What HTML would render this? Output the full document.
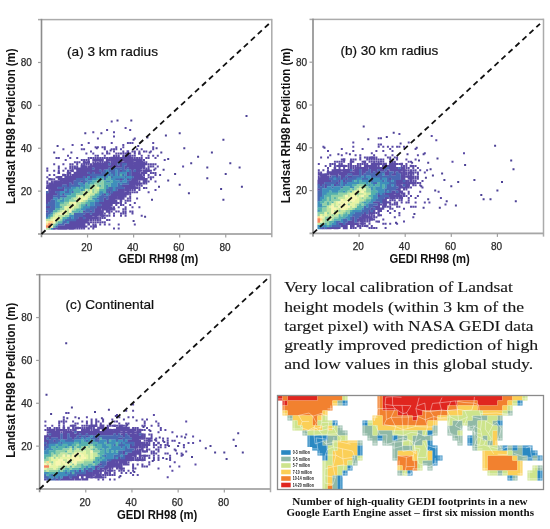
<!DOCTYPE html><html><head><meta charset="utf-8"><style>html,body{margin:0;padding:0;background:#fff;width:550px;height:529px;overflow:hidden}svg{display:block;filter:blur(0.35px)}.tk{font-family:"Liberation Sans",sans-serif;font-size:10px;fill:#2a2a2a;stroke:#2a2a2a;stroke-width:0.25px}.lb{font-family:"Liberation Sans",sans-serif;font-size:12px;font-weight:bold;fill:#111}.tt{font-family:"Liberation Sans",sans-serif;font-size:13px;fill:#111;stroke:#111;stroke-width:0.2px}.sf{font-family:"Liberation Serif",serif;font-size:15px;fill:#151515;stroke:#151515;stroke-width:0.12px}.cp{font-family:"Liberation Serif",serif;font-size:10.6px;font-weight:bold;fill:#111}</style></head><body>
<svg width="550" height="529" viewBox="0 0 550 529">
<g><path fill="#5b4ba6" d="M87.41 212.41h2.60v2.44h-2.60zM124.26 193.11h2.60v2.44h-2.60zM124.26 167.39h2.60v2.44h-2.60zM115.05 158.81h2.60v2.44h-2.60zM52.87 193.11h2.60v2.44h-2.60zM108.14 165.24h2.60v2.44h-2.60zM98.92 167.39h2.60v2.44h-2.60zM145.3 182.6h2v2h-2zM96.62 205.98h2.60v2.44h-2.60zM87.41 214.55h2.60v2.44h-2.60zM108.14 197.40h2.60v2.44h-2.60zM82.80 214.55h2.60v2.44h-2.60zM66.68 178.11h2.60v2.44h-2.60zM57.47 182.39h2.60v2.44h-2.60zM48.26 197.40h2.60v2.44h-2.60zM53.2 180.5h2v2h-2zM113.0 206.2h2v2h-2zM89.71 214.55h2.60v2.44h-2.60zM55.17 193.11h2.60v2.44h-2.60zM89.71 171.67h2.60v2.44h-2.60zM119.65 169.53h2.60v2.44h-2.60zM62.08 188.83h2.60v2.44h-2.60zM96.62 171.67h2.60v2.44h-2.60zM117.35 158.81h2.60v2.44h-2.60zM52.87 184.54h2.60v2.44h-2.60zM115.05 190.97h2.60v2.44h-2.60zM50.9 189.0h2v2h-2zM108.4 156.9h2v2h-2zM133.47 175.96h2.60v2.44h-2.60zM101.23 201.69h2.60v2.44h-2.60zM75.89 218.84h2.60v2.44h-2.60zM80.50 218.84h2.60v2.44h-2.60zM128.86 160.95h2.60v2.44h-2.60zM126.56 190.97h2.60v2.44h-2.60zM154.5 167.6h2v2h-2zM92.3 161.2h2v2h-2zM69.3 225.5h2v2h-2zM48.26 186.68h2.60v2.44h-2.60zM96.62 208.12h2.60v2.44h-2.60zM94.32 171.67h2.60v2.44h-2.60zM89.71 210.27h2.60v2.44h-2.60zM105.83 210.27h2.60v2.44h-2.60zM138.08 173.82h2.60v2.44h-2.60zM85.11 167.39h2.60v2.44h-2.60zM133.47 182.39h2.60v2.44h-2.60zM87.7 219.1h2v2h-2zM73.59 171.67h2.60v2.44h-2.60zM73.9 227.6h2v2h-2zM85.11 214.55h2.60v2.44h-2.60zM131.17 186.68h2.60v2.44h-2.60zM119.65 199.55h2.60v2.44h-2.60zM112.74 163.10h2.60v2.44h-2.60zM71.29 169.53h2.60v2.44h-2.60zM101.23 167.39h2.60v2.44h-2.60zM73.59 175.96h2.60v2.44h-2.60zM94.32 163.10h2.60v2.44h-2.60zM62.08 186.68h2.60v2.44h-2.60zM82.80 171.67h2.60v2.44h-2.60zM128.86 167.39h2.60v2.44h-2.60zM73.59 225.27h2.60v2.44h-2.60zM69.3 165.5h2v2h-2zM57.47 188.83h2.60v2.44h-2.60zM110.44 195.26h2.60v2.44h-2.60zM133.47 178.11h2.60v2.44h-2.60zM126.56 156.67h2.60v2.44h-2.60zM66.68 184.54h2.60v2.44h-2.60zM152.2 163.3h2v2h-2zM64.38 227.42h2.60v2.44h-2.60zM94.32 210.27h2.60v2.44h-2.60zM98.92 158.81h2.60v2.44h-2.60zM128.86 165.24h2.60v2.44h-2.60zM52.87 188.83h2.60v2.44h-2.60zM48.26 195.26h2.60v2.44h-2.60zM78.20 216.70h2.60v2.44h-2.60zM115.05 163.10h2.60v2.44h-2.60zM131.17 160.95h2.60v2.44h-2.60zM126.56 186.68h2.60v2.44h-2.60zM94.32 208.12h2.60v2.44h-2.60zM122.3 159.0h2v2h-2zM98.92 205.98h2.60v2.44h-2.60zM68.99 180.25h2.60v2.44h-2.60zM103.53 201.69h2.60v2.44h-2.60zM103.53 197.40h2.60v2.44h-2.60zM64.38 182.39h2.60v2.44h-2.60zM82.80 160.95h2.60v2.44h-2.60zM62.08 227.42h2.60v2.44h-2.60zM52.87 227.42h2.60v2.44h-2.60zM117.35 193.11h2.60v2.44h-2.60zM110.44 167.39h2.60v2.44h-2.60zM140.38 160.95h2.60v2.44h-2.60zM90.0 163.3h2v2h-2zM48.26 205.98h2.60v2.44h-2.60zM92.02 212.41h2.60v2.44h-2.60zM133.8 156.9h2v2h-2zM135.77 163.10h2.60v2.44h-2.60zM73.59 173.82h2.60v2.44h-2.60zM50.56 195.26h2.60v2.44h-2.60zM110.44 193.11h2.60v2.44h-2.60zM78.5 219.1h2v2h-2zM120.0 201.9h2v2h-2zM85.11 173.82h2.60v2.44h-2.60zM101.23 203.83h2.60v2.44h-2.60zM50.56 197.40h2.60v2.44h-2.60zM124.26 158.81h2.60v2.44h-2.60zM112.74 156.67h2.60v2.44h-2.60zM105.83 165.24h2.60v2.44h-2.60zM135.77 178.11h2.60v2.44h-2.60zM121.95 156.67h2.60v2.44h-2.60zM92.3 159.0h2v2h-2zM138.08 175.96h2.60v2.44h-2.60zM85.11 171.67h2.60v2.44h-2.60zM138.08 182.39h2.60v2.44h-2.60zM101.23 163.10h2.60v2.44h-2.60zM135.77 165.24h2.60v2.44h-2.60zM48.26 188.83h2.60v2.44h-2.60zM112.74 197.40h2.60v2.44h-2.60zM66.68 182.39h2.60v2.44h-2.60zM119.65 158.81h2.60v2.44h-2.60zM50.56 190.97h2.60v2.44h-2.60zM78.5 223.4h2v2h-2zM119.65 190.97h2.60v2.44h-2.60zM128.86 180.25h2.60v2.44h-2.60zM133.8 159.0h2v2h-2zM89.71 167.39h2.60v2.44h-2.60zM140.7 154.7h2v2h-2zM131.17 182.39h2.60v2.44h-2.60zM138.08 167.39h2.60v2.44h-2.60zM80.50 216.70h2.60v2.44h-2.60zM62.08 178.11h2.60v2.44h-2.60zM45.96 201.69h2.60v2.44h-2.60zM121.95 195.26h2.60v2.44h-2.60zM50.56 184.54h2.60v2.44h-2.60zM124.26 184.54h2.60v2.44h-2.60zM92.3 152.6h2v2h-2zM112.74 165.24h2.60v2.44h-2.60zM96.62 169.53h2.60v2.44h-2.60zM68.99 220.99h2.60v2.44h-2.60zM71.29 175.96h2.60v2.44h-2.60zM103.8 154.7h2v2h-2zM82.80 210.27h2.60v2.44h-2.60zM75.89 171.67h2.60v2.44h-2.60zM50.56 186.68h2.60v2.44h-2.60zM48.26 184.54h2.60v2.44h-2.60zM110.44 158.81h2.60v2.44h-2.60zM80.50 175.96h2.60v2.44h-2.60zM89.71 175.96h2.60v2.44h-2.60zM83.1 227.6h2v2h-2zM117.35 165.24h2.60v2.44h-2.60zM115.05 201.69h2.60v2.44h-2.60zM59.77 184.54h2.60v2.44h-2.60zM117.35 190.97h2.60v2.44h-2.60zM110.44 197.40h2.60v2.44h-2.60zM80.8 148.3h2v2h-2zM78.20 225.27h2.60v2.44h-2.60zM55.17 184.54h2.60v2.44h-2.60zM62.08 225.27h2.60v2.44h-2.60zM94.32 165.24h2.60v2.44h-2.60zM138.4 178.3h2v2h-2zM133.47 173.82h2.60v2.44h-2.60zM80.50 180.25h2.60v2.44h-2.60zM94.32 216.70h2.60v2.44h-2.60zM105.83 163.10h2.60v2.44h-2.60zM124.26 165.24h2.60v2.44h-2.60zM124.26 160.95h2.60v2.44h-2.60zM80.50 173.82h2.60v2.44h-2.60zM108.14 208.12h2.60v2.44h-2.60zM135.77 182.39h2.60v2.44h-2.60zM115.05 193.11h2.60v2.44h-2.60zM131.5 210.5h2v2h-2zM87.7 165.5h2v2h-2zM126.56 184.54h2.60v2.44h-2.60zM80.50 165.24h2.60v2.44h-2.60zM119.65 160.95h2.60v2.44h-2.60zM80.50 223.13h2.60v2.44h-2.60zM99.2 161.2h2v2h-2zM85.11 175.96h2.60v2.44h-2.60zM66.68 180.25h2.60v2.44h-2.60zM68.99 227.42h2.60v2.44h-2.60zM71.29 227.42h2.60v2.44h-2.60zM126.56 171.67h2.60v2.44h-2.60zM110.44 165.24h2.60v2.44h-2.60zM66.68 175.96h2.60v2.44h-2.60zM48.26 193.11h2.60v2.44h-2.60zM55.17 188.83h2.60v2.44h-2.60zM138.08 160.95h2.60v2.44h-2.60zM62.08 173.82h2.60v2.44h-2.60zM119.65 178.11h2.60v2.44h-2.60zM142.68 163.10h2.60v2.44h-2.60zM140.7 174.0h2v2h-2zM135.77 171.67h2.60v2.44h-2.60zM126.56 188.83h2.60v2.44h-2.60zM57.47 171.67h2.60v2.44h-2.60zM96.62 210.27h2.60v2.44h-2.60zM138.4 171.9h2v2h-2zM64.38 180.25h2.60v2.44h-2.60zM80.8 167.6h2v2h-2zM126.56 173.82h2.60v2.44h-2.60zM131.17 167.39h2.60v2.44h-2.60zM89.71 169.53h2.60v2.44h-2.60zM94.32 169.53h2.60v2.44h-2.60zM108.4 219.1h2v2h-2zM48.26 199.55h2.60v2.44h-2.60zM98.92 201.69h2.60v2.44h-2.60zM101.23 205.98h2.60v2.44h-2.60zM73.9 165.5h2v2h-2zM57.47 225.27h2.60v2.44h-2.60zM71.29 220.99h2.60v2.44h-2.60zM96.9 159.0h2v2h-2zM59.77 182.39h2.60v2.44h-2.60zM66.68 223.13h2.60v2.44h-2.60zM119.65 165.24h2.60v2.44h-2.60zM126.56 150.23h2.60v2.44h-2.60zM89.71 165.24h2.60v2.44h-2.60zM133.47 171.67h2.60v2.44h-2.60zM45.96 195.26h2.60v2.44h-2.60zM110.7 161.2h2v2h-2zM138.08 169.53h2.60v2.44h-2.60zM143.0 174.0h2v2h-2zM71.6 167.6h2v2h-2zM143.0 159.0h2v2h-2zM82.80 167.39h2.60v2.44h-2.60zM105.83 203.83h2.60v2.44h-2.60zM53.2 182.6h2v2h-2zM115.3 195.5h2v2h-2zM105.83 205.98h2.60v2.44h-2.60zM82.80 169.53h2.60v2.44h-2.60zM140.7 169.8h2v2h-2zM59.77 180.25h2.60v2.44h-2.60zM143.0 186.9h2v2h-2zM108.14 205.98h2.60v2.44h-2.60zM154.5 180.5h2v2h-2zM68.99 175.96h2.60v2.44h-2.60zM135.77 173.82h2.60v2.44h-2.60zM82.80 223.13h2.60v2.44h-2.60zM124.6 212.6h2v2h-2zM131.17 171.67h2.60v2.44h-2.60zM135.77 158.81h2.60v2.44h-2.60zM108.14 199.55h2.60v2.44h-2.60zM112.74 158.81h2.60v2.44h-2.60zM129.2 141.9h2v2h-2zM122.3 146.2h2v2h-2zM112.74 193.11h2.60v2.44h-2.60zM110.44 199.55h2.60v2.44h-2.60zM82.80 165.24h2.60v2.44h-2.60zM124.6 206.2h2v2h-2zM68.99 178.11h2.60v2.44h-2.60zM62.4 163.3h2v2h-2zM121.95 188.83h2.60v2.44h-2.60zM94.32 225.27h2.60v2.44h-2.60zM80.50 171.67h2.60v2.44h-2.60zM131.17 169.53h2.60v2.44h-2.60zM94.6 161.2h2v2h-2zM117.7 210.5h2v2h-2zM115.05 160.95h2.60v2.44h-2.60zM126.9 199.8h2v2h-2zM98.92 212.41h2.60v2.44h-2.60zM94.32 158.81h2.60v2.44h-2.60zM59.77 188.83h2.60v2.44h-2.60zM101.23 165.24h2.60v2.44h-2.60zM138.4 186.9h2v2h-2zM103.53 199.55h2.60v2.44h-2.60zM112.74 160.95h2.60v2.44h-2.60zM87.7 163.3h2v2h-2zM80.8 163.3h2v2h-2zM126.56 152.38h2.60v2.44h-2.60zM62.08 193.11h2.60v2.44h-2.60zM121.95 190.97h2.60v2.44h-2.60zM154.5 163.3h2v2h-2zM115.3 152.6h2v2h-2zM92.3 221.2h2v2h-2zM71.29 180.25h2.60v2.44h-2.60zM112.74 190.97h2.60v2.44h-2.60zM131.17 180.25h2.60v2.44h-2.60zM133.8 184.8h2v2h-2zM78.20 220.99h2.60v2.44h-2.60zM140.7 171.9h2v2h-2zM105.83 199.55h2.60v2.44h-2.60zM55.17 180.25h2.60v2.44h-2.60zM119.65 163.10h2.60v2.44h-2.60zM82.80 225.27h2.60v2.44h-2.60zM87.41 167.39h2.60v2.44h-2.60zM64.38 175.96h2.60v2.44h-2.60zM85.4 165.5h2v2h-2zM138.08 158.81h2.60v2.44h-2.60zM103.53 203.83h2.60v2.44h-2.60zM110.44 201.69h2.60v2.44h-2.60zM71.6 144.0h2v2h-2zM78.20 167.39h2.60v2.44h-2.60zM136.1 180.5h2v2h-2zM131.17 173.82h2.60v2.44h-2.60zM98.92 171.67h2.60v2.44h-2.60zM145.3 171.9h2v2h-2zM71.29 225.27h2.60v2.44h-2.60zM99.2 221.2h2v2h-2zM87.41 160.95h2.60v2.44h-2.60zM85.11 218.84h2.60v2.44h-2.60zM106.1 219.1h2v2h-2zM82.80 220.99h2.60v2.44h-2.60zM46.3 167.6h2v2h-2zM133.47 180.25h2.60v2.44h-2.60zM76.2 161.2h2v2h-2zM110.44 163.10h2.60v2.44h-2.60zM126.56 154.52h2.60v2.44h-2.60zM99.2 208.3h2v2h-2zM85.11 212.41h2.60v2.44h-2.60zM57.8 165.5h2v2h-2zM124.26 186.68h2.60v2.44h-2.60zM69.3 156.9h2v2h-2zM144.98 169.53h2.60v2.44h-2.60zM126.9 197.6h2v2h-2zM126.56 163.10h2.60v2.44h-2.60zM145.3 156.9h2v2h-2zM108.4 210.5h2v2h-2zM103.8 212.6h2v2h-2zM94.6 219.1h2v2h-2zM149.9 169.8h2v2h-2zM105.83 201.69h2.60v2.44h-2.60zM48.26 178.11h2.60v2.44h-2.60zM68.99 223.13h2.60v2.44h-2.60zM131.17 163.10h2.60v2.44h-2.60zM120.0 204.1h2v2h-2zM64.7 174.0h2v2h-2zM76.2 169.8h2v2h-2zM85.11 216.70h2.60v2.44h-2.60zM106.1 214.8h2v2h-2zM94.32 212.41h2.60v2.44h-2.60zM143.0 150.5h2v2h-2zM115.05 165.24h2.60v2.44h-2.60zM78.20 175.96h2.60v2.44h-2.60zM101.5 161.2h2v2h-2zM121.95 184.54h2.60v2.44h-2.60zM92.02 169.53h2.60v2.44h-2.60zM122.3 152.6h2v2h-2zM129.2 197.6h2v2h-2zM142.68 165.24h2.60v2.44h-2.60zM124.6 208.3h2v2h-2zM96.9 146.2h2v2h-2zM117.35 188.83h2.60v2.44h-2.60zM55.5 176.2h2v2h-2zM59.77 225.27h2.60v2.44h-2.60zM69.3 163.3h2v2h-2zM87.41 216.70h2.60v2.44h-2.60zM108.4 212.6h2v2h-2zM59.77 227.42h2.60v2.44h-2.60zM126.56 158.81h2.60v2.44h-2.60zM108.14 190.97h2.60v2.44h-2.60zM78.20 169.53h2.60v2.44h-2.60zM117.35 160.95h2.60v2.44h-2.60zM133.47 165.24h2.60v2.44h-2.60zM55.17 186.68h2.60v2.44h-2.60zM128.86 186.68h2.60v2.44h-2.60zM64.7 167.6h2v2h-2zM105.83 167.39h2.60v2.44h-2.60zM78.5 227.6h2v2h-2zM128.86 163.10h2.60v2.44h-2.60zM64.38 225.27h2.60v2.44h-2.60zM119.65 197.40h2.60v2.44h-2.60zM90.0 225.5h2v2h-2zM113.0 154.7h2v2h-2zM45.96 210.27h2.60v2.44h-2.60zM45.96 186.68h2.60v2.44h-2.60zM133.8 189.0h2v2h-2zM126.56 178.11h2.60v2.44h-2.60zM46.3 184.8h2v2h-2zM50.9 180.5h2v2h-2zM138.4 156.9h2v2h-2zM59.77 178.11h2.60v2.44h-2.60zM147.29 169.53h2.60v2.44h-2.60zM138.08 163.10h2.60v2.44h-2.60zM128.86 184.54h2.60v2.44h-2.60zM80.50 220.99h2.60v2.44h-2.60zM135.77 175.96h2.60v2.44h-2.60zM101.23 210.27h2.60v2.44h-2.60zM96.9 221.2h2v2h-2zM57.47 175.96h2.60v2.44h-2.60zM149.9 171.9h2v2h-2zM96.62 167.39h2.60v2.44h-2.60zM45.96 199.55h2.60v2.44h-2.60zM98.92 165.24h2.60v2.44h-2.60zM131.17 178.11h2.60v2.44h-2.60zM48.6 182.6h2v2h-2zM69.3 167.6h2v2h-2zM57.8 180.5h2v2h-2zM73.59 178.11h2.60v2.44h-2.60zM126.9 141.9h2v2h-2zM66.68 225.27h2.60v2.44h-2.60zM85.11 169.53h2.60v2.44h-2.60zM142.68 180.25h2.60v2.44h-2.60zM92.3 227.6h2v2h-2zM45.96 193.11h2.60v2.44h-2.60zM135.77 169.53h2.60v2.44h-2.60zM143.0 176.2h2v2h-2zM87.7 227.6h2v2h-2zM82.80 218.84h2.60v2.44h-2.60zM135.77 167.39h2.60v2.44h-2.60zM126.56 165.24h2.60v2.44h-2.60zM101.5 221.2h2v2h-2zM122.3 154.7h2v2h-2zM124.26 156.67h2.60v2.44h-2.60zM140.7 167.6h2v2h-2zM52.87 190.97h2.60v2.44h-2.60zM62.08 182.39h2.60v2.44h-2.60zM108.4 214.8h2v2h-2zM82.80 173.82h2.60v2.44h-2.60zM156.8 165.5h2v2h-2zM75.89 173.82h2.60v2.44h-2.60zM96.9 165.5h2v2h-2zM144.98 178.11h2.60v2.44h-2.60zM71.29 178.11h2.60v2.44h-2.60zM142.68 171.67h2.60v2.44h-2.60zM140.38 165.24h2.60v2.44h-2.60zM103.53 165.24h2.60v2.44h-2.60zM71.29 182.39h2.60v2.44h-2.60zM85.4 161.2h2v2h-2zM75.89 225.27h2.60v2.44h-2.60zM140.7 156.9h2v2h-2zM140.38 178.11h2.60v2.44h-2.60zM129.2 195.5h2v2h-2zM71.6 174.0h2v2h-2zM80.50 169.53h2.60v2.44h-2.60zM96.9 154.7h2v2h-2zM117.7 152.6h2v2h-2zM64.7 178.3h2v2h-2zM105.83 160.95h2.60v2.44h-2.60zM145.3 180.5h2v2h-2zM133.8 161.2h2v2h-2zM96.9 214.8h2v2h-2zM108.14 195.26h2.60v2.44h-2.60zM98.92 210.27h2.60v2.44h-2.60zM75.89 167.39h2.60v2.44h-2.60zM89.71 216.70h2.60v2.44h-2.60zM87.41 169.53h2.60v2.44h-2.60zM53.2 163.3h2v2h-2zM78.20 171.67h2.60v2.44h-2.60zM143.0 178.3h2v2h-2zM75.89 223.13h2.60v2.44h-2.60zM103.53 205.98h2.60v2.44h-2.60zM80.8 225.5h2v2h-2zM121.95 197.40h2.60v2.44h-2.60zM85.4 152.6h2v2h-2zM106.1 156.9h2v2h-2zM143.0 167.6h2v2h-2zM140.7 182.6h2v2h-2zM117.35 195.26h2.60v2.44h-2.60zM145.3 150.5h2v2h-2zM121.95 193.11h2.60v2.44h-2.60zM80.8 159.0h2v2h-2zM75.89 175.96h2.60v2.44h-2.60zM131.17 165.24h2.60v2.44h-2.60zM133.8 163.3h2v2h-2zM96.62 212.41h2.60v2.44h-2.60zM108.4 152.6h2v2h-2zM108.14 201.69h2.60v2.44h-2.60zM76.2 227.6h2v2h-2zM57.8 178.3h2v2h-2zM140.38 163.10h2.60v2.44h-2.60zM110.7 208.3h2v2h-2zM45.96 205.98h2.60v2.44h-2.60zM145.3 186.9h2v2h-2zM115.05 156.67h2.60v2.44h-2.60zM140.38 175.96h2.60v2.44h-2.60zM117.7 154.7h2v2h-2zM78.5 161.2h2v2h-2zM92.02 165.24h2.60v2.44h-2.60zM57.47 227.42h2.60v2.44h-2.60zM128.86 182.39h2.60v2.44h-2.60zM113.0 214.8h2v2h-2zM94.6 223.4h2v2h-2zM112.74 195.26h2.60v2.44h-2.60zM117.35 156.67h2.60v2.44h-2.60zM145.3 161.2h2v2h-2zM67.0 169.8h2v2h-2zM120.0 212.6h2v2h-2zM53.2 178.3h2v2h-2zM69.3 169.8h2v2h-2zM55.5 227.6h2v2h-2zM138.08 152.38h2.60v2.44h-2.60zM108.4 161.2h2v2h-2zM108.4 159.0h2v2h-2zM103.53 193.11h2.60v2.44h-2.60zM87.41 223.13h2.60v2.44h-2.60zM99.2 223.4h2v2h-2zM147.6 165.5h2v2h-2zM53.2 169.8h2v2h-2zM131.17 158.81h2.60v2.44h-2.60zM94.6 221.2h2v2h-2zM110.7 120.4h2v2h-2zM138.4 180.5h2v2h-2zM135.77 160.95h2.60v2.44h-2.60zM87.41 173.82h2.60v2.44h-2.60zM133.47 186.68h2.60v2.44h-2.60zM149.9 176.2h2v2h-2zM105.83 158.81h2.60v2.44h-2.60zM46.3 180.5h2v2h-2zM128.86 158.81h2.60v2.44h-2.60zM101.5 152.6h2v2h-2zM103.53 167.39h2.60v2.44h-2.60zM59.77 175.96h2.60v2.44h-2.60zM108.14 203.83h2.60v2.44h-2.60zM90.0 219.1h2v2h-2zM126.56 160.95h2.60v2.44h-2.60zM85.11 220.99h2.60v2.44h-2.60zM94.6 154.7h2v2h-2zM133.8 201.9h2v2h-2zM48.6 174.0h2v2h-2zM115.3 204.1h2v2h-2zM122.3 161.2h2v2h-2zM152.2 171.9h2v2h-2zM128.86 156.67h2.60v2.44h-2.60zM136.1 184.8h2v2h-2zM110.44 156.67h2.60v2.44h-2.60zM101.23 169.53h2.60v2.44h-2.60zM145.3 167.6h2v2h-2zM131.5 141.9h2v2h-2zM92.3 156.9h2v2h-2zM92.3 163.3h2v2h-2zM156.8 154.7h2v2h-2zM124.6 152.6h2v2h-2zM133.8 223.4h2v2h-2zM117.35 197.40h2.60v2.44h-2.60zM99.2 216.9h2v2h-2zM46.3 182.6h2v2h-2zM96.9 161.2h2v2h-2zM46.3 169.8h2v2h-2zM73.9 167.6h2v2h-2zM103.8 223.4h2v2h-2zM78.20 173.82h2.60v2.44h-2.60zM76.2 163.3h2v2h-2zM119.65 188.83h2.60v2.44h-2.60zM103.53 208.12h2.60v2.44h-2.60zM113.0 148.3h2v2h-2zM76.2 165.5h2v2h-2zM115.3 210.5h2v2h-2zM124.6 201.9h2v2h-2zM90.0 150.5h2v2h-2zM147.6 174.0h2v2h-2zM64.7 223.4h2v2h-2zM96.62 163.10h2.60v2.44h-2.60zM133.47 167.39h2.60v2.44h-2.60zM106.1 208.3h2v2h-2zM73.59 223.13h2.60v2.44h-2.60zM154.5 189.0h2v2h-2zM117.7 201.9h2v2h-2zM124.6 214.8h2v2h-2zM103.8 148.3h2v2h-2zM122.3 212.6h2v2h-2zM147.6 156.9h2v2h-2zM103.53 163.10h2.60v2.44h-2.60zM113.0 150.5h2v2h-2zM76.2 156.9h2v2h-2zM55.17 182.39h2.60v2.44h-2.60zM69.3 174.0h2v2h-2zM145.3 163.3h2v2h-2zM138.4 189.0h2v2h-2zM71.29 223.13h2.60v2.44h-2.60zM124.6 189.0h2v2h-2zM154.5 174.0h2v2h-2zM131.17 184.54h2.60v2.44h-2.60zM45.96 197.40h2.60v2.44h-2.60zM129.2 189.0h2v2h-2zM136.1 156.9h2v2h-2zM96.9 216.9h2v2h-2zM147.6 191.2h2v2h-2zM119.65 195.26h2.60v2.44h-2.60zM133.8 137.6h2v2h-2zM50.56 182.39h2.60v2.44h-2.60zM50.56 193.11h2.60v2.44h-2.60zM92.3 214.8h2v2h-2zM85.4 159.0h2v2h-2zM115.3 197.6h2v2h-2zM112.74 208.12h2.60v2.44h-2.60zM73.59 220.99h2.60v2.44h-2.60zM110.7 204.1h2v2h-2zM110.7 206.2h2v2h-2zM136.1 186.9h2v2h-2zM182.1 165.5h2v2h-2zM103.8 161.2h2v2h-2zM136.1 148.3h2v2h-2zM113.0 135.4h2v2h-2zM94.32 167.39h2.60v2.44h-2.60zM113.0 201.9h2v2h-2zM52.87 186.68h2.60v2.44h-2.60zM129.2 154.7h2v2h-2zM103.8 156.9h2v2h-2zM69.3 171.9h2v2h-2zM83.1 163.3h2v2h-2zM80.8 144.0h2v2h-2zM138.08 165.24h2.60v2.44h-2.60zM87.7 141.9h2v2h-2zM152.2 141.9h2v2h-2zM131.5 156.9h2v2h-2zM106.1 152.6h2v2h-2zM101.23 214.55h2.60v2.44h-2.60zM57.47 184.54h2.60v2.44h-2.60zM115.3 148.3h2v2h-2zM67.0 154.7h2v2h-2zM117.7 206.2h2v2h-2zM85.4 163.3h2v2h-2zM87.7 221.2h2v2h-2zM138.4 206.2h2v2h-2zM66.68 171.67h2.60v2.44h-2.60zM96.9 219.1h2v2h-2zM67.0 227.6h2v2h-2zM92.3 219.1h2v2h-2zM143.0 161.2h2v2h-2zM122.3 144.0h2v2h-2zM87.7 159.0h2v2h-2zM75.89 220.99h2.60v2.44h-2.60zM119.65 193.11h2.60v2.44h-2.60zM129.2 199.8h2v2h-2zM120.0 214.8h2v2h-2zM94.32 214.55h2.60v2.44h-2.60zM110.7 148.3h2v2h-2zM120.0 152.6h2v2h-2zM92.3 223.4h2v2h-2zM92.3 131.2h2v2h-2zM67.0 174.0h2v2h-2zM120.0 156.9h2v2h-2zM124.6 126.9h2v2h-2zM133.8 154.7h2v2h-2zM159.1 174.0h2v2h-2zM92.3 225.5h2v2h-2zM99.2 214.8h2v2h-2zM152.2 154.7h2v2h-2zM147.6 154.7h2v2h-2zM101.23 158.81h2.60v2.44h-2.60zM112.74 199.55h2.60v2.44h-2.60zM149.9 165.5h2v2h-2zM122.3 208.3h2v2h-2zM113.0 131.2h2v2h-2zM101.5 212.6h2v2h-2zM140.7 214.8h2v2h-2zM115.3 154.7h2v2h-2zM92.3 216.9h2v2h-2zM126.9 193.3h2v2h-2zM129.2 152.6h2v2h-2zM133.8 152.6h2v2h-2zM106.1 150.5h2v2h-2zM108.4 223.4h2v2h-2zM90.0 156.9h2v2h-2zM154.5 156.9h2v2h-2zM147.6 163.3h2v2h-2zM149.9 163.3h2v2h-2zM83.1 159.0h2v2h-2zM106.1 129.0h2v2h-2zM149.9 150.5h2v2h-2zM124.6 199.8h2v2h-2zM110.7 141.9h2v2h-2zM62.4 180.5h2v2h-2zM129.2 210.5h2v2h-2zM103.8 221.2h2v2h-2zM122.3 150.5h2v2h-2zM57.8 156.9h2v2h-2zM138.4 150.5h2v2h-2zM117.7 227.6h2v2h-2zM90.0 221.2h2v2h-2zM129.2 191.2h2v2h-2zM147.6 180.5h2v2h-2zM136.1 191.2h2v2h-2zM131.5 191.2h2v2h-2zM99.2 219.1h2v2h-2zM101.5 216.9h2v2h-2zM50.9 178.3h2v2h-2zM101.5 208.3h2v2h-2zM71.6 165.5h2v2h-2zM143.0 182.6h2v2h-2zM131.5 150.5h2v2h-2zM64.7 159.0h2v2h-2zM48.26 190.97h2.60v2.44h-2.60zM96.9 137.6h2v2h-2zM115.3 199.8h2v2h-2zM140.7 148.3h2v2h-2zM131.5 212.6h2v2h-2zM83.1 148.3h2v2h-2zM122.3 210.5h2v2h-2zM163.7 159.0h2v2h-2zM131.5 189.0h2v2h-2zM62.4 148.3h2v2h-2zM140.7 184.8h2v2h-2zM57.8 169.8h2v2h-2zM152.2 148.3h2v2h-2zM94.6 156.9h2v2h-2zM103.8 214.8h2v2h-2zM113.0 227.6h2v2h-2zM103.8 216.9h2v2h-2zM124.6 195.5h2v2h-2zM87.7 156.9h2v2h-2zM113.0 212.6h2v2h-2zM57.8 167.6h2v2h-2zM124.6 191.2h2v2h-2zM129.2 129.0h2v2h-2zM124.6 154.7h2v2h-2zM71.6 163.3h2v2h-2zM152.2 165.5h2v2h-2zM122.3 204.1h2v2h-2zM147.6 167.6h2v2h-2zM110.7 210.5h2v2h-2zM99.2 156.9h2v2h-2zM103.8 146.2h2v2h-2zM73.9 161.2h2v2h-2zM133.8 150.5h2v2h-2zM96.9 156.9h2v2h-2zM62.4 169.8h2v2h-2zM131.5 206.2h2v2h-2zM136.1 197.6h2v2h-2zM117.7 223.4h2v2h-2zM152.2 146.2h2v2h-2zM124.6 210.5h2v2h-2zM115.3 146.2h2v2h-2zM133.8 191.2h2v2h-2zM140.7 159.0h2v2h-2zM120.0 148.3h2v2h-2zM149.9 178.3h2v2h-2zM53.2 174.0h2v2h-2zM138.4 184.8h2v2h-2zM99.2 163.3h2v2h-2zM129.2 204.1h2v2h-2zM147.6 176.2h2v2h-2zM143.0 169.8h2v2h-2zM129.2 193.3h2v2h-2zM46.3 176.2h2v2h-2zM101.5 146.2h2v2h-2zM80.8 227.6h2v2h-2zM131.5 154.7h2v2h-2zM101.5 156.9h2v2h-2zM55.5 156.9h2v2h-2zM154.5 171.9h2v2h-2zM94.6 146.2h2v2h-2zM152.2 176.2h2v2h-2zM85.4 225.5h2v2h-2z"/><path fill="#4a68b3" d="M55.17 190.97h2.60v2.44h-2.60zM64.38 195.26h2.60v2.44h-2.60zM92.02 173.82h2.60v2.44h-2.60zM124.26 169.53h2.60v2.44h-2.60zM73.59 218.84h2.60v2.44h-2.60zM92.02 208.12h2.60v2.44h-2.60zM64.38 220.99h2.60v2.44h-2.60zM110.44 186.68h2.60v2.44h-2.60zM121.95 173.82h2.60v2.44h-2.60zM78.20 180.25h2.60v2.44h-2.60zM87.41 208.12h2.60v2.44h-2.60zM115.05 178.11h2.60v2.44h-2.60zM103.53 175.96h2.60v2.44h-2.60zM82.80 180.25h2.60v2.44h-2.60zM112.74 167.39h2.60v2.44h-2.60zM101.23 195.26h2.60v2.44h-2.60zM57.47 193.11h2.60v2.44h-2.60zM101.23 199.55h2.60v2.44h-2.60zM48.26 210.27h2.60v2.44h-2.60zM87.41 171.67h2.60v2.44h-2.60zM78.20 184.54h2.60v2.44h-2.60zM75.89 212.41h2.60v2.44h-2.60zM117.35 178.11h2.60v2.44h-2.60zM75.89 184.54h2.60v2.44h-2.60zM80.50 178.11h2.60v2.44h-2.60zM92.02 175.96h2.60v2.44h-2.60zM71.29 218.84h2.60v2.44h-2.60zM62.08 223.13h2.60v2.44h-2.60zM52.87 205.98h2.60v2.44h-2.60zM71.29 184.54h2.60v2.44h-2.60zM115.05 186.68h2.60v2.44h-2.60zM115.05 167.39h2.60v2.44h-2.60zM115.05 188.83h2.60v2.44h-2.60zM66.68 218.84h2.60v2.44h-2.60zM98.92 197.40h2.60v2.44h-2.60zM119.65 184.54h2.60v2.44h-2.60zM110.44 171.67h2.60v2.44h-2.60zM121.95 167.39h2.60v2.44h-2.60zM80.50 212.41h2.60v2.44h-2.60zM92.02 167.39h2.60v2.44h-2.60zM80.50 214.55h2.60v2.44h-2.60zM50.56 210.27h2.60v2.44h-2.60zM45.96 212.41h2.60v2.44h-2.60zM73.59 216.70h2.60v2.44h-2.60zM117.35 186.68h2.60v2.44h-2.60zM50.56 205.98h2.60v2.44h-2.60zM73.59 182.39h2.60v2.44h-2.60zM94.32 173.82h2.60v2.44h-2.60zM75.89 180.25h2.60v2.44h-2.60zM98.92 169.53h2.60v2.44h-2.60zM59.77 223.13h2.60v2.44h-2.60zM128.86 173.82h2.60v2.44h-2.60zM55.17 195.26h2.60v2.44h-2.60zM68.99 186.68h2.60v2.44h-2.60zM105.83 195.26h2.60v2.44h-2.60zM64.38 218.84h2.60v2.44h-2.60zM66.68 190.97h2.60v2.44h-2.60zM78.20 214.55h2.60v2.44h-2.60zM73.59 214.55h2.60v2.44h-2.60zM52.87 195.26h2.60v2.44h-2.60zM71.29 190.97h2.60v2.44h-2.60zM117.35 184.54h2.60v2.44h-2.60zM108.14 188.83h2.60v2.44h-2.60zM108.14 169.53h2.60v2.44h-2.60zM128.86 178.11h2.60v2.44h-2.60zM105.83 190.97h2.60v2.44h-2.60zM89.71 173.82h2.60v2.44h-2.60zM87.41 210.27h2.60v2.44h-2.60zM103.53 195.26h2.60v2.44h-2.60zM66.68 188.83h2.60v2.44h-2.60zM82.80 178.11h2.60v2.44h-2.60zM124.26 182.39h2.60v2.44h-2.60zM94.32 203.83h2.60v2.44h-2.60zM98.92 199.55h2.60v2.44h-2.60zM121.95 163.10h2.60v2.44h-2.60zM52.87 208.12h2.60v2.44h-2.60zM68.99 182.39h2.60v2.44h-2.60zM103.53 171.67h2.60v2.44h-2.60zM48.26 201.69h2.60v2.44h-2.60zM85.11 203.83h2.60v2.44h-2.60zM117.35 171.67h2.60v2.44h-2.60zM52.87 203.83h2.60v2.44h-2.60zM89.71 212.41h2.60v2.44h-2.60zM78.20 178.11h2.60v2.44h-2.60zM126.56 182.39h2.60v2.44h-2.60zM108.14 173.82h2.60v2.44h-2.60zM89.71 208.12h2.60v2.44h-2.60zM50.56 201.69h2.60v2.44h-2.60zM57.47 223.13h2.60v2.44h-2.60zM50.56 203.83h2.60v2.44h-2.60zM103.53 173.82h2.60v2.44h-2.60zM94.32 201.69h2.60v2.44h-2.60zM117.35 182.39h2.60v2.44h-2.60zM124.26 163.10h2.60v2.44h-2.60zM98.92 173.82h2.60v2.44h-2.60zM110.44 188.83h2.60v2.44h-2.60zM124.26 175.96h2.60v2.44h-2.60zM112.74 169.53h2.60v2.44h-2.60zM121.95 186.68h2.60v2.44h-2.60zM89.71 178.11h2.60v2.44h-2.60zM57.47 186.68h2.60v2.44h-2.60zM59.77 195.26h2.60v2.44h-2.60zM103.53 178.11h2.60v2.44h-2.60zM119.65 180.25h2.60v2.44h-2.60zM98.92 195.26h2.60v2.44h-2.60zM68.99 216.70h2.60v2.44h-2.60zM126.56 180.25h2.60v2.44h-2.60zM126.56 167.39h2.60v2.44h-2.60zM128.86 171.67h2.60v2.44h-2.60zM101.23 193.11h2.60v2.44h-2.60zM52.87 201.69h2.60v2.44h-2.60zM82.80 175.96h2.60v2.44h-2.60zM119.65 186.68h2.60v2.44h-2.60zM131.17 175.96h2.60v2.44h-2.60zM59.77 186.68h2.60v2.44h-2.60zM119.65 167.39h2.60v2.44h-2.60zM45.96 214.55h2.60v2.44h-2.60zM50.56 199.55h2.60v2.44h-2.60zM85.11 208.12h2.60v2.44h-2.60zM68.99 218.84h2.60v2.44h-2.60zM85.11 180.25h2.60v2.44h-2.60zM62.08 220.99h2.60v2.44h-2.60zM96.62 197.40h2.60v2.44h-2.60zM108.14 186.68h2.60v2.44h-2.60zM110.44 190.97h2.60v2.44h-2.60zM96.62 203.83h2.60v2.44h-2.60zM87.41 178.11h2.60v2.44h-2.60zM121.95 178.11h2.60v2.44h-2.60zM117.35 169.53h2.60v2.44h-2.60zM121.95 169.53h2.60v2.44h-2.60zM50.56 208.12h2.60v2.44h-2.60zM94.32 175.96h2.60v2.44h-2.60zM75.89 216.70h2.60v2.44h-2.60zM45.96 208.12h2.60v2.44h-2.60zM96.62 201.69h2.60v2.44h-2.60zM121.95 182.39h2.60v2.44h-2.60zM73.59 212.41h2.60v2.44h-2.60zM52.87 199.55h2.60v2.44h-2.60zM66.68 186.68h2.60v2.44h-2.60zM92.02 210.27h2.60v2.44h-2.60zM57.47 197.40h2.60v2.44h-2.60zM64.38 186.68h2.60v2.44h-2.60zM48.26 208.12h2.60v2.44h-2.60zM75.89 182.39h2.60v2.44h-2.60zM89.71 205.98h2.60v2.44h-2.60zM103.53 169.53h2.60v2.44h-2.60zM45.96 190.97h2.60v2.44h-2.60zM78.20 212.41h2.60v2.44h-2.60zM101.23 197.40h2.60v2.44h-2.60zM92.02 171.67h2.60v2.44h-2.60zM112.74 171.67h2.60v2.44h-2.60zM112.74 173.82h2.60v2.44h-2.60zM57.47 195.26h2.60v2.44h-2.60zM117.35 167.39h2.60v2.44h-2.60zM85.11 210.27h2.60v2.44h-2.60zM64.38 190.97h2.60v2.44h-2.60zM82.80 182.39h2.60v2.44h-2.60zM73.59 180.25h2.60v2.44h-2.60zM117.35 163.10h2.60v2.44h-2.60zM82.80 212.41h2.60v2.44h-2.60zM108.14 167.39h2.60v2.44h-2.60zM57.47 190.97h2.60v2.44h-2.60zM68.99 184.54h2.60v2.44h-2.60zM62.08 184.54h2.60v2.44h-2.60zM110.44 169.53h2.60v2.44h-2.60zM121.95 165.24h2.60v2.44h-2.60zM117.35 173.82h2.60v2.44h-2.60zM48.26 203.83h2.60v2.44h-2.60zM96.62 173.82h2.60v2.44h-2.60zM82.80 216.70h2.60v2.44h-2.60zM75.89 178.11h2.60v2.44h-2.60zM108.14 163.10h2.60v2.44h-2.60zM108.14 193.11h2.60v2.44h-2.60zM92.02 205.98h2.60v2.44h-2.60zM45.96 203.83h2.60v2.44h-2.60zM62.08 195.26h2.60v2.44h-2.60zM73.59 184.54h2.60v2.44h-2.60zM94.32 205.98h2.60v2.44h-2.60zM98.92 203.83h2.60v2.44h-2.60zM64.38 184.54h2.60v2.44h-2.60zM101.23 171.67h2.60v2.44h-2.60zM110.44 175.96h2.60v2.44h-2.60zM75.89 214.55h2.60v2.44h-2.60zM133.47 169.53h2.60v2.44h-2.60zM48.26 212.41h2.60v2.44h-2.60zM101.23 173.82h2.60v2.44h-2.60zM105.83 188.83h2.60v2.44h-2.60zM55.17 225.27h2.60v2.44h-2.60zM105.83 197.40h2.60v2.44h-2.60zM128.86 169.53h2.60v2.44h-2.60z"/><path fill="#3f8fbb" d="M108.14 171.67h2.60v2.44h-2.60zM66.68 193.11h2.60v2.44h-2.60zM89.71 201.69h2.60v2.44h-2.60zM121.95 171.67h2.60v2.44h-2.60zM59.77 190.97h2.60v2.44h-2.60zM87.41 175.96h2.60v2.44h-2.60zM110.44 184.54h2.60v2.44h-2.60zM71.29 216.70h2.60v2.44h-2.60zM55.17 205.98h2.60v2.44h-2.60zM71.29 214.55h2.60v2.44h-2.60zM98.92 175.96h2.60v2.44h-2.60zM71.29 188.83h2.60v2.44h-2.60zM105.83 171.67h2.60v2.44h-2.60zM101.23 190.97h2.60v2.44h-2.60zM68.99 188.83h2.60v2.44h-2.60zM115.05 184.54h2.60v2.44h-2.60zM92.02 201.69h2.60v2.44h-2.60zM82.80 205.98h2.60v2.44h-2.60zM105.83 184.54h2.60v2.44h-2.60zM80.50 188.83h2.60v2.44h-2.60zM105.83 175.96h2.60v2.44h-2.60zM57.47 203.83h2.60v2.44h-2.60zM55.17 201.69h2.60v2.44h-2.60zM73.59 186.68h2.60v2.44h-2.60zM110.44 182.39h2.60v2.44h-2.60zM64.38 193.11h2.60v2.44h-2.60zM110.44 178.11h2.60v2.44h-2.60zM80.50 208.12h2.60v2.44h-2.60zM115.05 169.53h2.60v2.44h-2.60zM124.26 180.25h2.60v2.44h-2.60zM68.99 193.11h2.60v2.44h-2.60zM57.47 201.69h2.60v2.44h-2.60zM112.74 184.54h2.60v2.44h-2.60zM94.32 197.40h2.60v2.44h-2.60zM82.80 186.68h2.60v2.44h-2.60zM119.65 175.96h2.60v2.44h-2.60zM105.83 180.25h2.60v2.44h-2.60zM57.47 205.98h2.60v2.44h-2.60zM96.62 175.96h2.60v2.44h-2.60zM98.92 190.97h2.60v2.44h-2.60zM121.95 180.25h2.60v2.44h-2.60zM105.83 186.68h2.60v2.44h-2.60zM55.17 197.40h2.60v2.44h-2.60zM55.17 199.55h2.60v2.44h-2.60zM55.17 203.83h2.60v2.44h-2.60zM124.26 173.82h2.60v2.44h-2.60zM78.20 182.39h2.60v2.44h-2.60zM112.74 180.25h2.60v2.44h-2.60zM45.96 216.70h2.60v2.44h-2.60zM80.50 184.54h2.60v2.44h-2.60zM59.77 193.11h2.60v2.44h-2.60zM115.05 180.25h2.60v2.44h-2.60zM78.20 210.27h2.60v2.44h-2.60zM124.26 171.67h2.60v2.44h-2.60zM82.80 208.12h2.60v2.44h-2.60zM71.29 186.68h2.60v2.44h-2.60zM48.26 214.55h2.60v2.44h-2.60zM62.08 197.40h2.60v2.44h-2.60zM85.11 178.11h2.60v2.44h-2.60zM98.92 193.11h2.60v2.44h-2.60zM96.62 199.55h2.60v2.44h-2.60zM117.35 180.25h2.60v2.44h-2.60zM89.71 203.83h2.60v2.44h-2.60zM105.83 173.82h2.60v2.44h-2.60zM115.05 182.39h2.60v2.44h-2.60zM105.83 193.11h2.60v2.44h-2.60zM68.99 190.97h2.60v2.44h-2.60zM124.26 178.11h2.60v2.44h-2.60zM87.41 182.39h2.60v2.44h-2.60zM50.56 212.41h2.60v2.44h-2.60zM110.44 173.82h2.60v2.44h-2.60zM64.38 188.83h2.60v2.44h-2.60zM92.02 197.40h2.60v2.44h-2.60zM78.20 186.68h2.60v2.44h-2.60zM112.74 186.68h2.60v2.44h-2.60zM121.95 175.96h2.60v2.44h-2.60zM94.32 178.11h2.60v2.44h-2.60zM115.05 173.82h2.60v2.44h-2.60zM62.08 218.84h2.60v2.44h-2.60zM59.77 199.55h2.60v2.44h-2.60zM119.65 182.39h2.60v2.44h-2.60zM96.62 195.26h2.60v2.44h-2.60zM89.71 180.25h2.60v2.44h-2.60zM115.05 171.67h2.60v2.44h-2.60zM101.23 175.96h2.60v2.44h-2.60zM117.35 175.96h2.60v2.44h-2.60zM66.68 216.70h2.60v2.44h-2.60zM128.86 175.96h2.60v2.44h-2.60zM126.56 169.53h2.60v2.44h-2.60zM50.56 227.42h2.60v2.44h-2.60zM82.80 184.54h2.60v2.44h-2.60zM68.99 214.55h2.60v2.44h-2.60zM112.74 178.11h2.60v2.44h-2.60zM119.65 171.67h2.60v2.44h-2.60zM105.83 169.53h2.60v2.44h-2.60zM94.32 199.55h2.60v2.44h-2.60zM66.68 220.99h2.60v2.44h-2.60zM52.87 197.40h2.60v2.44h-2.60zM115.05 175.96h2.60v2.44h-2.60zM92.02 203.83h2.60v2.44h-2.60zM112.74 182.39h2.60v2.44h-2.60zM87.41 180.25h2.60v2.44h-2.60zM112.74 175.96h2.60v2.44h-2.60zM62.08 190.97h2.60v2.44h-2.60zM80.50 182.39h2.60v2.44h-2.60zM62.08 199.55h2.60v2.44h-2.60zM108.14 180.25h2.60v2.44h-2.60zM112.74 188.83h2.60v2.44h-2.60zM87.41 205.98h2.60v2.44h-2.60zM92.02 178.11h2.60v2.44h-2.60zM98.92 178.11h2.60v2.44h-2.60zM85.11 205.98h2.60v2.44h-2.60zM126.56 175.96h2.60v2.44h-2.60z"/><path fill="#55b1ad" d="M59.77 205.98h2.60v2.44h-2.60zM50.56 214.55h2.60v2.44h-2.60zM98.92 188.83h2.60v2.44h-2.60zM103.53 180.25h2.60v2.44h-2.60zM59.77 197.40h2.60v2.44h-2.60zM108.14 184.54h2.60v2.44h-2.60zM103.53 184.54h2.60v2.44h-2.60zM55.17 208.12h2.60v2.44h-2.60zM80.50 205.98h2.60v2.44h-2.60zM82.80 203.83h2.60v2.44h-2.60zM92.02 180.25h2.60v2.44h-2.60zM94.32 193.11h2.60v2.44h-2.60zM75.89 188.83h2.60v2.44h-2.60zM103.53 182.39h2.60v2.44h-2.60zM98.92 184.54h2.60v2.44h-2.60zM59.77 220.99h2.60v2.44h-2.60zM101.23 188.83h2.60v2.44h-2.60zM71.29 210.27h2.60v2.44h-2.60zM80.50 186.68h2.60v2.44h-2.60zM103.53 186.68h2.60v2.44h-2.60zM87.41 199.55h2.60v2.44h-2.60zM103.53 190.97h2.60v2.44h-2.60zM71.29 193.11h2.60v2.44h-2.60zM75.89 208.12h2.60v2.44h-2.60zM85.11 201.69h2.60v2.44h-2.60zM78.20 188.83h2.60v2.44h-2.60zM94.32 180.25h2.60v2.44h-2.60zM87.41 186.68h2.60v2.44h-2.60zM73.59 190.97h2.60v2.44h-2.60zM89.71 182.39h2.60v2.44h-2.60zM48.26 216.70h2.60v2.44h-2.60zM119.65 173.82h2.60v2.44h-2.60zM52.87 225.27h2.60v2.44h-2.60zM57.47 220.99h2.60v2.44h-2.60zM92.02 195.26h2.60v2.44h-2.60zM73.59 195.26h2.60v2.44h-2.60zM66.68 197.40h2.60v2.44h-2.60zM64.38 216.70h2.60v2.44h-2.60zM57.47 208.12h2.60v2.44h-2.60zM73.59 188.83h2.60v2.44h-2.60zM68.99 197.40h2.60v2.44h-2.60zM103.53 188.83h2.60v2.44h-2.60zM68.99 212.41h2.60v2.44h-2.60zM85.11 182.39h2.60v2.44h-2.60zM62.08 201.69h2.60v2.44h-2.60zM92.02 182.39h2.60v2.44h-2.60zM55.17 210.27h2.60v2.44h-2.60zM108.14 175.96h2.60v2.44h-2.60zM85.11 186.68h2.60v2.44h-2.60zM66.68 195.26h2.60v2.44h-2.60zM89.71 199.55h2.60v2.44h-2.60zM80.50 210.27h2.60v2.44h-2.60zM66.68 199.55h2.60v2.44h-2.60zM110.44 180.25h2.60v2.44h-2.60zM59.77 201.69h2.60v2.44h-2.60zM105.83 178.11h2.60v2.44h-2.60zM85.11 184.54h2.60v2.44h-2.60zM52.87 210.27h2.60v2.44h-2.60zM87.41 184.54h2.60v2.44h-2.60zM96.62 178.11h2.60v2.44h-2.60zM105.83 182.39h2.60v2.44h-2.60zM73.59 193.11h2.60v2.44h-2.60zM55.17 223.13h2.60v2.44h-2.60zM101.23 178.11h2.60v2.44h-2.60zM78.20 208.12h2.60v2.44h-2.60zM98.92 180.25h2.60v2.44h-2.60zM80.50 203.83h2.60v2.44h-2.60zM62.08 216.70h2.60v2.44h-2.60zM94.32 195.26h2.60v2.44h-2.60zM87.41 201.69h2.60v2.44h-2.60zM96.62 193.11h2.60v2.44h-2.60zM73.59 210.27h2.60v2.44h-2.60zM75.89 186.68h2.60v2.44h-2.60zM71.29 195.26h2.60v2.44h-2.60zM64.38 197.40h2.60v2.44h-2.60zM68.99 195.26h2.60v2.44h-2.60zM92.02 199.55h2.60v2.44h-2.60zM75.89 210.27h2.60v2.44h-2.60zM108.14 182.39h2.60v2.44h-2.60zM64.38 199.55h2.60v2.44h-2.60zM87.41 203.83h2.60v2.44h-2.60zM108.14 178.11h2.60v2.44h-2.60zM82.80 188.83h2.60v2.44h-2.60zM78.20 190.97h2.60v2.44h-2.60zM75.89 190.97h2.60v2.44h-2.60zM57.47 199.55h2.60v2.44h-2.60z"/><path fill="#8fd0a6" d="M87.41 188.83h2.60v2.44h-2.60zM96.62 182.39h2.60v2.44h-2.60zM75.89 193.11h2.60v2.44h-2.60zM78.20 193.11h2.60v2.44h-2.60zM101.23 186.68h2.60v2.44h-2.60zM92.02 188.83h2.60v2.44h-2.60zM62.08 208.12h2.60v2.44h-2.60zM98.92 182.39h2.60v2.44h-2.60zM85.11 199.55h2.60v2.44h-2.60zM68.99 199.55h2.60v2.44h-2.60zM62.08 203.83h2.60v2.44h-2.60zM64.38 203.83h2.60v2.44h-2.60zM71.29 197.40h2.60v2.44h-2.60zM66.68 201.69h2.60v2.44h-2.60zM85.11 190.97h2.60v2.44h-2.60zM80.50 193.11h2.60v2.44h-2.60zM59.77 208.12h2.60v2.44h-2.60zM48.26 227.42h2.60v2.44h-2.60zM57.47 210.27h2.60v2.44h-2.60zM78.20 205.98h2.60v2.44h-2.60zM87.41 197.40h2.60v2.44h-2.60zM59.77 203.83h2.60v2.44h-2.60zM78.20 203.83h2.60v2.44h-2.60zM82.80 201.69h2.60v2.44h-2.60zM92.02 184.54h2.60v2.44h-2.60zM73.59 199.55h2.60v2.44h-2.60zM52.87 212.41h2.60v2.44h-2.60zM101.23 180.25h2.60v2.44h-2.60zM96.62 184.54h2.60v2.44h-2.60zM64.38 214.55h2.60v2.44h-2.60zM101.23 182.39h2.60v2.44h-2.60zM80.50 190.97h2.60v2.44h-2.60zM89.71 197.40h2.60v2.44h-2.60zM98.92 186.68h2.60v2.44h-2.60zM71.29 199.55h2.60v2.44h-2.60zM94.32 182.39h2.60v2.44h-2.60zM59.77 218.84h2.60v2.44h-2.60zM71.29 212.41h2.60v2.44h-2.60zM64.38 201.69h2.60v2.44h-2.60zM55.17 220.99h2.60v2.44h-2.60zM92.02 190.97h2.60v2.44h-2.60zM73.59 208.12h2.60v2.44h-2.60zM52.87 223.13h2.60v2.44h-2.60zM96.62 180.25h2.60v2.44h-2.60zM89.71 184.54h2.60v2.44h-2.60zM96.62 190.97h2.60v2.44h-2.60zM62.08 205.98h2.60v2.44h-2.60zM89.71 195.26h2.60v2.44h-2.60zM89.71 186.68h2.60v2.44h-2.60zM101.23 184.54h2.60v2.44h-2.60zM80.50 201.69h2.60v2.44h-2.60zM66.68 214.55h2.60v2.44h-2.60z"/><path fill="#c2e6a0" d="M92.02 193.11h2.60v2.44h-2.60zM48.26 218.84h2.60v2.44h-2.60zM82.80 195.26h2.60v2.44h-2.60zM50.56 216.70h2.60v2.44h-2.60zM94.32 190.97h2.60v2.44h-2.60zM68.99 203.83h2.60v2.44h-2.60zM75.89 201.69h2.60v2.44h-2.60zM73.59 205.98h2.60v2.44h-2.60zM89.71 193.11h2.60v2.44h-2.60zM45.96 227.42h2.60v2.44h-2.60zM62.08 214.55h2.60v2.44h-2.60zM82.80 193.11h2.60v2.44h-2.60zM96.62 188.83h2.60v2.44h-2.60zM57.47 214.55h2.60v2.44h-2.60zM75.89 203.83h2.60v2.44h-2.60zM82.80 190.97h2.60v2.44h-2.60zM78.20 201.69h2.60v2.44h-2.60zM94.32 186.68h2.60v2.44h-2.60zM52.87 214.55h2.60v2.44h-2.60zM87.41 190.97h2.60v2.44h-2.60zM57.47 218.84h2.60v2.44h-2.60zM75.89 195.26h2.60v2.44h-2.60zM75.89 197.40h2.60v2.44h-2.60zM66.68 208.12h2.60v2.44h-2.60zM92.02 186.68h2.60v2.44h-2.60zM45.96 218.84h2.60v2.44h-2.60zM73.59 197.40h2.60v2.44h-2.60zM71.29 208.12h2.60v2.44h-2.60zM55.17 212.41h2.60v2.44h-2.60zM82.80 199.55h2.60v2.44h-2.60zM87.41 195.26h2.60v2.44h-2.60zM59.77 214.55h2.60v2.44h-2.60zM85.11 188.83h2.60v2.44h-2.60zM71.29 203.83h2.60v2.44h-2.60zM66.68 210.27h2.60v2.44h-2.60zM85.11 193.11h2.60v2.44h-2.60zM94.32 188.83h2.60v2.44h-2.60zM66.68 212.41h2.60v2.44h-2.60zM59.77 216.70h2.60v2.44h-2.60zM59.77 210.27h2.60v2.44h-2.60zM75.89 205.98h2.60v2.44h-2.60zM94.32 184.54h2.60v2.44h-2.60zM66.68 203.83h2.60v2.44h-2.60z"/><path fill="#e6f4a2" d="M64.38 208.12h2.60v2.44h-2.60zM64.38 212.41h2.60v2.44h-2.60zM57.47 212.41h2.60v2.44h-2.60zM64.38 210.27h2.60v2.44h-2.60zM89.71 190.97h2.60v2.44h-2.60zM55.17 214.55h2.60v2.44h-2.60zM80.50 195.26h2.60v2.44h-2.60zM68.99 201.69h2.60v2.44h-2.60zM85.11 195.26h2.60v2.44h-2.60zM55.17 216.70h2.60v2.44h-2.60zM71.29 201.69h2.60v2.44h-2.60zM64.38 205.98h2.60v2.44h-2.60zM75.89 199.55h2.60v2.44h-2.60zM87.41 193.11h2.60v2.44h-2.60zM80.50 197.40h2.60v2.44h-2.60zM89.71 188.83h2.60v2.44h-2.60zM85.11 197.40h2.60v2.44h-2.60zM50.56 218.84h2.60v2.44h-2.60zM62.08 210.27h2.60v2.44h-2.60zM96.62 186.68h2.60v2.44h-2.60zM73.59 203.83h2.60v2.44h-2.60zM78.20 195.26h2.60v2.44h-2.60zM52.87 216.70h2.60v2.44h-2.60zM57.47 216.70h2.60v2.44h-2.60zM71.29 205.98h2.60v2.44h-2.60zM80.50 199.55h2.60v2.44h-2.60zM66.68 205.98h2.60v2.44h-2.60zM55.17 218.84h2.60v2.44h-2.60z"/><path fill="#f8f6b0" d="M68.99 205.98h2.60v2.44h-2.60zM78.20 197.40h2.60v2.44h-2.60zM50.56 223.13h2.60v2.44h-2.60zM78.20 199.55h2.60v2.44h-2.60zM68.99 210.27h2.60v2.44h-2.60zM82.80 197.40h2.60v2.44h-2.60zM52.87 218.84h2.60v2.44h-2.60zM52.87 220.99h2.60v2.44h-2.60zM73.59 201.69h2.60v2.44h-2.60zM68.99 208.12h2.60v2.44h-2.60zM62.08 212.41h2.60v2.44h-2.60zM59.77 212.41h2.60v2.44h-2.60zM45.96 220.99h2.60v2.44h-2.60zM50.56 225.27h2.60v2.44h-2.60z"/><path fill="#fed98a" d="M48.26 220.99h2.60v2.44h-2.60zM45.96 223.13h2.60v2.44h-2.60zM50.56 220.99h2.60v2.44h-2.60z"/><path fill="#f5855a" d="M45.96 225.27h2.60v2.44h-2.60zM48.26 223.13h2.60v2.44h-2.60zM48.26 225.27h2.60v2.44h-2.60z"/><path fill="#4d4296" d="M84.3 132.2h2v2h-2zM53.2 151.5h2v2h-2zM56.6 145.1h2v2h-2zM70.4 151.5h2v2h-2zM100.4 132.2h2v2h-2zM116.5 119.4h2v2h-2zM130.3 119.4h2v2h-2zM132.6 138.7h2v2h-2zM137.2 145.1h2v2h-2zM146.4 136.5h2v2h-2zM148.7 151.5h2v2h-2zM155.6 147.2h2v2h-2zM160.3 151.5h2v2h-2zM167.2 158.0h2v2h-2zM164.9 134.4h2v2h-2zM178.7 132.2h2v2h-2zM183.3 147.2h2v2h-2zM190.2 162.2h2v2h-2zM197.1 155.8h2v2h-2zM206.3 177.3h2v2h-2zM210.9 151.5h2v2h-2zM206.3 166.5h2v2h-2zM222.4 138.7h2v2h-2zM220.1 188.0h2v2h-2zM224.7 173.0h2v2h-2zM229.3 162.2h2v2h-2zM238.6 166.5h2v2h-2zM240.9 185.8h2v2h-2zM245.5 115.1h2v2h-2zM222.4 198.7h2v2h-2zM167.2 179.4h2v2h-2zM178.7 183.7h2v2h-2zM187.9 192.3h2v2h-2zM174.1 173.0h2v2h-2zM153.3 168.7h2v2h-2zM158.0 185.8h2v2h-2zM151.0 198.7h2v2h-2zM162.6 168.7h2v2h-2zM144.1 215.8h2v2h-2zM132.6 220.1h2v2h-2zM109.6 149.4h2v2h-2zM95.8 147.2h2v2h-2z"/></g>
<rect x="38.00" y="18.85" width="233.80" height="1.5" fill="#ababab"/>
<rect x="271.05" y="18.85" width="1.5" height="218.40" fill="#ababab"/>
<rect x="38.00" y="233.10" width="233.80" height="1.8" fill="#a6a6a6"/>
<rect x="40.70" y="18.85" width="1.6" height="218.40" fill="#8c8c8c"/>
<rect x="38.00" y="190.52" width="3.5" height="1.2" fill="#a0a0a0"/>
<text x="31.90" y="194.62" text-anchor="end" class="tk">20</text>
<rect x="86.96" y="234.00" width="1.2" height="3.5" fill="#a0a0a0"/>
<text x="86.76" y="251.00" text-anchor="middle" class="tk">20</text>
<rect x="38.00" y="147.64" width="3.5" height="1.2" fill="#a0a0a0"/>
<text x="31.90" y="151.74" text-anchor="end" class="tk">40</text>
<rect x="133.02" y="234.00" width="1.2" height="3.5" fill="#a0a0a0"/>
<text x="132.82" y="251.00" text-anchor="middle" class="tk">40</text>
<rect x="38.00" y="104.76" width="3.5" height="1.2" fill="#a0a0a0"/>
<text x="31.90" y="108.86" text-anchor="end" class="tk">60</text>
<rect x="179.08" y="234.00" width="1.2" height="3.5" fill="#a0a0a0"/>
<text x="178.88" y="251.00" text-anchor="middle" class="tk">60</text>
<rect x="38.00" y="61.88" width="3.5" height="1.2" fill="#a0a0a0"/>
<text x="31.90" y="65.98" text-anchor="end" class="tk">80</text>
<rect x="225.14" y="234.00" width="1.2" height="3.5" fill="#a0a0a0"/>
<text x="224.94" y="251.00" text-anchor="middle" class="tk">80</text>
<text x="158.30" y="263.40" text-anchor="middle" class="lb" textLength="80.2" lengthAdjust="spacingAndGlyphs">GEDI RH98 (m)</text>
<text transform="translate(14.70,126.25) rotate(-90)" x="0" y="0" text-anchor="middle" class="lb" textLength="155.5" lengthAdjust="spacingAndGlyphs">Landsat RH98 Prediction (m)</text>
<text x="67" y="55.7" class="tt" textLength="91" lengthAdjust="spacingAndGlyphs">(a) 3 km radius</text>
<line x1="41.50" y1="234.00" x2="269.00" y2="23.80" stroke="#111" stroke-width="1.8" stroke-dasharray="5.5 4"/>
<g><path fill="#5b4ba6" d="M370.48 169.05h2.60v2.44h-2.60zM393.8 199.2h2v2h-2zM407.7 167.1h2v2h-2zM347.43 220.41h2.60v2.44h-2.60zM363.56 166.91h2.60v2.44h-2.60zM380.0 158.6h2v2h-2zM329.3 154.3h2v2h-2zM400.44 162.63h2.60v2.44h-2.60zM349.73 222.55h2.60v2.44h-2.60zM317.46 181.89h2.60v2.44h-2.60zM335.90 169.05h2.60v2.44h-2.60zM352.04 173.33h2.60v2.44h-2.60zM342.82 158.35h2.60v2.44h-2.60zM345.4 165.0h2v2h-2zM384.31 171.19h2.60v2.44h-2.60zM393.53 173.33h2.60v2.44h-2.60zM352.04 216.13h2.60v2.44h-2.60zM391.22 164.77h2.60v2.44h-2.60zM340.51 222.55h2.60v2.44h-2.60zM416.9 182.1h2v2h-2zM384.31 192.59h2.60v2.44h-2.60zM347.43 175.47h2.60v2.44h-2.60zM361.25 171.19h2.60v2.44h-2.60zM375.09 169.05h2.60v2.44h-2.60zM384.31 201.15h2.60v2.44h-2.60zM342.82 224.69h2.60v2.44h-2.60zM342.82 171.19h2.60v2.44h-2.60zM331.29 171.19h2.60v2.44h-2.60zM398.14 184.03h2.60v2.44h-2.60zM354.34 171.19h2.60v2.44h-2.60zM388.92 192.59h2.60v2.44h-2.60zM349.73 220.41h2.60v2.44h-2.60zM342.82 164.77h2.60v2.44h-2.60zM336.2 173.6h2v2h-2zM375.09 166.91h2.60v2.44h-2.60zM416.9 171.4h2v2h-2zM352.3 145.7h2v2h-2zM345.12 224.69h2.60v2.44h-2.60zM382.3 203.5h2v2h-2zM409.66 171.19h2.60v2.44h-2.60zM382.00 205.43h2.60v2.44h-2.60zM345.12 169.05h2.60v2.44h-2.60zM370.8 214.2h2v2h-2zM402.75 181.89h2.60v2.44h-2.60zM319.77 177.61h2.60v2.44h-2.60zM398.14 194.73h2.60v2.44h-2.60zM386.9 156.4h2v2h-2zM363.56 216.13h2.60v2.44h-2.60zM400.44 196.87h2.60v2.44h-2.60zM395.83 194.73h2.60v2.44h-2.60zM389.2 203.5h2v2h-2zM407.36 184.03h2.60v2.44h-2.60zM405.4 167.1h2v2h-2zM326.68 177.61h2.60v2.44h-2.60zM319.77 181.89h2.60v2.44h-2.60zM340.51 177.61h2.60v2.44h-2.60zM335.90 171.19h2.60v2.44h-2.60zM333.9 162.9h2v2h-2zM388.92 177.61h2.60v2.44h-2.60zM400.44 186.17h2.60v2.44h-2.60zM322.07 226.83h2.60v2.44h-2.60zM400.7 184.2h2v2h-2zM402.75 175.47h2.60v2.44h-2.60zM403.0 188.5h2v2h-2zM375.4 205.7h2v2h-2zM361.25 220.41h2.60v2.44h-2.60zM363.9 218.5h2v2h-2zM363.9 224.9h2v2h-2zM407.7 190.7h2v2h-2zM370.8 216.3h2v2h-2zM410.0 173.6h2v2h-2zM386.61 201.15h2.60v2.44h-2.60zM407.7 160.7h2v2h-2zM333.60 173.33h2.60v2.44h-2.60zM352.04 220.41h2.60v2.44h-2.60zM377.39 220.41h2.60v2.44h-2.60zM419.2 169.3h2v2h-2zM347.43 222.55h2.60v2.44h-2.60zM375.09 171.19h2.60v2.44h-2.60zM368.17 216.13h2.60v2.44h-2.60zM380.0 162.9h2v2h-2zM368.5 220.6h2v2h-2zM372.78 169.05h2.60v2.44h-2.60zM382.3 158.6h2v2h-2zM331.29 173.33h2.60v2.44h-2.60zM319.77 184.03h2.60v2.44h-2.60zM350.0 224.9h2v2h-2zM365.87 164.77h2.60v2.44h-2.60zM407.7 180.0h2v2h-2zM333.60 184.03h2.60v2.44h-2.60zM370.48 218.27h2.60v2.44h-2.60zM328.99 226.83h2.60v2.44h-2.60zM326.68 226.83h2.60v2.44h-2.60zM375.4 227.1h2v2h-2zM377.39 205.43h2.60v2.44h-2.60zM342.82 226.83h2.60v2.44h-2.60zM352.04 224.69h2.60v2.44h-2.60zM333.60 169.05h2.60v2.44h-2.60zM407.7 173.6h2v2h-2zM340.51 173.33h2.60v2.44h-2.60zM400.7 173.6h2v2h-2zM393.8 190.7h2v2h-2zM356.65 224.69h2.60v2.44h-2.60zM382.00 164.77h2.60v2.44h-2.60zM372.78 205.43h2.60v2.44h-2.60zM400.44 175.47h2.60v2.44h-2.60zM375.09 207.57h2.60v2.44h-2.60zM327.0 167.1h2v2h-2zM368.5 214.2h2v2h-2zM389.2 199.2h2v2h-2zM375.09 201.15h2.60v2.44h-2.60zM402.75 173.33h2.60v2.44h-2.60zM393.8 216.3h2v2h-2zM370.48 164.77h2.60v2.44h-2.60zM384.31 164.77h2.60v2.44h-2.60zM398.14 179.75h2.60v2.44h-2.60zM359.3 154.3h2v2h-2zM388.92 194.73h2.60v2.44h-2.60zM356.65 171.19h2.60v2.44h-2.60zM347.43 171.19h2.60v2.44h-2.60zM319.77 179.75h2.60v2.44h-2.60zM368.5 156.4h2v2h-2zM384.31 162.63h2.60v2.44h-2.60zM377.39 171.19h2.60v2.44h-2.60zM409.66 181.89h2.60v2.44h-2.60zM395.83 166.91h2.60v2.44h-2.60zM407.36 175.47h2.60v2.44h-2.60zM414.6 182.1h2v2h-2zM384.31 203.29h2.60v2.44h-2.60zM324.38 186.17h2.60v2.44h-2.60zM382.3 145.7h2v2h-2zM372.78 209.71h2.60v2.44h-2.60zM361.25 218.27h2.60v2.44h-2.60zM375.4 165.0h2v2h-2zM377.39 203.29h2.60v2.44h-2.60zM373.1 212.1h2v2h-2zM377.7 212.1h2v2h-2zM338.21 222.55h2.60v2.44h-2.60zM317.8 169.3h2v2h-2zM317.8 173.6h2v2h-2zM356.65 169.05h2.60v2.44h-2.60zM396.1 156.4h2v2h-2zM324.38 175.47h2.60v2.44h-2.60zM370.48 207.57h2.60v2.44h-2.60zM393.8 156.4h2v2h-2zM322.07 179.75h2.60v2.44h-2.60zM361.6 162.9h2v2h-2zM352.3 222.8h2v2h-2zM389.2 156.4h2v2h-2zM363.56 169.05h2.60v2.44h-2.60zM395.83 179.75h2.60v2.44h-2.60zM361.25 173.33h2.60v2.44h-2.60zM361.25 166.91h2.60v2.44h-2.60zM405.05 184.03h2.60v2.44h-2.60zM340.8 154.3h2v2h-2zM349.73 171.19h2.60v2.44h-2.60zM361.25 222.55h2.60v2.44h-2.60zM365.87 216.13h2.60v2.44h-2.60zM375.4 220.6h2v2h-2zM405.05 179.75h2.60v2.44h-2.60zM407.7 171.4h2v2h-2zM363.56 213.99h2.60v2.44h-2.60zM373.1 216.3h2v2h-2zM391.22 173.33h2.60v2.44h-2.60zM389.2 207.8h2v2h-2zM359.3 224.9h2v2h-2zM359.3 158.6h2v2h-2zM372.78 162.63h2.60v2.44h-2.60zM333.60 166.91h2.60v2.44h-2.60zM398.14 188.31h2.60v2.44h-2.60zM370.48 211.85h2.60v2.44h-2.60zM324.38 179.75h2.60v2.44h-2.60zM386.61 171.19h2.60v2.44h-2.60zM393.8 167.1h2v2h-2zM361.25 213.99h2.60v2.44h-2.60zM342.82 179.75h2.60v2.44h-2.60zM391.22 169.05h2.60v2.44h-2.60zM386.9 169.3h2v2h-2zM359.3 167.1h2v2h-2zM377.39 207.57h2.60v2.44h-2.60zM370.8 152.2h2v2h-2zM347.7 162.9h2v2h-2zM322.07 177.61h2.60v2.44h-2.60zM400.44 166.91h2.60v2.44h-2.60zM410.0 160.7h2v2h-2zM366.2 158.6h2v2h-2zM405.4 165.0h2v2h-2zM382.00 199.01h2.60v2.44h-2.60zM345.12 222.55h2.60v2.44h-2.60zM320.1 156.4h2v2h-2zM389.2 201.4h2v2h-2zM333.60 226.83h2.60v2.44h-2.60zM368.5 222.8h2v2h-2zM368.17 209.71h2.60v2.44h-2.60zM395.83 169.05h2.60v2.44h-2.60zM396.1 203.5h2v2h-2zM340.8 169.3h2v2h-2zM333.9 165.0h2v2h-2zM384.6 222.8h2v2h-2zM335.90 226.83h2.60v2.44h-2.60zM356.65 218.27h2.60v2.44h-2.60zM409.66 175.47h2.60v2.44h-2.60zM356.9 220.6h2v2h-2zM373.1 154.3h2v2h-2zM363.56 211.85h2.60v2.44h-2.60zM400.7 194.9h2v2h-2zM400.7 165.0h2v2h-2zM402.75 177.61h2.60v2.44h-2.60zM365.87 224.69h2.60v2.44h-2.60zM319.77 173.33h2.60v2.44h-2.60zM354.6 165.0h2v2h-2zM338.21 179.75h2.60v2.44h-2.60zM384.6 227.1h2v2h-2zM338.21 169.05h2.60v2.44h-2.60zM380.0 143.6h2v2h-2zM396.1 201.4h2v2h-2zM411.97 181.89h2.60v2.44h-2.60zM359.3 222.8h2v2h-2zM386.61 173.33h2.60v2.44h-2.60zM342.82 175.47h2.60v2.44h-2.60zM349.73 175.47h2.60v2.44h-2.60zM393.8 201.4h2v2h-2zM407.7 177.8h2v2h-2zM388.92 162.63h2.60v2.44h-2.60zM412.3 169.3h2v2h-2zM382.00 166.91h2.60v2.44h-2.60zM366.2 218.5h2v2h-2zM405.05 181.89h2.60v2.44h-2.60zM393.53 162.63h2.60v2.44h-2.60zM400.44 177.61h2.60v2.44h-2.60zM352.3 158.6h2v2h-2zM410.0 205.7h2v2h-2zM380.0 214.2h2v2h-2zM391.5 203.5h2v2h-2zM352.3 227.1h2v2h-2zM391.5 160.7h2v2h-2zM382.00 201.15h2.60v2.44h-2.60zM317.46 179.75h2.60v2.44h-2.60zM345.12 177.61h2.60v2.44h-2.60zM368.5 160.7h2v2h-2zM400.44 190.45h2.60v2.44h-2.60zM372.78 201.15h2.60v2.44h-2.60zM398.14 181.89h2.60v2.44h-2.60zM382.00 169.05h2.60v2.44h-2.60zM391.22 190.45h2.60v2.44h-2.60zM377.39 194.73h2.60v2.44h-2.60zM356.9 162.9h2v2h-2zM317.46 188.31h2.60v2.44h-2.60zM402.75 171.19h2.60v2.44h-2.60zM375.4 158.6h2v2h-2zM363.9 165.0h2v2h-2zM327.0 150.0h2v2h-2zM324.38 177.61h2.60v2.44h-2.60zM326.68 179.75h2.60v2.44h-2.60zM379.70 169.05h2.60v2.44h-2.60zM430.7 135.0h2v2h-2zM419.2 182.1h2v2h-2zM361.25 169.05h2.60v2.44h-2.60zM386.9 165.0h2v2h-2zM405.4 201.4h2v2h-2zM352.3 141.4h2v2h-2zM407.7 141.4h2v2h-2zM358.95 216.13h2.60v2.44h-2.60zM338.21 164.77h2.60v2.44h-2.60zM324.38 173.33h2.60v2.44h-2.60zM377.39 209.71h2.60v2.44h-2.60zM363.56 160.49h2.60v2.44h-2.60zM379.70 166.91h2.60v2.44h-2.60zM370.8 158.6h2v2h-2zM388.92 164.77h2.60v2.44h-2.60zM320.1 175.7h2v2h-2zM368.5 158.6h2v2h-2zM352.3 167.1h2v2h-2zM328.99 171.19h2.60v2.44h-2.60zM405.4 173.6h2v2h-2zM354.34 173.33h2.60v2.44h-2.60zM354.34 222.55h2.60v2.44h-2.60zM403.0 207.8h2v2h-2zM407.7 192.8h2v2h-2zM391.5 154.3h2v2h-2zM370.48 171.19h2.60v2.44h-2.60zM407.7 186.4h2v2h-2zM363.9 222.8h2v2h-2zM398.14 169.05h2.60v2.44h-2.60zM317.8 175.7h2v2h-2zM356.65 173.33h2.60v2.44h-2.60zM398.4 199.2h2v2h-2zM386.61 192.59h2.60v2.44h-2.60zM410.0 186.4h2v2h-2zM396.1 205.7h2v2h-2zM326.68 171.19h2.60v2.44h-2.60zM400.7 169.3h2v2h-2zM405.4 188.5h2v2h-2zM409.66 177.61h2.60v2.44h-2.60zM405.4 169.3h2v2h-2zM370.48 156.21h2.60v2.44h-2.60zM328.99 179.75h2.60v2.44h-2.60zM324.38 184.03h2.60v2.44h-2.60zM359.3 162.9h2v2h-2zM359.3 220.6h2v2h-2zM358.95 218.27h2.60v2.44h-2.60zM377.7 145.7h2v2h-2zM405.4 158.6h2v2h-2zM391.22 162.63h2.60v2.44h-2.60zM398.14 171.19h2.60v2.44h-2.60zM389.2 197.1h2v2h-2zM389.2 160.7h2v2h-2zM375.4 212.1h2v2h-2zM356.9 165.0h2v2h-2zM384.31 196.87h2.60v2.44h-2.60zM398.14 186.17h2.60v2.44h-2.60zM412.3 175.7h2v2h-2zM331.6 162.9h2v2h-2zM352.3 150.0h2v2h-2zM405.05 186.17h2.60v2.44h-2.60zM400.44 179.75h2.60v2.44h-2.60zM414.6 175.7h2v2h-2zM414.6 201.4h2v2h-2zM372.78 164.77h2.60v2.44h-2.60zM391.22 192.59h2.60v2.44h-2.60zM414.6 180.0h2v2h-2zM331.6 227.1h2v2h-2zM395.83 181.89h2.60v2.44h-2.60zM379.70 207.57h2.60v2.44h-2.60zM400.7 171.4h2v2h-2zM373.1 214.2h2v2h-2zM384.31 173.33h2.60v2.44h-2.60zM354.6 158.6h2v2h-2zM338.5 167.1h2v2h-2zM386.9 197.1h2v2h-2zM391.22 194.73h2.60v2.44h-2.60zM345.12 226.83h2.60v2.44h-2.60zM366.2 162.9h2v2h-2zM377.7 165.0h2v2h-2zM377.7 143.6h2v2h-2zM388.92 166.91h2.60v2.44h-2.60zM335.90 181.89h2.60v2.44h-2.60zM338.21 171.19h2.60v2.44h-2.60zM331.6 169.3h2v2h-2zM384.31 199.01h2.60v2.44h-2.60zM340.8 171.4h2v2h-2zM405.4 171.4h2v2h-2zM423.8 171.4h2v2h-2zM333.60 171.19h2.60v2.44h-2.60zM352.04 218.27h2.60v2.44h-2.60zM391.5 207.8h2v2h-2zM386.9 145.7h2v2h-2zM368.5 165.0h2v2h-2zM395.83 192.59h2.60v2.44h-2.60zM370.8 162.9h2v2h-2zM365.87 169.05h2.60v2.44h-2.60zM329.3 162.9h2v2h-2zM391.22 166.91h2.60v2.44h-2.60zM382.3 222.8h2v2h-2zM396.1 158.6h2v2h-2zM423.8 201.4h2v2h-2zM338.5 173.6h2v2h-2zM435.3 139.3h2v2h-2zM398.4 192.8h2v2h-2zM335.90 175.47h2.60v2.44h-2.60zM412.3 177.8h2v2h-2zM338.5 227.1h2v2h-2zM343.1 160.7h2v2h-2zM350.0 162.9h2v2h-2zM377.39 213.99h2.60v2.44h-2.60zM343.1 173.6h2v2h-2zM363.9 171.4h2v2h-2zM354.34 169.05h2.60v2.44h-2.60zM393.8 197.1h2v2h-2zM423.8 152.2h2v2h-2zM407.7 201.4h2v2h-2zM340.51 224.69h2.60v2.44h-2.60zM361.6 147.9h2v2h-2zM410.0 169.3h2v2h-2zM370.8 227.1h2v2h-2zM391.22 196.87h2.60v2.44h-2.60zM393.8 171.4h2v2h-2zM389.2 212.1h2v2h-2zM398.4 205.7h2v2h-2zM398.14 190.45h2.60v2.44h-2.60zM400.7 201.4h2v2h-2zM370.48 166.91h2.60v2.44h-2.60zM386.9 205.7h2v2h-2zM393.53 164.77h2.60v2.44h-2.60zM463.0 152.2h2v2h-2zM340.8 158.6h2v2h-2zM414.6 165.0h2v2h-2zM393.53 169.05h2.60v2.44h-2.60zM377.7 137.2h2v2h-2zM373.1 156.4h2v2h-2zM359.3 165.0h2v2h-2zM352.3 165.0h2v2h-2zM322.4 173.6h2v2h-2zM393.8 194.9h2v2h-2zM356.65 166.91h2.60v2.44h-2.60zM414.6 169.3h2v2h-2zM393.8 192.8h2v2h-2zM350.0 167.1h2v2h-2zM398.4 145.7h2v2h-2zM400.7 199.2h2v2h-2zM363.9 156.4h2v2h-2zM426.1 169.3h2v2h-2zM402.75 186.17h2.60v2.44h-2.60zM375.4 150.0h2v2h-2zM377.39 201.15h2.60v2.44h-2.60zM386.9 209.9h2v2h-2zM384.31 166.91h2.60v2.44h-2.60zM389.2 158.6h2v2h-2zM416.9 175.7h2v2h-2zM419.2 184.2h2v2h-2zM412.3 173.6h2v2h-2zM439.9 197.1h2v2h-2zM347.43 169.05h2.60v2.44h-2.60zM349.73 160.49h2.60v2.44h-2.60zM391.5 199.2h2v2h-2zM396.1 145.7h2v2h-2zM416.9 194.9h2v2h-2zM342.82 169.05h2.60v2.44h-2.60zM347.7 165.0h2v2h-2zM333.9 160.7h2v2h-2zM414.6 184.2h2v2h-2zM384.6 205.7h2v2h-2zM370.8 160.7h2v2h-2zM375.4 162.9h2v2h-2zM322.07 181.89h2.60v2.44h-2.60zM366.2 220.6h2v2h-2zM405.4 175.7h2v2h-2zM345.12 173.33h2.60v2.44h-2.60zM322.4 145.7h2v2h-2zM356.9 222.8h2v2h-2zM393.8 203.5h2v2h-2zM414.6 147.9h2v2h-2zM407.7 169.3h2v2h-2zM317.8 177.8h2v2h-2zM389.2 147.9h2v2h-2zM373.1 167.1h2v2h-2zM320.1 171.4h2v2h-2zM368.5 218.5h2v2h-2zM412.3 184.2h2v2h-2zM377.39 162.63h2.60v2.44h-2.60zM410.0 194.9h2v2h-2zM402.75 192.59h2.60v2.44h-2.60zM398.4 197.1h2v2h-2zM361.6 224.9h2v2h-2zM419.2 190.7h2v2h-2zM366.2 156.4h2v2h-2zM412.3 216.3h2v2h-2zM398.4 132.9h2v2h-2zM359.3 227.1h2v2h-2zM366.2 214.2h2v2h-2zM396.1 197.1h2v2h-2zM340.8 162.9h2v2h-2zM377.7 158.6h2v2h-2zM322.07 175.47h2.60v2.44h-2.60zM391.5 150.0h2v2h-2zM350.0 165.0h2v2h-2zM393.8 209.9h2v2h-2zM412.3 171.4h2v2h-2zM373.1 227.1h2v2h-2zM402.75 169.05h2.60v2.44h-2.60zM354.6 167.1h2v2h-2zM352.3 169.3h2v2h-2zM412.3 180.0h2v2h-2zM327.0 169.3h2v2h-2zM444.5 203.5h2v2h-2zM375.4 160.7h2v2h-2zM352.3 171.4h2v2h-2zM361.6 160.7h2v2h-2zM375.4 216.3h2v2h-2zM398.4 162.9h2v2h-2zM403.0 167.1h2v2h-2zM421.5 180.0h2v2h-2zM350.0 158.6h2v2h-2zM382.3 162.9h2v2h-2zM317.8 171.4h2v2h-2zM400.7 192.8h2v2h-2zM373.1 218.5h2v2h-2zM382.3 207.8h2v2h-2zM403.0 194.9h2v2h-2zM416.9 173.6h2v2h-2zM354.6 154.3h2v2h-2zM403.0 145.7h2v2h-2zM398.4 212.1h2v2h-2zM363.9 220.6h2v2h-2zM410.0 180.0h2v2h-2zM366.2 167.1h2v2h-2zM352.3 160.7h2v2h-2zM343.1 167.1h2v2h-2zM403.0 220.6h2v2h-2zM396.1 222.8h2v2h-2zM412.3 165.0h2v2h-2zM384.6 154.3h2v2h-2zM329.3 173.6h2v2h-2zM428.4 201.4h2v2h-2zM329.3 175.7h2v2h-2zM345.12 171.19h2.60v2.44h-2.60zM380.0 160.7h2v2h-2zM389.2 169.3h2v2h-2zM380.0 203.5h2v2h-2zM396.1 184.2h2v2h-2zM389.2 222.8h2v2h-2zM409.66 164.77h2.60v2.44h-2.60zM380.0 209.9h2v2h-2zM414.6 171.4h2v2h-2zM414.6 205.7h2v2h-2zM382.3 160.7h2v2h-2zM373.1 158.6h2v2h-2zM322.4 169.3h2v2h-2zM377.39 166.91h2.60v2.44h-2.60zM380.0 137.2h2v2h-2zM416.9 167.1h2v2h-2zM395.83 188.31h2.60v2.44h-2.60zM340.8 165.0h2v2h-2zM416.9 154.3h2v2h-2zM405.4 162.9h2v2h-2zM368.5 227.1h2v2h-2zM373.1 160.7h2v2h-2zM347.7 167.1h2v2h-2zM382.3 150.0h2v2h-2zM375.4 156.4h2v2h-2zM389.2 205.7h2v2h-2zM414.6 197.1h2v2h-2zM368.17 211.85h2.60v2.44h-2.60zM391.5 145.7h2v2h-2zM407.7 182.1h2v2h-2zM382.3 218.5h2v2h-2zM414.6 158.6h2v2h-2zM400.7 182.1h2v2h-2zM350.0 227.1h2v2h-2zM451.5 160.7h2v2h-2zM340.8 147.9h2v2h-2zM407.7 197.1h2v2h-2zM407.7 199.2h2v2h-2zM324.7 165.0h2v2h-2zM338.5 162.9h2v2h-2zM377.7 160.7h2v2h-2zM345.4 152.2h2v2h-2zM327.0 173.6h2v2h-2zM403.0 165.0h2v2h-2zM368.5 167.1h2v2h-2zM327.0 156.4h2v2h-2zM317.8 162.9h2v2h-2zM405.4 194.9h2v2h-2zM327.0 175.7h2v2h-2zM361.6 216.3h2v2h-2zM412.3 167.1h2v2h-2zM416.9 177.8h2v2h-2zM359.3 156.4h2v2h-2zM340.8 175.7h2v2h-2zM340.8 160.7h2v2h-2zM393.8 160.7h2v2h-2zM370.8 224.9h2v2h-2zM363.9 162.9h2v2h-2zM398.4 214.2h2v2h-2zM336.2 165.0h2v2h-2zM396.1 162.9h2v2h-2zM336.2 160.7h2v2h-2zM338.5 160.7h2v2h-2zM421.5 186.4h2v2h-2zM354.6 227.1h2v2h-2zM412.3 205.7h2v2h-2zM437.6 190.7h2v2h-2zM329.3 165.0h2v2h-2zM414.6 177.8h2v2h-2z"/><path fill="#4a68b3" d="M368.17 173.33h2.60v2.44h-2.60zM347.43 179.75h2.60v2.44h-2.60zM388.92 184.03h2.60v2.44h-2.60zM361.25 177.61h2.60v2.44h-2.60zM395.83 175.47h2.60v2.44h-2.60zM365.87 209.71h2.60v2.44h-2.60zM354.34 177.61h2.60v2.44h-2.60zM338.21 175.47h2.60v2.44h-2.60zM372.78 173.33h2.60v2.44h-2.60zM368.17 169.05h2.60v2.44h-2.60zM352.04 213.99h2.60v2.44h-2.60zM317.46 192.59h2.60v2.44h-2.60zM388.92 171.19h2.60v2.44h-2.60zM342.82 184.03h2.60v2.44h-2.60zM342.82 218.27h2.60v2.44h-2.60zM375.09 181.89h2.60v2.44h-2.60zM391.22 188.31h2.60v2.44h-2.60zM379.70 201.15h2.60v2.44h-2.60zM393.53 186.17h2.60v2.44h-2.60zM354.34 220.41h2.60v2.44h-2.60zM382.00 196.87h2.60v2.44h-2.60zM335.90 222.55h2.60v2.44h-2.60zM361.25 211.85h2.60v2.44h-2.60zM393.53 177.61h2.60v2.44h-2.60zM382.00 175.47h2.60v2.44h-2.60zM335.90 179.75h2.60v2.44h-2.60zM317.46 190.45h2.60v2.44h-2.60zM382.00 179.75h2.60v2.44h-2.60zM335.90 220.41h2.60v2.44h-2.60zM335.90 184.03h2.60v2.44h-2.60zM349.73 216.13h2.60v2.44h-2.60zM365.87 211.85h2.60v2.44h-2.60zM319.77 186.17h2.60v2.44h-2.60zM372.78 181.89h2.60v2.44h-2.60zM384.31 194.73h2.60v2.44h-2.60zM317.46 184.03h2.60v2.44h-2.60zM375.09 175.47h2.60v2.44h-2.60zM379.70 173.33h2.60v2.44h-2.60zM391.22 171.19h2.60v2.44h-2.60zM349.73 218.27h2.60v2.44h-2.60zM333.60 175.47h2.60v2.44h-2.60zM365.87 207.57h2.60v2.44h-2.60zM333.60 181.89h2.60v2.44h-2.60zM386.61 184.03h2.60v2.44h-2.60zM331.29 177.61h2.60v2.44h-2.60zM345.12 181.89h2.60v2.44h-2.60zM331.29 181.89h2.60v2.44h-2.60zM386.61 188.31h2.60v2.44h-2.60zM354.34 213.99h2.60v2.44h-2.60zM391.22 175.47h2.60v2.44h-2.60zM342.82 181.89h2.60v2.44h-2.60zM388.92 179.75h2.60v2.44h-2.60zM358.95 173.33h2.60v2.44h-2.60zM352.04 175.47h2.60v2.44h-2.60zM370.48 179.75h2.60v2.44h-2.60zM379.70 196.87h2.60v2.44h-2.60zM375.09 199.01h2.60v2.44h-2.60zM363.56 205.43h2.60v2.44h-2.60zM388.92 188.31h2.60v2.44h-2.60zM388.92 175.47h2.60v2.44h-2.60zM382.00 194.73h2.60v2.44h-2.60zM338.21 220.41h2.60v2.44h-2.60zM377.39 192.59h2.60v2.44h-2.60zM331.29 224.69h2.60v2.44h-2.60zM388.92 181.89h2.60v2.44h-2.60zM379.70 171.19h2.60v2.44h-2.60zM363.56 177.61h2.60v2.44h-2.60zM386.61 175.47h2.60v2.44h-2.60zM372.78 175.47h2.60v2.44h-2.60zM377.39 175.47h2.60v2.44h-2.60zM358.95 175.47h2.60v2.44h-2.60zM388.92 186.17h2.60v2.44h-2.60zM386.61 194.73h2.60v2.44h-2.60zM395.83 177.61h2.60v2.44h-2.60zM361.25 209.71h2.60v2.44h-2.60zM370.48 209.71h2.60v2.44h-2.60zM349.73 169.05h2.60v2.44h-2.60zM386.61 186.17h2.60v2.44h-2.60zM379.70 175.47h2.60v2.44h-2.60zM368.17 203.29h2.60v2.44h-2.60zM384.31 169.05h2.60v2.44h-2.60zM331.29 179.75h2.60v2.44h-2.60zM349.73 177.61h2.60v2.44h-2.60zM398.14 166.91h2.60v2.44h-2.60zM377.39 169.05h2.60v2.44h-2.60zM388.92 190.45h2.60v2.44h-2.60zM393.53 181.89h2.60v2.44h-2.60zM379.70 194.73h2.60v2.44h-2.60zM377.39 199.01h2.60v2.44h-2.60zM322.07 186.17h2.60v2.44h-2.60zM338.21 177.61h2.60v2.44h-2.60zM342.82 222.55h2.60v2.44h-2.60zM333.60 224.69h2.60v2.44h-2.60zM335.90 177.61h2.60v2.44h-2.60zM347.43 173.33h2.60v2.44h-2.60zM338.21 184.03h2.60v2.44h-2.60zM342.82 177.61h2.60v2.44h-2.60zM354.34 218.27h2.60v2.44h-2.60zM368.17 171.19h2.60v2.44h-2.60zM393.53 184.03h2.60v2.44h-2.60zM386.61 177.61h2.60v2.44h-2.60zM365.87 171.19h2.60v2.44h-2.60zM395.83 186.17h2.60v2.44h-2.60zM349.73 173.33h2.60v2.44h-2.60zM363.56 207.57h2.60v2.44h-2.60zM384.31 175.47h2.60v2.44h-2.60zM370.48 173.33h2.60v2.44h-2.60zM384.31 190.45h2.60v2.44h-2.60zM333.60 179.75h2.60v2.44h-2.60zM326.68 184.03h2.60v2.44h-2.60zM370.48 177.61h2.60v2.44h-2.60zM375.09 173.33h2.60v2.44h-2.60zM370.48 203.29h2.60v2.44h-2.60zM379.70 177.61h2.60v2.44h-2.60zM317.46 196.87h2.60v2.44h-2.60zM363.56 175.47h2.60v2.44h-2.60zM319.77 226.83h2.60v2.44h-2.60zM377.39 173.33h2.60v2.44h-2.60zM379.70 199.01h2.60v2.44h-2.60zM356.65 216.13h2.60v2.44h-2.60zM391.22 181.89h2.60v2.44h-2.60zM377.39 196.87h2.60v2.44h-2.60zM358.95 171.19h2.60v2.44h-2.60zM398.14 175.47h2.60v2.44h-2.60zM324.38 181.89h2.60v2.44h-2.60zM335.90 224.69h2.60v2.44h-2.60zM388.92 173.33h2.60v2.44h-2.60zM319.77 190.45h2.60v2.44h-2.60zM370.48 205.43h2.60v2.44h-2.60zM317.46 199.01h2.60v2.44h-2.60zM391.22 177.61h2.60v2.44h-2.60zM356.65 175.47h2.60v2.44h-2.60zM319.77 188.31h2.60v2.44h-2.60zM345.12 218.27h2.60v2.44h-2.60zM368.17 207.57h2.60v2.44h-2.60zM317.46 194.73h2.60v2.44h-2.60zM326.68 181.89h2.60v2.44h-2.60zM358.95 213.99h2.60v2.44h-2.60zM354.34 175.47h2.60v2.44h-2.60zM342.82 220.41h2.60v2.44h-2.60zM345.12 179.75h2.60v2.44h-2.60zM324.38 226.83h2.60v2.44h-2.60zM354.34 211.85h2.60v2.44h-2.60zM402.75 184.03h2.60v2.44h-2.60zM382.00 171.19h2.60v2.44h-2.60zM352.04 177.61h2.60v2.44h-2.60zM365.87 173.33h2.60v2.44h-2.60zM338.21 224.69h2.60v2.44h-2.60zM386.61 179.75h2.60v2.44h-2.60zM331.29 186.17h2.60v2.44h-2.60zM319.77 192.59h2.60v2.44h-2.60zM398.14 177.61h2.60v2.44h-2.60zM338.21 181.89h2.60v2.44h-2.60zM328.99 184.03h2.60v2.44h-2.60zM375.09 203.29h2.60v2.44h-2.60zM382.00 192.59h2.60v2.44h-2.60zM372.78 207.57h2.60v2.44h-2.60zM349.73 179.75h2.60v2.44h-2.60zM317.46 186.17h2.60v2.44h-2.60zM386.61 166.91h2.60v2.44h-2.60zM331.29 175.47h2.60v2.44h-2.60zM319.77 194.73h2.60v2.44h-2.60zM402.75 179.75h2.60v2.44h-2.60zM393.53 179.75h2.60v2.44h-2.60zM395.83 190.45h2.60v2.44h-2.60zM393.53 188.31h2.60v2.44h-2.60zM372.78 171.19h2.60v2.44h-2.60zM365.87 177.61h2.60v2.44h-2.60zM340.51 186.17h2.60v2.44h-2.60zM391.22 186.17h2.60v2.44h-2.60zM358.95 169.05h2.60v2.44h-2.60zM328.99 181.89h2.60v2.44h-2.60zM356.65 213.99h2.60v2.44h-2.60zM395.83 171.19h2.60v2.44h-2.60zM384.31 188.31h2.60v2.44h-2.60zM393.53 175.47h2.60v2.44h-2.60zM370.48 175.47h2.60v2.44h-2.60zM358.95 211.85h2.60v2.44h-2.60zM372.78 203.29h2.60v2.44h-2.60zM356.65 211.85h2.60v2.44h-2.60zM345.12 220.41h2.60v2.44h-2.60zM347.43 177.61h2.60v2.44h-2.60zM395.83 173.33h2.60v2.44h-2.60zM368.17 205.43h2.60v2.44h-2.60zM363.56 173.33h2.60v2.44h-2.60zM322.07 184.03h2.60v2.44h-2.60zM363.56 209.71h2.60v2.44h-2.60zM398.14 173.33h2.60v2.44h-2.60zM345.12 175.47h2.60v2.44h-2.60zM328.99 177.61h2.60v2.44h-2.60zM354.34 216.13h2.60v2.44h-2.60z"/><path fill="#3f8fbb" d="M363.56 201.15h2.60v2.44h-2.60zM317.46 224.69h2.60v2.44h-2.60zM319.77 199.01h2.60v2.44h-2.60zM338.21 188.31h2.60v2.44h-2.60zM326.68 188.31h2.60v2.44h-2.60zM317.46 209.71h2.60v2.44h-2.60zM361.25 175.47h2.60v2.44h-2.60zM384.31 186.17h2.60v2.44h-2.60zM356.65 177.61h2.60v2.44h-2.60zM347.43 218.27h2.60v2.44h-2.60zM317.46 201.15h2.60v2.44h-2.60zM335.90 190.45h2.60v2.44h-2.60zM354.34 209.71h2.60v2.44h-2.60zM382.00 177.61h2.60v2.44h-2.60zM379.70 192.59h2.60v2.44h-2.60zM372.78 177.61h2.60v2.44h-2.60zM335.90 186.17h2.60v2.44h-2.60zM349.73 181.89h2.60v2.44h-2.60zM375.09 177.61h2.60v2.44h-2.60zM322.07 190.45h2.60v2.44h-2.60zM333.60 177.61h2.60v2.44h-2.60zM322.07 196.87h2.60v2.44h-2.60zM331.29 190.45h2.60v2.44h-2.60zM370.48 188.31h2.60v2.44h-2.60zM377.39 177.61h2.60v2.44h-2.60zM356.65 209.71h2.60v2.44h-2.60zM324.38 192.59h2.60v2.44h-2.60zM340.51 179.75h2.60v2.44h-2.60zM382.00 188.31h2.60v2.44h-2.60zM326.68 190.45h2.60v2.44h-2.60zM358.95 177.61h2.60v2.44h-2.60zM379.70 190.45h2.60v2.44h-2.60zM384.31 181.89h2.60v2.44h-2.60zM382.00 181.89h2.60v2.44h-2.60zM319.77 196.87h2.60v2.44h-2.60zM342.82 190.45h2.60v2.44h-2.60zM365.87 181.89h2.60v2.44h-2.60zM347.43 216.13h2.60v2.44h-2.60zM347.43 184.03h2.60v2.44h-2.60zM354.34 181.89h2.60v2.44h-2.60zM391.22 184.03h2.60v2.44h-2.60zM391.22 179.75h2.60v2.44h-2.60zM379.70 184.03h2.60v2.44h-2.60zM335.90 188.31h2.60v2.44h-2.60zM384.31 184.03h2.60v2.44h-2.60zM358.95 209.71h2.60v2.44h-2.60zM377.39 188.31h2.60v2.44h-2.60zM370.48 201.15h2.60v2.44h-2.60zM375.09 192.59h2.60v2.44h-2.60zM365.87 205.43h2.60v2.44h-2.60zM352.04 181.89h2.60v2.44h-2.60zM379.70 186.17h2.60v2.44h-2.60zM375.09 194.73h2.60v2.44h-2.60zM347.43 181.89h2.60v2.44h-2.60zM317.46 203.29h2.60v2.44h-2.60zM345.12 216.13h2.60v2.44h-2.60zM372.78 194.73h2.60v2.44h-2.60zM365.87 179.75h2.60v2.44h-2.60zM333.60 188.31h2.60v2.44h-2.60zM370.48 181.89h2.60v2.44h-2.60zM349.73 186.17h2.60v2.44h-2.60zM340.51 184.03h2.60v2.44h-2.60zM333.60 190.45h2.60v2.44h-2.60zM377.39 179.75h2.60v2.44h-2.60zM370.48 199.01h2.60v2.44h-2.60zM331.29 184.03h2.60v2.44h-2.60zM349.73 211.85h2.60v2.44h-2.60zM363.56 179.75h2.60v2.44h-2.60zM324.38 188.31h2.60v2.44h-2.60zM375.09 188.31h2.60v2.44h-2.60zM386.61 181.89h2.60v2.44h-2.60zM324.38 224.69h2.60v2.44h-2.60zM379.70 179.75h2.60v2.44h-2.60zM356.65 181.89h2.60v2.44h-2.60zM368.17 177.61h2.60v2.44h-2.60zM375.09 196.87h2.60v2.44h-2.60zM347.43 213.99h2.60v2.44h-2.60zM372.78 196.87h2.60v2.44h-2.60zM352.04 209.71h2.60v2.44h-2.60zM368.17 175.47h2.60v2.44h-2.60zM382.00 173.33h2.60v2.44h-2.60zM340.51 181.89h2.60v2.44h-2.60zM352.04 186.17h2.60v2.44h-2.60zM377.39 186.17h2.60v2.44h-2.60zM349.73 213.99h2.60v2.44h-2.60zM375.09 186.17h2.60v2.44h-2.60zM331.29 188.31h2.60v2.44h-2.60zM345.12 184.03h2.60v2.44h-2.60zM352.04 211.85h2.60v2.44h-2.60zM319.77 224.69h2.60v2.44h-2.60zM368.17 201.15h2.60v2.44h-2.60zM384.31 177.61h2.60v2.44h-2.60zM333.60 222.55h2.60v2.44h-2.60zM372.78 199.01h2.60v2.44h-2.60zM377.39 190.45h2.60v2.44h-2.60zM368.17 184.03h2.60v2.44h-2.60zM319.77 205.43h2.60v2.44h-2.60zM317.46 226.83h2.60v2.44h-2.60zM356.65 179.75h2.60v2.44h-2.60zM328.99 188.31h2.60v2.44h-2.60zM328.99 224.69h2.60v2.44h-2.60zM324.38 190.45h2.60v2.44h-2.60zM372.78 179.75h2.60v2.44h-2.60zM361.25 179.75h2.60v2.44h-2.60zM328.99 186.17h2.60v2.44h-2.60zM340.51 220.41h2.60v2.44h-2.60zM375.09 179.75h2.60v2.44h-2.60zM365.87 203.29h2.60v2.44h-2.60zM317.46 205.43h2.60v2.44h-2.60zM370.48 186.17h2.60v2.44h-2.60zM349.73 184.03h2.60v2.44h-2.60zM333.60 186.17h2.60v2.44h-2.60zM322.07 224.69h2.60v2.44h-2.60zM331.29 222.55h2.60v2.44h-2.60zM319.77 203.29h2.60v2.44h-2.60zM322.07 192.59h2.60v2.44h-2.60zM379.70 188.31h2.60v2.44h-2.60zM333.60 220.41h2.60v2.44h-2.60zM386.61 190.45h2.60v2.44h-2.60zM322.07 188.31h2.60v2.44h-2.60zM372.78 184.03h2.60v2.44h-2.60zM322.07 194.73h2.60v2.44h-2.60zM379.70 181.89h2.60v2.44h-2.60zM338.21 186.17h2.60v2.44h-2.60zM361.25 207.57h2.60v2.44h-2.60zM352.04 179.75h2.60v2.44h-2.60zM384.31 179.75h2.60v2.44h-2.60zM340.51 218.27h2.60v2.44h-2.60zM382.00 190.45h2.60v2.44h-2.60zM365.87 175.47h2.60v2.44h-2.60zM326.68 186.17h2.60v2.44h-2.60zM368.17 179.75h2.60v2.44h-2.60z"/><path fill="#55b1ad" d="M338.21 218.27h2.60v2.44h-2.60zM370.48 194.73h2.60v2.44h-2.60zM358.95 179.75h2.60v2.44h-2.60zM345.12 190.45h2.60v2.44h-2.60zM370.48 184.03h2.60v2.44h-2.60zM368.17 181.89h2.60v2.44h-2.60zM338.21 213.99h2.60v2.44h-2.60zM363.56 203.29h2.60v2.44h-2.60zM358.95 205.43h2.60v2.44h-2.60zM370.48 196.87h2.60v2.44h-2.60zM354.34 184.03h2.60v2.44h-2.60zM372.78 186.17h2.60v2.44h-2.60zM324.38 199.01h2.60v2.44h-2.60zM324.38 196.87h2.60v2.44h-2.60zM328.99 192.59h2.60v2.44h-2.60zM326.68 224.69h2.60v2.44h-2.60zM338.21 216.13h2.60v2.44h-2.60zM331.29 201.15h2.60v2.44h-2.60zM372.78 188.31h2.60v2.44h-2.60zM375.09 190.45h2.60v2.44h-2.60zM326.68 192.59h2.60v2.44h-2.60zM363.56 184.03h2.60v2.44h-2.60zM335.90 218.27h2.60v2.44h-2.60zM319.77 209.71h2.60v2.44h-2.60zM368.17 194.73h2.60v2.44h-2.60zM335.90 192.59h2.60v2.44h-2.60zM328.99 199.01h2.60v2.44h-2.60zM317.46 207.57h2.60v2.44h-2.60zM372.78 192.59h2.60v2.44h-2.60zM326.68 201.15h2.60v2.44h-2.60zM328.99 220.41h2.60v2.44h-2.60zM377.39 181.89h2.60v2.44h-2.60zM342.82 213.99h2.60v2.44h-2.60zM365.87 199.01h2.60v2.44h-2.60zM342.82 216.13h2.60v2.44h-2.60zM382.00 186.17h2.60v2.44h-2.60zM375.09 184.03h2.60v2.44h-2.60zM356.65 205.43h2.60v2.44h-2.60zM347.43 188.31h2.60v2.44h-2.60zM326.68 203.29h2.60v2.44h-2.60zM333.60 192.59h2.60v2.44h-2.60zM322.07 199.01h2.60v2.44h-2.60zM324.38 222.55h2.60v2.44h-2.60zM319.77 207.57h2.60v2.44h-2.60zM372.78 190.45h2.60v2.44h-2.60zM338.21 190.45h2.60v2.44h-2.60zM370.48 192.59h2.60v2.44h-2.60zM382.00 184.03h2.60v2.44h-2.60zM328.99 222.55h2.60v2.44h-2.60zM352.04 188.31h2.60v2.44h-2.60zM328.99 196.87h2.60v2.44h-2.60zM368.17 186.17h2.60v2.44h-2.60zM352.04 184.03h2.60v2.44h-2.60zM340.51 216.13h2.60v2.44h-2.60zM324.38 194.73h2.60v2.44h-2.60zM361.25 205.43h2.60v2.44h-2.60zM345.12 188.31h2.60v2.44h-2.60zM356.65 207.57h2.60v2.44h-2.60zM340.51 190.45h2.60v2.44h-2.60zM342.82 186.17h2.60v2.44h-2.60zM345.12 186.17h2.60v2.44h-2.60zM365.87 201.15h2.60v2.44h-2.60zM368.17 199.01h2.60v2.44h-2.60zM340.51 188.31h2.60v2.44h-2.60zM324.38 205.43h2.60v2.44h-2.60zM354.34 207.57h2.60v2.44h-2.60zM333.60 196.87h2.60v2.44h-2.60zM328.99 190.45h2.60v2.44h-2.60zM345.12 211.85h2.60v2.44h-2.60zM322.07 205.43h2.60v2.44h-2.60zM354.34 179.75h2.60v2.44h-2.60zM331.29 192.59h2.60v2.44h-2.60zM333.60 218.27h2.60v2.44h-2.60zM377.39 184.03h2.60v2.44h-2.60zM349.73 190.45h2.60v2.44h-2.60zM345.12 213.99h2.60v2.44h-2.60zM370.48 190.45h2.60v2.44h-2.60zM328.99 194.73h2.60v2.44h-2.60zM361.25 201.15h2.60v2.44h-2.60zM319.77 201.15h2.60v2.44h-2.60zM365.87 184.03h2.60v2.44h-2.60zM331.29 220.41h2.60v2.44h-2.60zM347.43 186.17h2.60v2.44h-2.60zM358.95 203.29h2.60v2.44h-2.60zM322.07 201.15h2.60v2.44h-2.60zM342.82 188.31h2.60v2.44h-2.60zM363.56 181.89h2.60v2.44h-2.60zM358.95 181.89h2.60v2.44h-2.60zM361.25 181.89h2.60v2.44h-2.60zM326.68 194.73h2.60v2.44h-2.60zM358.95 207.57h2.60v2.44h-2.60zM349.73 209.71h2.60v2.44h-2.60z"/><path fill="#8fd0a6" d="M365.87 190.45h2.60v2.44h-2.60zM338.21 209.71h2.60v2.44h-2.60zM322.07 211.85h2.60v2.44h-2.60zM338.21 199.01h2.60v2.44h-2.60zM322.07 222.55h2.60v2.44h-2.60zM322.07 209.71h2.60v2.44h-2.60zM331.29 213.99h2.60v2.44h-2.60zM368.17 190.45h2.60v2.44h-2.60zM326.68 216.13h2.60v2.44h-2.60zM363.56 186.17h2.60v2.44h-2.60zM326.68 218.27h2.60v2.44h-2.60zM354.34 188.31h2.60v2.44h-2.60zM345.12 192.59h2.60v2.44h-2.60zM324.38 201.15h2.60v2.44h-2.60zM365.87 196.87h2.60v2.44h-2.60zM319.77 222.55h2.60v2.44h-2.60zM322.07 203.29h2.60v2.44h-2.60zM365.87 188.31h2.60v2.44h-2.60zM340.51 213.99h2.60v2.44h-2.60zM356.65 192.59h2.60v2.44h-2.60zM326.68 211.85h2.60v2.44h-2.60zM331.29 196.87h2.60v2.44h-2.60zM331.29 218.27h2.60v2.44h-2.60zM338.21 192.59h2.60v2.44h-2.60zM324.38 203.29h2.60v2.44h-2.60zM326.68 199.01h2.60v2.44h-2.60zM363.56 199.01h2.60v2.44h-2.60zM354.34 186.17h2.60v2.44h-2.60zM347.43 203.29h2.60v2.44h-2.60zM342.82 192.59h2.60v2.44h-2.60zM335.90 216.13h2.60v2.44h-2.60zM361.25 186.17h2.60v2.44h-2.60zM333.60 216.13h2.60v2.44h-2.60zM328.99 203.29h2.60v2.44h-2.60zM331.29 199.01h2.60v2.44h-2.60zM335.90 194.73h2.60v2.44h-2.60zM347.43 190.45h2.60v2.44h-2.60zM324.38 216.13h2.60v2.44h-2.60zM356.65 186.17h2.60v2.44h-2.60zM328.99 201.15h2.60v2.44h-2.60zM326.68 220.41h2.60v2.44h-2.60zM368.17 196.87h2.60v2.44h-2.60zM347.43 209.71h2.60v2.44h-2.60zM324.38 207.57h2.60v2.44h-2.60zM352.04 207.57h2.60v2.44h-2.60zM324.38 220.41h2.60v2.44h-2.60zM326.68 196.87h2.60v2.44h-2.60zM322.07 207.57h2.60v2.44h-2.60zM338.21 194.73h2.60v2.44h-2.60zM331.29 194.73h2.60v2.44h-2.60zM317.46 211.85h2.60v2.44h-2.60zM345.12 209.71h2.60v2.44h-2.60zM358.95 201.15h2.60v2.44h-2.60zM324.38 209.71h2.60v2.44h-2.60zM333.60 199.01h2.60v2.44h-2.60zM340.51 192.59h2.60v2.44h-2.60zM361.25 184.03h2.60v2.44h-2.60zM333.60 194.73h2.60v2.44h-2.60zM356.65 184.03h2.60v2.44h-2.60zM368.17 188.31h2.60v2.44h-2.60zM347.43 211.85h2.60v2.44h-2.60zM361.25 196.87h2.60v2.44h-2.60zM356.65 203.29h2.60v2.44h-2.60zM335.90 196.87h2.60v2.44h-2.60zM319.77 211.85h2.60v2.44h-2.60zM335.90 199.01h2.60v2.44h-2.60zM317.46 213.99h2.60v2.44h-2.60zM358.95 184.03h2.60v2.44h-2.60zM349.73 188.31h2.60v2.44h-2.60zM365.87 186.17h2.60v2.44h-2.60zM324.38 218.27h2.60v2.44h-2.60zM342.82 211.85h2.60v2.44h-2.60zM326.68 222.55h2.60v2.44h-2.60zM340.51 194.73h2.60v2.44h-2.60zM361.25 203.29h2.60v2.44h-2.60z"/><path fill="#c2e6a0" d="M328.99 207.57h2.60v2.44h-2.60zM358.95 186.17h2.60v2.44h-2.60zM317.46 222.55h2.60v2.44h-2.60zM328.99 209.71h2.60v2.44h-2.60zM347.43 194.73h2.60v2.44h-2.60zM361.25 192.59h2.60v2.44h-2.60zM356.65 188.31h2.60v2.44h-2.60zM333.60 203.29h2.60v2.44h-2.60zM340.51 196.87h2.60v2.44h-2.60zM365.87 192.59h2.60v2.44h-2.60zM352.04 190.45h2.60v2.44h-2.60zM322.07 213.99h2.60v2.44h-2.60zM361.25 199.01h2.60v2.44h-2.60zM354.34 203.29h2.60v2.44h-2.60zM342.82 203.29h2.60v2.44h-2.60zM349.73 205.43h2.60v2.44h-2.60zM326.68 213.99h2.60v2.44h-2.60zM333.60 213.99h2.60v2.44h-2.60zM335.90 213.99h2.60v2.44h-2.60zM322.07 218.27h2.60v2.44h-2.60zM363.56 194.73h2.60v2.44h-2.60zM365.87 194.73h2.60v2.44h-2.60zM368.17 192.59h2.60v2.44h-2.60zM347.43 192.59h2.60v2.44h-2.60zM328.99 211.85h2.60v2.44h-2.60zM356.65 194.73h2.60v2.44h-2.60zM335.90 205.43h2.60v2.44h-2.60zM326.68 209.71h2.60v2.44h-2.60zM358.95 199.01h2.60v2.44h-2.60zM338.21 211.85h2.60v2.44h-2.60zM363.56 190.45h2.60v2.44h-2.60zM331.29 216.13h2.60v2.44h-2.60zM326.68 207.57h2.60v2.44h-2.60zM326.68 205.43h2.60v2.44h-2.60zM338.21 203.29h2.60v2.44h-2.60zM333.60 201.15h2.60v2.44h-2.60zM358.95 192.59h2.60v2.44h-2.60zM340.51 209.71h2.60v2.44h-2.60zM333.60 205.43h2.60v2.44h-2.60zM338.21 196.87h2.60v2.44h-2.60zM333.60 209.71h2.60v2.44h-2.60zM354.34 205.43h2.60v2.44h-2.60zM322.07 220.41h2.60v2.44h-2.60zM340.51 211.85h2.60v2.44h-2.60zM347.43 207.57h2.60v2.44h-2.60zM338.21 207.57h2.60v2.44h-2.60zM333.60 211.85h2.60v2.44h-2.60zM358.95 196.87h2.60v2.44h-2.60zM349.73 207.57h2.60v2.44h-2.60zM328.99 213.99h2.60v2.44h-2.60zM363.56 196.87h2.60v2.44h-2.60zM361.25 188.31h2.60v2.44h-2.60zM328.99 216.13h2.60v2.44h-2.60zM342.82 209.71h2.60v2.44h-2.60zM342.82 196.87h2.60v2.44h-2.60zM342.82 194.73h2.60v2.44h-2.60zM349.73 201.15h2.60v2.44h-2.60z"/><path fill="#e6f4a2" d="M354.34 199.01h2.60v2.44h-2.60zM356.65 201.15h2.60v2.44h-2.60zM345.12 196.87h2.60v2.44h-2.60zM356.65 199.01h2.60v2.44h-2.60zM354.34 192.59h2.60v2.44h-2.60zM349.73 203.29h2.60v2.44h-2.60zM363.56 192.59h2.60v2.44h-2.60zM358.95 188.31h2.60v2.44h-2.60zM340.51 201.15h2.60v2.44h-2.60zM335.90 207.57h2.60v2.44h-2.60zM356.65 196.87h2.60v2.44h-2.60zM354.34 194.73h2.60v2.44h-2.60zM352.04 201.15h2.60v2.44h-2.60zM324.38 213.99h2.60v2.44h-2.60zM331.29 203.29h2.60v2.44h-2.60zM354.34 190.45h2.60v2.44h-2.60zM363.56 188.31h2.60v2.44h-2.60zM352.04 205.43h2.60v2.44h-2.60zM345.12 207.57h2.60v2.44h-2.60zM345.12 199.01h2.60v2.44h-2.60zM352.04 192.59h2.60v2.44h-2.60zM349.73 194.73h2.60v2.44h-2.60zM328.99 205.43h2.60v2.44h-2.60zM342.82 199.01h2.60v2.44h-2.60zM358.95 194.73h2.60v2.44h-2.60zM349.73 192.59h2.60v2.44h-2.60zM347.43 201.15h2.60v2.44h-2.60zM356.65 190.45h2.60v2.44h-2.60zM328.99 218.27h2.60v2.44h-2.60zM319.77 213.99h2.60v2.44h-2.60zM347.43 196.87h2.60v2.44h-2.60zM322.07 216.13h2.60v2.44h-2.60zM358.95 190.45h2.60v2.44h-2.60zM335.90 203.29h2.60v2.44h-2.60zM342.82 205.43h2.60v2.44h-2.60zM335.90 211.85h2.60v2.44h-2.60zM354.34 201.15h2.60v2.44h-2.60zM324.38 211.85h2.60v2.44h-2.60zM352.04 203.29h2.60v2.44h-2.60zM335.90 201.15h2.60v2.44h-2.60zM335.90 209.71h2.60v2.44h-2.60z"/><path fill="#f8f6b0" d="M347.43 205.43h2.60v2.44h-2.60zM340.51 199.01h2.60v2.44h-2.60zM342.82 207.57h2.60v2.44h-2.60zM338.21 205.43h2.60v2.44h-2.60zM338.21 201.15h2.60v2.44h-2.60zM352.04 196.87h2.60v2.44h-2.60zM331.29 205.43h2.60v2.44h-2.60zM352.04 194.73h2.60v2.44h-2.60zM352.04 199.01h2.60v2.44h-2.60zM345.12 203.29h2.60v2.44h-2.60zM347.43 199.01h2.60v2.44h-2.60zM319.77 220.41h2.60v2.44h-2.60zM340.51 205.43h2.60v2.44h-2.60zM340.51 203.29h2.60v2.44h-2.60zM345.12 205.43h2.60v2.44h-2.60zM361.25 194.73h2.60v2.44h-2.60zM340.51 207.57h2.60v2.44h-2.60zM342.82 201.15h2.60v2.44h-2.60zM333.60 207.57h2.60v2.44h-2.60zM361.25 190.45h2.60v2.44h-2.60zM354.34 196.87h2.60v2.44h-2.60zM349.73 199.01h2.60v2.44h-2.60zM319.77 216.13h2.60v2.44h-2.60zM345.12 194.73h2.60v2.44h-2.60zM331.29 211.85h2.60v2.44h-2.60zM331.29 209.71h2.60v2.44h-2.60zM349.73 196.87h2.60v2.44h-2.60zM345.12 201.15h2.60v2.44h-2.60zM331.29 207.57h2.60v2.44h-2.60z"/><path fill="#fed98a" d="M317.46 216.13h2.60v2.44h-2.60zM319.77 218.27h2.60v2.44h-2.60z"/><path fill="#f5855a" d="M317.46 220.41h2.60v2.44h-2.60zM317.46 218.27h2.60v2.44h-2.60z"/><path fill="#4d4296" d="M323.5 146.8h2v2h-2zM362.7 125.4h2v2h-2zM337.4 153.2h2v2h-2zM348.9 153.2h2v2h-2zM367.3 138.2h2v2h-2zM385.8 136.1h2v2h-2zM392.7 131.8h2v2h-2zM399.6 142.5h2v2h-2zM406.5 153.2h2v2h-2zM411.1 161.8h2v2h-2zM418.0 159.6h2v2h-2zM422.6 153.2h2v2h-2zM427.2 161.8h2v2h-2zM431.9 174.6h2v2h-2zM434.2 189.6h2v2h-2zM441.1 172.5h2v2h-2zM445.7 200.3h2v2h-2zM450.3 185.3h2v2h-2zM457.2 181.0h2v2h-2zM464.1 163.9h2v2h-2zM454.9 204.6h2v2h-2zM473.4 178.9h2v2h-2zM480.3 193.9h2v2h-2zM482.6 198.2h2v2h-2zM489.5 198.2h2v2h-2zM496.4 189.6h2v2h-2zM501.0 181.0h2v2h-2zM510.2 159.6h2v2h-2zM512.5 168.2h2v2h-2zM514.8 200.3h2v2h-2zM494.1 144.7h2v2h-2zM422.6 206.7h2v2h-2zM395.0 221.7h2v2h-2zM436.5 157.5h2v2h-2zM415.7 146.8h2v2h-2zM427.2 198.2h2v2h-2zM438.8 206.7h2v2h-2zM420.3 185.3h2v2h-2zM424.9 176.8h2v2h-2zM429.6 168.2h2v2h-2zM443.4 178.9h2v2h-2zM413.4 213.1h2v2h-2z"/></g>
<rect x="309.50" y="18.65" width="234.00" height="1.5" fill="#ababab"/>
<rect x="542.75" y="18.65" width="1.5" height="218.00" fill="#ababab"/>
<rect x="309.50" y="232.50" width="234.00" height="1.8" fill="#a6a6a6"/>
<rect x="312.20" y="18.65" width="1.6" height="218.00" fill="#8c8c8c"/>
<rect x="309.50" y="190.00" width="3.5" height="1.2" fill="#a0a0a0"/>
<text x="307.20" y="194.10" text-anchor="end" class="tk">20</text>
<rect x="358.50" y="233.40" width="1.2" height="3.5" fill="#a0a0a0"/>
<text x="358.30" y="250.40" text-anchor="middle" class="tk">20</text>
<rect x="309.50" y="147.20" width="3.5" height="1.2" fill="#a0a0a0"/>
<text x="307.20" y="151.30" text-anchor="end" class="tk">40</text>
<rect x="404.60" y="233.40" width="1.2" height="3.5" fill="#a0a0a0"/>
<text x="404.40" y="250.40" text-anchor="middle" class="tk">40</text>
<rect x="309.50" y="104.40" width="3.5" height="1.2" fill="#a0a0a0"/>
<text x="307.20" y="108.50" text-anchor="end" class="tk">60</text>
<rect x="450.70" y="233.40" width="1.2" height="3.5" fill="#a0a0a0"/>
<text x="450.50" y="250.40" text-anchor="middle" class="tk">60</text>
<rect x="309.50" y="61.60" width="3.5" height="1.2" fill="#a0a0a0"/>
<text x="307.20" y="65.70" text-anchor="end" class="tk">80</text>
<rect x="496.80" y="233.40" width="1.2" height="3.5" fill="#a0a0a0"/>
<text x="496.60" y="250.40" text-anchor="middle" class="tk">80</text>
<text x="429.60" y="262.60" text-anchor="middle" class="lb" textLength="80.2" lengthAdjust="spacingAndGlyphs">GEDI RH98 (m)</text>
<text transform="translate(289.70,125.60) rotate(-90)" x="0" y="0" text-anchor="middle" class="lb" textLength="155.5" lengthAdjust="spacingAndGlyphs">Landsat RH98 Prediction (m)</text>
<text x="340.4" y="55.3" class="tt" textLength="98" lengthAdjust="spacingAndGlyphs">(b) 30 km radius</text>
<line x1="313.00" y1="233.40" x2="540.00" y2="23.80" stroke="#111" stroke-width="1.8" stroke-dasharray="5.5 4"/>
<g><path fill="#5b4ba6" d="M53.30 430.99h2.61v2.44h-2.61zM53.30 439.56h2.61v2.44h-2.61zM129.50 452.42h2.61v2.44h-2.61zM122.9 467.6h2v2h-2zM101.79 428.85h2.61v2.44h-2.61zM97.17 430.99h2.61v2.44h-2.61zM116.0 426.9h2v2h-2zM131.81 433.13h2.61v2.44h-2.61zM97.17 437.42h2.61v2.44h-2.61zM139.0 456.9h2v2h-2zM120.6 463.4h2v2h-2zM136.43 450.28h2.61v2.44h-2.61zM129.8 431.2h2v2h-2zM111.03 463.13h2.61v2.44h-2.61zM76.39 475.99h2.61v2.44h-2.61zM78.70 430.99h2.61v2.44h-2.61zM129.50 456.71h2.61v2.44h-2.61zM113.34 460.99h2.61v2.44h-2.61zM92.9 474.1h2v2h-2zM148.3 454.8h2v2h-2zM44.07 478.14h2.61v2.44h-2.61zM102.1 474.1h2v2h-2zM127.19 430.99h2.61v2.44h-2.61zM131.81 437.42h2.61v2.44h-2.61zM127.5 416.2h2v2h-2zM69.47 430.99h2.61v2.44h-2.61zM67.16 475.99h2.61v2.44h-2.61zM72.1 478.4h2v2h-2zM62.54 426.70h2.61v2.44h-2.61zM46.7 431.2h2v2h-2zM92.56 430.99h2.61v2.44h-2.61zM90.25 433.13h2.61v2.44h-2.61zM113.34 463.13h2.61v2.44h-2.61zM152.9 456.9h2v2h-2zM97.17 428.85h2.61v2.44h-2.61zM132.1 426.9h2v2h-2zM71.78 433.13h2.61v2.44h-2.61zM106.41 465.28h2.61v2.44h-2.61zM134.12 450.28h2.61v2.44h-2.61zM136.43 433.13h2.61v2.44h-2.61zM94.87 433.13h2.61v2.44h-2.61zM127.5 469.8h2v2h-2zM62.54 435.28h2.61v2.44h-2.61zM111.03 430.99h2.61v2.44h-2.61zM104.10 471.71h2.61v2.44h-2.61zM136.43 452.42h2.61v2.44h-2.61zM146.0 439.8h2v2h-2zM51.00 430.99h2.61v2.44h-2.61zM106.41 433.13h2.61v2.44h-2.61zM157.5 456.9h2v2h-2zM124.88 463.13h2.61v2.44h-2.61zM97.17 469.56h2.61v2.44h-2.61zM51.00 435.28h2.61v2.44h-2.61zM113.34 430.99h2.61v2.44h-2.61zM106.7 431.2h2v2h-2zM111.3 474.1h2v2h-2zM117.96 426.70h2.61v2.44h-2.61zM78.70 473.85h2.61v2.44h-2.61zM127.19 433.13h2.61v2.44h-2.61zM122.57 430.99h2.61v2.44h-2.61zM139.0 448.4h2v2h-2zM134.12 443.85h2.61v2.44h-2.61zM147.97 439.56h2.61v2.44h-2.61zM118.3 422.6h2v2h-2zM94.87 424.56h2.61v2.44h-2.61zM79.0 478.4h2v2h-2zM141.05 445.99h2.61v2.44h-2.61zM62.54 437.42h2.61v2.44h-2.61zM57.92 437.42h2.61v2.44h-2.61zM78.70 469.56h2.61v2.44h-2.61zM81.3 424.8h2v2h-2zM46.38 435.28h2.61v2.44h-2.61zM64.85 433.13h2.61v2.44h-2.61zM157.5 459.1h2v2h-2zM122.9 424.8h2v2h-2zM116.0 424.8h2v2h-2zM64.85 437.42h2.61v2.44h-2.61zM131.81 445.99h2.61v2.44h-2.61zM87.94 433.13h2.61v2.44h-2.61zM55.61 478.14h2.61v2.44h-2.61zM146.0 437.6h2v2h-2zM60.23 478.14h2.61v2.44h-2.61zM81.01 473.85h2.61v2.44h-2.61zM104.4 426.9h2v2h-2zM113.34 458.85h2.61v2.44h-2.61zM85.63 430.99h2.61v2.44h-2.61zM78.70 435.28h2.61v2.44h-2.61zM55.61 430.99h2.61v2.44h-2.61zM90.25 430.99h2.61v2.44h-2.61zM117.96 465.28h2.61v2.44h-2.61zM90.25 473.85h2.61v2.44h-2.61zM129.50 443.85h2.61v2.44h-2.61zM106.41 463.13h2.61v2.44h-2.61zM120.27 458.85h2.61v2.44h-2.61zM87.94 471.71h2.61v2.44h-2.61zM132.1 403.4h2v2h-2zM76.39 426.70h2.61v2.44h-2.61zM106.41 428.85h2.61v2.44h-2.61zM90.25 424.56h2.61v2.44h-2.61zM87.94 426.70h2.61v2.44h-2.61zM99.48 426.70h2.61v2.44h-2.61zM99.48 467.42h2.61v2.44h-2.61zM99.8 471.9h2v2h-2zM106.41 426.70h2.61v2.44h-2.61zM125.2 424.8h2v2h-2zM83.32 473.85h2.61v2.44h-2.61zM76.39 473.85h2.61v2.44h-2.61zM76.39 478.14h2.61v2.44h-2.61zM138.74 430.99h2.61v2.44h-2.61zM145.66 443.85h2.61v2.44h-2.61zM152.9 446.2h2v2h-2zM65.2 411.9h2v2h-2zM136.43 443.85h2.61v2.44h-2.61zM108.72 430.99h2.61v2.44h-2.61zM122.57 433.13h2.61v2.44h-2.61zM136.7 446.2h2v2h-2zM111.3 424.8h2v2h-2zM101.79 433.13h2.61v2.44h-2.61zM62.54 478.14h2.61v2.44h-2.61zM134.12 441.70h2.61v2.44h-2.61zM83.32 433.13h2.61v2.44h-2.61zM90.25 471.71h2.61v2.44h-2.61zM124.88 454.56h2.61v2.44h-2.61zM72.1 429.1h2v2h-2zM104.10 433.13h2.61v2.44h-2.61zM85.63 471.71h2.61v2.44h-2.61zM122.57 460.99h2.61v2.44h-2.61zM51.00 433.13h2.61v2.44h-2.61zM109.0 433.4h2v2h-2zM85.9 416.2h2v2h-2zM138.74 443.85h2.61v2.44h-2.61zM117.96 456.71h2.61v2.44h-2.61zM92.56 469.56h2.61v2.44h-2.61zM44.07 435.28h2.61v2.44h-2.61zM69.47 478.14h2.61v2.44h-2.61zM95.2 422.6h2v2h-2zM62.54 475.99h2.61v2.44h-2.61zM108.72 422.42h2.61v2.44h-2.61zM64.85 475.99h2.61v2.44h-2.61zM99.48 430.99h2.61v2.44h-2.61zM124.88 456.71h2.61v2.44h-2.61zM129.50 428.85h2.61v2.44h-2.61zM139.0 437.6h2v2h-2zM109.0 474.1h2v2h-2zM136.43 437.42h2.61v2.44h-2.61zM113.34 428.85h2.61v2.44h-2.61zM148.3 444.1h2v2h-2zM141.4 424.8h2v2h-2zM120.27 437.42h2.61v2.44h-2.61zM97.17 465.28h2.61v2.44h-2.61zM74.09 435.28h2.61v2.44h-2.61zM44.07 439.56h2.61v2.44h-2.61zM109.0 424.8h2v2h-2zM111.3 467.6h2v2h-2zM138.74 454.56h2.61v2.44h-2.61zM120.6 471.9h2v2h-2zM136.43 458.85h2.61v2.44h-2.61zM182.9 446.2h2v2h-2zM125.2 429.1h2v2h-2zM113.6 469.8h2v2h-2zM127.19 452.42h2.61v2.44h-2.61zM118.3 416.2h2v2h-2zM159.8 446.2h2v2h-2zM155.2 437.6h2v2h-2zM85.63 435.28h2.61v2.44h-2.61zM176.0 452.6h2v2h-2zM141.4 444.1h2v2h-2zM146.0 450.5h2v2h-2zM129.50 454.56h2.61v2.44h-2.61zM115.65 465.28h2.61v2.44h-2.61zM117.96 430.99h2.61v2.44h-2.61zM141.4 454.8h2v2h-2zM108.72 463.13h2.61v2.44h-2.61zM192.1 441.9h2v2h-2zM162.1 439.8h2v2h-2zM90.6 422.6h2v2h-2zM108.72 465.28h2.61v2.44h-2.61zM95.2 420.5h2v2h-2zM127.5 463.4h2v2h-2zM115.65 428.85h2.61v2.44h-2.61zM74.09 475.99h2.61v2.44h-2.61zM99.48 475.99h2.61v2.44h-2.61zM116.0 416.2h2v2h-2zM48.69 435.28h2.61v2.44h-2.61zM46.7 426.9h2v2h-2zM111.03 433.13h2.61v2.44h-2.61zM143.7 439.8h2v2h-2zM136.43 441.70h2.61v2.44h-2.61zM53.30 433.13h2.61v2.44h-2.61zM157.5 448.4h2v2h-2zM120.27 426.70h2.61v2.44h-2.61zM85.63 475.99h2.61v2.44h-2.61zM99.8 474.1h2v2h-2zM141.05 437.42h2.61v2.44h-2.61zM57.92 433.13h2.61v2.44h-2.61zM102.1 467.6h2v2h-2zM141.4 429.1h2v2h-2zM55.61 433.13h2.61v2.44h-2.61zM157.5 424.8h2v2h-2zM53.30 435.28h2.61v2.44h-2.61zM122.57 452.42h2.61v2.44h-2.61zM150.6 452.6h2v2h-2zM81.01 428.85h2.61v2.44h-2.61zM120.6 431.2h2v2h-2zM62.54 433.13h2.61v2.44h-2.61zM94.87 465.28h2.61v2.44h-2.61zM120.27 460.99h2.61v2.44h-2.61zM67.16 426.70h2.61v2.44h-2.61zM71.78 435.28h2.61v2.44h-2.61zM106.7 424.8h2v2h-2zM111.03 460.99h2.61v2.44h-2.61zM136.43 430.99h2.61v2.44h-2.61zM104.10 430.99h2.61v2.44h-2.61zM127.19 439.56h2.61v2.44h-2.61zM157.21 441.70h2.61v2.44h-2.61zM124.88 458.85h2.61v2.44h-2.61zM134.12 437.42h2.61v2.44h-2.61zM116.0 461.2h2v2h-2zM83.32 430.99h2.61v2.44h-2.61zM132.1 467.6h2v2h-2zM48.69 430.99h2.61v2.44h-2.61zM125.2 471.9h2v2h-2zM69.47 435.28h2.61v2.44h-2.61zM134.4 433.4h2v2h-2zM141.05 435.28h2.61v2.44h-2.61zM44.4 429.1h2v2h-2zM132.1 409.8h2v2h-2zM97.5 420.5h2v2h-2zM187.5 441.9h2v2h-2zM108.72 428.85h2.61v2.44h-2.61zM97.5 478.4h2v2h-2zM146.0 426.9h2v2h-2zM120.27 467.42h2.61v2.44h-2.61zM64.85 478.14h2.61v2.44h-2.61zM69.47 433.13h2.61v2.44h-2.61zM94.87 430.99h2.61v2.44h-2.61zM111.03 465.28h2.61v2.44h-2.61zM117.96 463.13h2.61v2.44h-2.61zM122.57 435.28h2.61v2.44h-2.61zM138.74 441.70h2.61v2.44h-2.61zM117.96 437.42h2.61v2.44h-2.61zM81.01 475.99h2.61v2.44h-2.61zM57.92 435.28h2.61v2.44h-2.61zM95.2 418.4h2v2h-2zM62.54 428.85h2.61v2.44h-2.61zM127.19 456.71h2.61v2.44h-2.61zM132.1 454.8h2v2h-2zM64.85 430.99h2.61v2.44h-2.61zM143.35 443.85h2.61v2.44h-2.61zM104.10 428.85h2.61v2.44h-2.61zM122.57 458.85h2.61v2.44h-2.61zM87.94 430.99h2.61v2.44h-2.61zM169.1 459.1h2v2h-2zM87.94 473.85h2.61v2.44h-2.61zM97.17 473.85h2.61v2.44h-2.61zM46.7 433.4h2v2h-2zM83.6 429.1h2v2h-2zM108.72 460.99h2.61v2.44h-2.61zM143.7 465.5h2v2h-2zM141.05 448.13h2.61v2.44h-2.61zM134.12 435.28h2.61v2.44h-2.61zM141.4 450.5h2v2h-2zM147.97 437.42h2.61v2.44h-2.61zM124.88 426.70h2.61v2.44h-2.61zM120.6 465.5h2v2h-2zM125.2 461.2h2v2h-2zM138.74 452.42h2.61v2.44h-2.61zM143.7 435.5h2v2h-2zM125.2 422.6h2v2h-2zM104.10 467.42h2.61v2.44h-2.61zM99.48 424.56h2.61v2.44h-2.61zM122.9 469.8h2v2h-2zM74.09 428.85h2.61v2.44h-2.61zM106.7 461.2h2v2h-2zM108.72 469.56h2.61v2.44h-2.61zM131.81 430.99h2.61v2.44h-2.61zM131.81 450.28h2.61v2.44h-2.61zM85.63 428.85h2.61v2.44h-2.61zM143.7 446.2h2v2h-2zM109.0 467.6h2v2h-2zM131.81 428.85h2.61v2.44h-2.61zM74.4 422.6h2v2h-2zM199.1 439.8h2v2h-2zM95.2 474.1h2v2h-2zM127.19 426.70h2.61v2.44h-2.61zM46.38 441.70h2.61v2.44h-2.61zM134.12 439.56h2.61v2.44h-2.61zM102.1 418.4h2v2h-2zM44.07 443.85h2.61v2.44h-2.61zM90.25 475.99h2.61v2.44h-2.61zM120.27 424.56h2.61v2.44h-2.61zM122.9 463.4h2v2h-2zM115.65 430.99h2.61v2.44h-2.61zM116.0 467.6h2v2h-2zM118.3 467.6h2v2h-2zM178.3 441.9h2v2h-2zM122.57 428.85h2.61v2.44h-2.61zM136.7 474.1h2v2h-2zM139.0 439.8h2v2h-2zM74.4 478.4h2v2h-2zM85.63 469.56h2.61v2.44h-2.61zM185.2 450.5h2v2h-2zM131.81 439.56h2.61v2.44h-2.61zM58.2 424.8h2v2h-2zM113.6 420.5h2v2h-2zM109.0 471.9h2v2h-2zM71.78 424.56h2.61v2.44h-2.61zM127.19 454.56h2.61v2.44h-2.61zM71.78 437.42h2.61v2.44h-2.61zM44.07 437.42h2.61v2.44h-2.61zM48.69 437.42h2.61v2.44h-2.61zM76.39 430.99h2.61v2.44h-2.61zM150.6 437.6h2v2h-2zM157.5 450.5h2v2h-2zM99.48 469.56h2.61v2.44h-2.61zM118.3 424.8h2v2h-2zM118.3 476.2h2v2h-2zM113.6 474.1h2v2h-2zM58.2 420.5h2v2h-2zM129.50 439.56h2.61v2.44h-2.61zM131.81 452.42h2.61v2.44h-2.61zM94.87 471.71h2.61v2.44h-2.61zM143.35 450.28h2.61v2.44h-2.61zM94.87 428.85h2.61v2.44h-2.61zM118.3 469.8h2v2h-2zM106.7 474.1h2v2h-2zM92.9 471.9h2v2h-2zM169.1 456.9h2v2h-2zM141.05 441.70h2.61v2.44h-2.61zM134.4 426.9h2v2h-2zM162.1 437.6h2v2h-2zM99.48 463.13h2.61v2.44h-2.61zM178.3 465.5h2v2h-2zM55.61 435.28h2.61v2.44h-2.61zM129.50 458.85h2.61v2.44h-2.61zM64.85 435.28h2.61v2.44h-2.61zM81.3 420.5h2v2h-2zM92.56 424.56h2.61v2.44h-2.61zM117.96 428.85h2.61v2.44h-2.61zM157.5 431.2h2v2h-2zM94.87 469.56h2.61v2.44h-2.61zM81.01 433.13h2.61v2.44h-2.61zM102.1 426.9h2v2h-2zM81.01 430.99h2.61v2.44h-2.61zM62.8 420.5h2v2h-2zM55.9 426.9h2v2h-2zM97.5 476.2h2v2h-2zM83.6 426.9h2v2h-2zM111.03 458.85h2.61v2.44h-2.61zM136.7 429.1h2v2h-2zM101.79 430.99h2.61v2.44h-2.61zM129.8 433.4h2v2h-2zM155.2 452.6h2v2h-2zM115.65 463.13h2.61v2.44h-2.61zM127.5 422.6h2v2h-2zM166.7 452.6h2v2h-2zM182.9 444.1h2v2h-2zM134.12 454.56h2.61v2.44h-2.61zM104.4 474.1h2v2h-2zM57.92 428.85h2.61v2.44h-2.61zM97.17 426.70h2.61v2.44h-2.61zM134.4 452.6h2v2h-2zM136.43 435.28h2.61v2.44h-2.61zM164.4 444.1h2v2h-2zM85.9 426.9h2v2h-2zM67.16 430.99h2.61v2.44h-2.61zM81.3 426.9h2v2h-2zM76.39 433.13h2.61v2.44h-2.61zM166.7 439.8h2v2h-2zM152.9 459.1h2v2h-2zM141.05 458.85h2.61v2.44h-2.61zM122.9 426.9h2v2h-2zM90.6 426.9h2v2h-2zM55.9 429.1h2v2h-2zM171.4 431.2h2v2h-2zM173.7 439.8h2v2h-2zM132.1 456.9h2v2h-2zM185.2 420.5h2v2h-2zM99.48 433.13h2.61v2.44h-2.61zM127.19 428.85h2.61v2.44h-2.61zM139.0 459.1h2v2h-2zM60.5 429.1h2v2h-2zM162.1 456.9h2v2h-2zM120.6 433.4h2v2h-2zM136.7 456.9h2v2h-2zM150.6 424.8h2v2h-2zM173.7 461.2h2v2h-2zM159.8 429.1h2v2h-2zM81.3 478.4h2v2h-2zM164.4 446.2h2v2h-2zM143.7 420.5h2v2h-2zM104.10 465.28h2.61v2.44h-2.61zM94.87 475.99h2.61v2.44h-2.61zM85.63 478.14h2.61v2.44h-2.61zM116.0 414.1h2v2h-2zM138.74 428.85h2.61v2.44h-2.61zM134.4 429.1h2v2h-2zM113.34 424.56h2.61v2.44h-2.61zM48.69 428.85h2.61v2.44h-2.61zM104.4 469.8h2v2h-2zM58.2 431.2h2v2h-2zM132.1 435.5h2v2h-2zM185.2 433.4h2v2h-2zM143.35 454.56h2.61v2.44h-2.61zM143.7 437.6h2v2h-2zM92.9 476.2h2v2h-2zM115.65 458.85h2.61v2.44h-2.61zM146.0 454.8h2v2h-2zM132.1 459.1h2v2h-2zM46.7 429.1h2v2h-2zM180.6 452.6h2v2h-2zM148.3 463.4h2v2h-2zM88.2 429.1h2v2h-2zM176.0 435.5h2v2h-2zM51.00 428.85h2.61v2.44h-2.61zM90.6 418.4h2v2h-2zM136.43 439.56h2.61v2.44h-2.61zM132.1 474.1h2v2h-2zM122.57 450.28h2.61v2.44h-2.61zM62.8 418.4h2v2h-2zM88.2 424.8h2v2h-2zM85.9 420.5h2v2h-2zM134.4 456.9h2v2h-2zM139.0 446.2h2v2h-2zM74.4 416.2h2v2h-2zM83.32 478.14h2.61v2.44h-2.61zM117.96 458.85h2.61v2.44h-2.61zM155.2 439.8h2v2h-2zM134.12 445.99h2.61v2.44h-2.61zM106.7 467.6h2v2h-2zM127.5 461.2h2v2h-2zM129.50 445.99h2.61v2.44h-2.61zM90.6 429.1h2v2h-2zM169.1 454.8h2v2h-2zM122.9 418.4h2v2h-2zM44.4 420.5h2v2h-2zM132.1 463.4h2v2h-2zM152.9 454.8h2v2h-2zM129.50 435.28h2.61v2.44h-2.61zM49.0 426.9h2v2h-2zM148.3 448.4h2v2h-2zM159.8 444.1h2v2h-2zM139.0 450.5h2v2h-2zM92.9 433.4h2v2h-2zM58.2 422.6h2v2h-2zM97.5 471.9h2v2h-2zM85.63 473.85h2.61v2.44h-2.61zM90.6 420.5h2v2h-2zM60.5 431.2h2v2h-2zM146.0 448.4h2v2h-2zM157.5 422.6h2v2h-2zM101.79 424.56h2.61v2.44h-2.61zM159.8 426.9h2v2h-2zM74.4 433.4h2v2h-2zM141.05 433.13h2.61v2.44h-2.61zM120.6 469.8h2v2h-2zM127.5 459.1h2v2h-2zM46.38 439.56h2.61v2.44h-2.61zM164.4 429.1h2v2h-2zM94.87 467.42h2.61v2.44h-2.61zM125.2 431.2h2v2h-2zM113.6 471.9h2v2h-2zM152.9 414.1h2v2h-2zM79.0 426.9h2v2h-2zM171.4 469.8h2v2h-2zM71.78 475.99h2.61v2.44h-2.61zM143.7 422.6h2v2h-2zM166.7 441.9h2v2h-2zM157.5 467.6h2v2h-2zM143.7 459.1h2v2h-2zM62.8 424.8h2v2h-2zM138.74 435.28h2.61v2.44h-2.61zM166.7 437.6h2v2h-2zM118.3 461.2h2v2h-2zM113.6 465.5h2v2h-2zM88.2 476.2h2v2h-2zM164.4 452.6h2v2h-2zM111.3 418.4h2v2h-2zM62.8 416.2h2v2h-2zM115.65 433.13h2.61v2.44h-2.61zM53.6 426.9h2v2h-2zM143.7 441.9h2v2h-2zM51.3 424.8h2v2h-2zM166.7 476.2h2v2h-2zM143.7 433.4h2v2h-2zM72.1 420.5h2v2h-2zM85.9 422.6h2v2h-2zM102.1 476.2h2v2h-2zM148.3 456.9h2v2h-2zM72.1 431.2h2v2h-2zM155.2 448.4h2v2h-2zM180.6 435.5h2v2h-2zM113.6 478.4h2v2h-2zM136.7 448.4h2v2h-2zM143.7 424.8h2v2h-2zM76.7 422.6h2v2h-2zM141.4 465.5h2v2h-2zM74.4 424.8h2v2h-2zM104.4 476.2h2v2h-2zM148.3 433.4h2v2h-2zM106.7 469.8h2v2h-2zM69.8 424.8h2v2h-2zM102.1 478.4h2v2h-2zM129.8 471.9h2v2h-2zM148.3 441.9h2v2h-2zM92.9 429.1h2v2h-2zM132.1 465.5h2v2h-2zM44.4 424.8h2v2h-2zM67.16 478.14h2.61v2.44h-2.61zM109.0 478.4h2v2h-2zM134.4 467.6h2v2h-2zM74.4 426.9h2v2h-2zM192.1 435.5h2v2h-2zM148.3 461.2h2v2h-2zM72.1 426.9h2v2h-2zM146.0 446.2h2v2h-2zM152.9 441.9h2v2h-2zM106.7 471.9h2v2h-2zM134.4 448.4h2v2h-2zM150.6 439.8h2v2h-2zM155.2 420.5h2v2h-2zM58.2 426.9h2v2h-2zM155.2 444.1h2v2h-2zM62.8 431.2h2v2h-2zM60.5 420.5h2v2h-2zM62.8 422.6h2v2h-2zM152.9 444.1h2v2h-2zM65.2 420.5h2v2h-2zM150.6 450.5h2v2h-2zM102.1 469.8h2v2h-2zM146.0 441.9h2v2h-2zM69.8 429.1h2v2h-2zM102.1 420.5h2v2h-2zM146.0 465.5h2v2h-2zM150.6 435.5h2v2h-2zM171.4 439.8h2v2h-2zM169.1 465.5h2v2h-2zM136.7 426.9h2v2h-2zM134.4 431.2h2v2h-2zM65.2 429.1h2v2h-2zM111.3 429.1h2v2h-2zM53.6 429.1h2v2h-2zM152.9 452.6h2v2h-2zM152.9 450.5h2v2h-2zM157.5 446.2h2v2h-2zM92.9 426.9h2v2h-2zM67.5 411.9h2v2h-2zM166.7 444.1h2v2h-2zM111.3 469.8h2v2h-2zM99.8 422.6h2v2h-2zM136.7 463.4h2v2h-2zM173.7 448.4h2v2h-2zM180.6 454.8h2v2h-2zM141.4 456.9h2v2h-2zM194.5 463.4h2v2h-2zM132.1 469.8h2v2h-2zM146.0 418.4h2v2h-2zM148.3 429.1h2v2h-2zM120.6 429.1h2v2h-2zM116.0 420.5h2v2h-2zM143.7 429.1h2v2h-2zM85.9 424.8h2v2h-2zM125.2 409.8h2v2h-2zM83.6 424.8h2v2h-2zM141.4 418.4h2v2h-2zM67.5 429.1h2v2h-2zM132.1 416.2h2v2h-2zM157.5 454.8h2v2h-2zM143.7 456.9h2v2h-2zM141.4 463.4h2v2h-2zM134.4 459.1h2v2h-2zM150.6 433.4h2v2h-2z"/><path fill="#4a68b3" d="M90.25 437.42h2.61v2.44h-2.61zM74.09 469.56h2.61v2.44h-2.61zM67.16 435.28h2.61v2.44h-2.61zM51.00 441.70h2.61v2.44h-2.61zM113.34 437.42h2.61v2.44h-2.61zM44.07 441.70h2.61v2.44h-2.61zM64.85 471.71h2.61v2.44h-2.61zM129.50 441.70h2.61v2.44h-2.61zM122.57 454.56h2.61v2.44h-2.61zM122.57 437.42h2.61v2.44h-2.61zM111.03 435.28h2.61v2.44h-2.61zM74.09 430.99h2.61v2.44h-2.61zM115.65 437.42h2.61v2.44h-2.61zM127.19 448.13h2.61v2.44h-2.61zM67.16 437.42h2.61v2.44h-2.61zM127.19 437.42h2.61v2.44h-2.61zM53.30 441.70h2.61v2.44h-2.61zM48.69 439.56h2.61v2.44h-2.61zM117.96 435.28h2.61v2.44h-2.61zM46.38 445.99h2.61v2.44h-2.61zM106.41 437.42h2.61v2.44h-2.61zM122.57 456.71h2.61v2.44h-2.61zM106.41 458.85h2.61v2.44h-2.61zM78.70 433.13h2.61v2.44h-2.61zM71.78 473.85h2.61v2.44h-2.61zM44.07 448.13h2.61v2.44h-2.61zM113.34 435.28h2.61v2.44h-2.61zM113.34 456.71h2.61v2.44h-2.61zM120.27 450.28h2.61v2.44h-2.61zM111.03 437.42h2.61v2.44h-2.61zM120.27 443.85h2.61v2.44h-2.61zM46.38 443.85h2.61v2.44h-2.61zM117.96 452.42h2.61v2.44h-2.61zM69.47 475.99h2.61v2.44h-2.61zM51.00 439.56h2.61v2.44h-2.61zM124.88 445.99h2.61v2.44h-2.61zM81.01 435.28h2.61v2.44h-2.61zM104.10 435.28h2.61v2.44h-2.61zM101.79 463.13h2.61v2.44h-2.61zM90.25 469.56h2.61v2.44h-2.61zM55.61 439.56h2.61v2.44h-2.61zM108.72 437.42h2.61v2.44h-2.61zM122.57 439.56h2.61v2.44h-2.61zM94.87 439.56h2.61v2.44h-2.61zM55.61 437.42h2.61v2.44h-2.61zM101.79 437.42h2.61v2.44h-2.61zM46.38 478.14h2.61v2.44h-2.61zM44.07 445.99h2.61v2.44h-2.61zM117.96 443.85h2.61v2.44h-2.61zM83.32 435.28h2.61v2.44h-2.61zM53.30 475.99h2.61v2.44h-2.61zM115.65 454.56h2.61v2.44h-2.61zM127.19 441.70h2.61v2.44h-2.61zM46.38 437.42h2.61v2.44h-2.61zM115.65 435.28h2.61v2.44h-2.61zM113.34 443.85h2.61v2.44h-2.61zM124.88 441.70h2.61v2.44h-2.61zM131.81 441.70h2.61v2.44h-2.61zM90.25 467.42h2.61v2.44h-2.61zM131.81 448.13h2.61v2.44h-2.61zM85.63 439.56h2.61v2.44h-2.61zM99.48 465.28h2.61v2.44h-2.61zM87.94 469.56h2.61v2.44h-2.61zM115.65 439.56h2.61v2.44h-2.61zM51.00 473.85h2.61v2.44h-2.61zM60.23 437.42h2.61v2.44h-2.61zM48.69 478.14h2.61v2.44h-2.61zM85.63 433.13h2.61v2.44h-2.61zM69.47 439.56h2.61v2.44h-2.61zM124.88 450.28h2.61v2.44h-2.61zM81.01 471.71h2.61v2.44h-2.61zM76.39 435.28h2.61v2.44h-2.61zM74.09 471.71h2.61v2.44h-2.61zM60.23 433.13h2.61v2.44h-2.61zM69.47 473.85h2.61v2.44h-2.61zM108.72 458.85h2.61v2.44h-2.61zM76.39 437.42h2.61v2.44h-2.61zM101.79 435.28h2.61v2.44h-2.61zM92.56 437.42h2.61v2.44h-2.61zM92.56 435.28h2.61v2.44h-2.61zM94.87 437.42h2.61v2.44h-2.61zM138.74 433.13h2.61v2.44h-2.61zM104.10 437.42h2.61v2.44h-2.61zM117.96 433.13h2.61v2.44h-2.61zM90.25 441.70h2.61v2.44h-2.61zM106.41 435.28h2.61v2.44h-2.61zM117.96 454.56h2.61v2.44h-2.61zM104.10 454.56h2.61v2.44h-2.61zM48.69 433.13h2.61v2.44h-2.61zM99.48 435.28h2.61v2.44h-2.61zM129.50 448.13h2.61v2.44h-2.61zM97.17 435.28h2.61v2.44h-2.61zM53.30 437.42h2.61v2.44h-2.61zM120.27 445.99h2.61v2.44h-2.61zM120.27 441.70h2.61v2.44h-2.61zM122.57 443.85h2.61v2.44h-2.61zM74.09 437.42h2.61v2.44h-2.61zM99.48 460.99h2.61v2.44h-2.61zM55.61 441.70h2.61v2.44h-2.61zM69.47 437.42h2.61v2.44h-2.61zM57.92 475.99h2.61v2.44h-2.61zM48.69 441.70h2.61v2.44h-2.61zM101.79 460.99h2.61v2.44h-2.61zM64.85 439.56h2.61v2.44h-2.61zM83.32 471.71h2.61v2.44h-2.61zM129.50 450.28h2.61v2.44h-2.61zM74.09 473.85h2.61v2.44h-2.61zM129.50 437.42h2.61v2.44h-2.61zM53.30 478.14h2.61v2.44h-2.61zM120.27 456.71h2.61v2.44h-2.61zM106.41 439.56h2.61v2.44h-2.61zM78.70 471.71h2.61v2.44h-2.61zM71.78 439.56h2.61v2.44h-2.61zM120.27 452.42h2.61v2.44h-2.61zM101.79 465.28h2.61v2.44h-2.61zM60.23 441.70h2.61v2.44h-2.61zM83.32 437.42h2.61v2.44h-2.61zM83.32 467.42h2.61v2.44h-2.61zM87.94 435.28h2.61v2.44h-2.61zM117.96 450.28h2.61v2.44h-2.61zM113.34 433.13h2.61v2.44h-2.61zM76.39 471.71h2.61v2.44h-2.61zM67.16 473.85h2.61v2.44h-2.61zM97.17 433.13h2.61v2.44h-2.61zM44.07 475.99h2.61v2.44h-2.61zM83.32 469.56h2.61v2.44h-2.61zM57.92 439.56h2.61v2.44h-2.61zM51.00 478.14h2.61v2.44h-2.61zM94.87 435.28h2.61v2.44h-2.61zM87.94 467.42h2.61v2.44h-2.61zM124.88 435.28h2.61v2.44h-2.61zM67.16 433.13h2.61v2.44h-2.61zM106.41 441.70h2.61v2.44h-2.61zM127.19 450.28h2.61v2.44h-2.61zM46.38 475.99h2.61v2.44h-2.61zM127.19 435.28h2.61v2.44h-2.61zM67.16 439.56h2.61v2.44h-2.61zM44.07 473.85h2.61v2.44h-2.61zM60.23 435.28h2.61v2.44h-2.61zM104.10 460.99h2.61v2.44h-2.61zM113.34 454.56h2.61v2.44h-2.61zM108.72 435.28h2.61v2.44h-2.61zM124.88 433.13h2.61v2.44h-2.61zM131.81 443.85h2.61v2.44h-2.61zM124.88 437.42h2.61v2.44h-2.61zM69.47 471.71h2.61v2.44h-2.61zM97.17 467.42h2.61v2.44h-2.61zM51.00 437.42h2.61v2.44h-2.61zM97.17 463.13h2.61v2.44h-2.61zM78.70 437.42h2.61v2.44h-2.61zM104.10 463.13h2.61v2.44h-2.61zM124.88 448.13h2.61v2.44h-2.61zM120.27 435.28h2.61v2.44h-2.61zM97.17 439.56h2.61v2.44h-2.61zM57.92 478.14h2.61v2.44h-2.61z"/><path fill="#3f8fbb" d="M55.61 473.85h2.61v2.44h-2.61zM62.54 471.71h2.61v2.44h-2.61zM67.16 471.71h2.61v2.44h-2.61zM115.65 456.71h2.61v2.44h-2.61zM117.96 441.70h2.61v2.44h-2.61zM108.72 450.28h2.61v2.44h-2.61zM127.19 445.99h2.61v2.44h-2.61zM111.03 456.71h2.61v2.44h-2.61zM57.92 473.85h2.61v2.44h-2.61zM101.79 443.85h2.61v2.44h-2.61zM113.34 450.28h2.61v2.44h-2.61zM106.41 452.42h2.61v2.44h-2.61zM55.61 445.99h2.61v2.44h-2.61zM44.07 471.71h2.61v2.44h-2.61zM113.34 439.56h2.61v2.44h-2.61zM55.61 475.99h2.61v2.44h-2.61zM113.34 441.70h2.61v2.44h-2.61zM78.70 467.42h2.61v2.44h-2.61zM87.94 439.56h2.61v2.44h-2.61zM104.10 456.71h2.61v2.44h-2.61zM60.23 439.56h2.61v2.44h-2.61zM106.41 445.99h2.61v2.44h-2.61zM51.00 475.99h2.61v2.44h-2.61zM115.65 448.13h2.61v2.44h-2.61zM57.92 471.71h2.61v2.44h-2.61zM64.85 469.56h2.61v2.44h-2.61zM99.48 456.71h2.61v2.44h-2.61zM92.56 465.28h2.61v2.44h-2.61zM44.07 450.28h2.61v2.44h-2.61zM124.88 443.85h2.61v2.44h-2.61zM104.10 448.13h2.61v2.44h-2.61zM51.00 443.85h2.61v2.44h-2.61zM92.56 439.56h2.61v2.44h-2.61zM101.79 454.56h2.61v2.44h-2.61zM122.57 448.13h2.61v2.44h-2.61zM111.03 439.56h2.61v2.44h-2.61zM108.72 441.70h2.61v2.44h-2.61zM69.47 441.70h2.61v2.44h-2.61zM53.30 443.85h2.61v2.44h-2.61zM99.48 448.13h2.61v2.44h-2.61zM106.41 454.56h2.61v2.44h-2.61zM48.69 443.85h2.61v2.44h-2.61zM85.63 465.28h2.61v2.44h-2.61zM69.47 469.56h2.61v2.44h-2.61zM124.88 439.56h2.61v2.44h-2.61zM81.01 437.42h2.61v2.44h-2.61zM46.38 471.71h2.61v2.44h-2.61zM71.78 469.56h2.61v2.44h-2.61zM108.72 448.13h2.61v2.44h-2.61zM99.48 439.56h2.61v2.44h-2.61zM117.96 448.13h2.61v2.44h-2.61zM85.63 467.42h2.61v2.44h-2.61zM120.27 454.56h2.61v2.44h-2.61zM64.85 441.70h2.61v2.44h-2.61zM124.88 452.42h2.61v2.44h-2.61zM97.17 441.70h2.61v2.44h-2.61zM48.69 475.99h2.61v2.44h-2.61zM78.70 441.70h2.61v2.44h-2.61zM94.87 443.85h2.61v2.44h-2.61zM108.72 452.42h2.61v2.44h-2.61zM76.39 469.56h2.61v2.44h-2.61zM113.34 448.13h2.61v2.44h-2.61zM101.79 458.85h2.61v2.44h-2.61zM64.85 445.99h2.61v2.44h-2.61zM67.16 443.85h2.61v2.44h-2.61zM48.69 448.13h2.61v2.44h-2.61zM60.23 471.71h2.61v2.44h-2.61zM60.23 473.85h2.61v2.44h-2.61zM71.78 441.70h2.61v2.44h-2.61zM76.39 439.56h2.61v2.44h-2.61zM104.10 445.99h2.61v2.44h-2.61zM60.23 475.99h2.61v2.44h-2.61zM111.03 452.42h2.61v2.44h-2.61zM64.85 473.85h2.61v2.44h-2.61zM111.03 448.13h2.61v2.44h-2.61zM67.16 441.70h2.61v2.44h-2.61zM115.65 445.99h2.61v2.44h-2.61zM117.96 445.99h2.61v2.44h-2.61zM111.03 454.56h2.61v2.44h-2.61zM46.38 450.28h2.61v2.44h-2.61zM51.00 448.13h2.61v2.44h-2.61zM117.96 439.56h2.61v2.44h-2.61zM111.03 441.70h2.61v2.44h-2.61zM48.69 445.99h2.61v2.44h-2.61zM113.34 445.99h2.61v2.44h-2.61zM101.79 441.70h2.61v2.44h-2.61zM87.94 437.42h2.61v2.44h-2.61zM104.10 452.42h2.61v2.44h-2.61zM115.65 452.42h2.61v2.44h-2.61zM44.07 452.42h2.61v2.44h-2.61zM97.17 458.85h2.61v2.44h-2.61zM120.27 448.13h2.61v2.44h-2.61zM71.78 445.99h2.61v2.44h-2.61zM122.57 445.99h2.61v2.44h-2.61zM104.10 443.85h2.61v2.44h-2.61zM104.10 450.28h2.61v2.44h-2.61zM111.03 443.85h2.61v2.44h-2.61zM46.38 452.42h2.61v2.44h-2.61zM106.41 456.71h2.61v2.44h-2.61zM101.79 445.99h2.61v2.44h-2.61zM57.92 441.70h2.61v2.44h-2.61zM90.25 435.28h2.61v2.44h-2.61zM99.48 441.70h2.61v2.44h-2.61zM81.01 469.56h2.61v2.44h-2.61zM92.56 460.99h2.61v2.44h-2.61zM62.54 439.56h2.61v2.44h-2.61zM62.54 473.85h2.61v2.44h-2.61zM69.47 443.85h2.61v2.44h-2.61zM57.92 443.85h2.61v2.44h-2.61zM108.72 456.71h2.61v2.44h-2.61zM78.70 439.56h2.61v2.44h-2.61zM104.10 439.56h2.61v2.44h-2.61zM104.10 458.85h2.61v2.44h-2.61zM90.25 465.28h2.61v2.44h-2.61zM92.56 467.42h2.61v2.44h-2.61zM74.09 439.56h2.61v2.44h-2.61zM83.32 439.56h2.61v2.44h-2.61zM108.72 454.56h2.61v2.44h-2.61zM120.27 439.56h2.61v2.44h-2.61zM46.38 448.13h2.61v2.44h-2.61zM113.34 452.42h2.61v2.44h-2.61zM127.19 443.85h2.61v2.44h-2.61zM48.69 473.85h2.61v2.44h-2.61zM55.61 471.71h2.61v2.44h-2.61zM122.57 441.70h2.61v2.44h-2.61zM101.79 439.56h2.61v2.44h-2.61zM60.23 443.85h2.61v2.44h-2.61zM111.03 445.99h2.61v2.44h-2.61zM62.54 441.70h2.61v2.44h-2.61zM85.63 437.42h2.61v2.44h-2.61z"/><path fill="#55b1ad" d="M97.17 445.99h2.61v2.44h-2.61zM53.30 473.85h2.61v2.44h-2.61zM104.10 441.70h2.61v2.44h-2.61zM83.32 441.70h2.61v2.44h-2.61zM48.69 452.42h2.61v2.44h-2.61zM57.92 469.56h2.61v2.44h-2.61zM81.01 443.85h2.61v2.44h-2.61zM71.78 448.13h2.61v2.44h-2.61zM46.38 454.56h2.61v2.44h-2.61zM99.48 443.85h2.61v2.44h-2.61zM115.65 450.28h2.61v2.44h-2.61zM85.63 441.70h2.61v2.44h-2.61zM57.92 445.99h2.61v2.44h-2.61zM53.30 452.42h2.61v2.44h-2.61zM81.01 441.70h2.61v2.44h-2.61zM106.41 450.28h2.61v2.44h-2.61zM108.72 439.56h2.61v2.44h-2.61zM64.85 467.42h2.61v2.44h-2.61zM67.16 467.42h2.61v2.44h-2.61zM101.79 448.13h2.61v2.44h-2.61zM94.87 445.99h2.61v2.44h-2.61zM57.92 448.13h2.61v2.44h-2.61zM97.17 448.13h2.61v2.44h-2.61zM69.47 465.28h2.61v2.44h-2.61zM106.41 448.13h2.61v2.44h-2.61zM76.39 467.42h2.61v2.44h-2.61zM71.78 443.85h2.61v2.44h-2.61zM97.17 460.99h2.61v2.44h-2.61zM60.23 448.13h2.61v2.44h-2.61zM94.87 456.71h2.61v2.44h-2.61zM46.38 473.85h2.61v2.44h-2.61zM92.56 443.85h2.61v2.44h-2.61zM83.32 443.85h2.61v2.44h-2.61zM76.39 445.99h2.61v2.44h-2.61zM74.09 467.42h2.61v2.44h-2.61zM99.48 450.28h2.61v2.44h-2.61zM71.78 467.42h2.61v2.44h-2.61zM83.32 465.28h2.61v2.44h-2.61zM87.94 465.28h2.61v2.44h-2.61zM90.25 463.13h2.61v2.44h-2.61zM64.85 450.28h2.61v2.44h-2.61zM81.01 467.42h2.61v2.44h-2.61zM97.17 456.71h2.61v2.44h-2.61zM101.79 456.71h2.61v2.44h-2.61zM44.07 454.56h2.61v2.44h-2.61zM67.16 469.56h2.61v2.44h-2.61zM62.54 469.56h2.61v2.44h-2.61zM108.72 443.85h2.61v2.44h-2.61zM67.16 445.99h2.61v2.44h-2.61zM44.07 456.71h2.61v2.44h-2.61zM53.30 471.71h2.61v2.44h-2.61zM115.65 441.70h2.61v2.44h-2.61zM101.79 450.28h2.61v2.44h-2.61zM53.30 450.28h2.61v2.44h-2.61zM53.30 448.13h2.61v2.44h-2.61zM92.56 448.13h2.61v2.44h-2.61zM55.61 443.85h2.61v2.44h-2.61zM76.39 441.70h2.61v2.44h-2.61zM48.69 450.28h2.61v2.44h-2.61zM85.63 443.85h2.61v2.44h-2.61zM51.00 471.71h2.61v2.44h-2.61zM62.54 443.85h2.61v2.44h-2.61zM48.69 454.56h2.61v2.44h-2.61zM62.54 445.99h2.61v2.44h-2.61zM48.69 471.71h2.61v2.44h-2.61zM74.09 441.70h2.61v2.44h-2.61zM106.41 443.85h2.61v2.44h-2.61zM99.48 452.42h2.61v2.44h-2.61zM87.94 463.13h2.61v2.44h-2.61zM51.00 450.28h2.61v2.44h-2.61zM97.17 452.42h2.61v2.44h-2.61zM97.17 443.85h2.61v2.44h-2.61zM92.56 441.70h2.61v2.44h-2.61zM94.87 463.13h2.61v2.44h-2.61zM78.70 443.85h2.61v2.44h-2.61zM64.85 443.85h2.61v2.44h-2.61zM94.87 460.99h2.61v2.44h-2.61zM87.94 441.70h2.61v2.44h-2.61zM81.01 463.13h2.61v2.44h-2.61zM78.70 445.99h2.61v2.44h-2.61zM51.00 445.99h2.61v2.44h-2.61zM53.30 445.99h2.61v2.44h-2.61zM101.79 452.42h2.61v2.44h-2.61zM71.78 471.71h2.61v2.44h-2.61zM111.03 450.28h2.61v2.44h-2.61zM74.09 443.85h2.61v2.44h-2.61zM108.72 445.99h2.61v2.44h-2.61zM99.48 458.85h2.61v2.44h-2.61zM99.48 454.56h2.61v2.44h-2.61zM99.48 437.42h2.61v2.44h-2.61zM115.65 443.85h2.61v2.44h-2.61zM94.87 458.85h2.61v2.44h-2.61zM81.01 439.56h2.61v2.44h-2.61zM99.48 445.99h2.61v2.44h-2.61zM60.23 445.99h2.61v2.44h-2.61zM55.61 448.13h2.61v2.44h-2.61zM90.25 439.56h2.61v2.44h-2.61zM94.87 441.70h2.61v2.44h-2.61zM81.01 465.28h2.61v2.44h-2.61z"/><path fill="#8fd0a6" d="M85.63 460.99h2.61v2.44h-2.61zM94.87 448.13h2.61v2.44h-2.61zM55.61 469.56h2.61v2.44h-2.61zM62.54 448.13h2.61v2.44h-2.61zM83.32 448.13h2.61v2.44h-2.61zM81.01 445.99h2.61v2.44h-2.61zM87.94 445.99h2.61v2.44h-2.61zM46.38 456.71h2.61v2.44h-2.61zM97.17 454.56h2.61v2.44h-2.61zM51.00 460.99h2.61v2.44h-2.61zM55.61 450.28h2.61v2.44h-2.61zM92.56 445.99h2.61v2.44h-2.61zM87.94 460.99h2.61v2.44h-2.61zM74.09 448.13h2.61v2.44h-2.61zM81.01 448.13h2.61v2.44h-2.61zM85.63 463.13h2.61v2.44h-2.61zM71.78 463.13h2.61v2.44h-2.61zM71.78 450.28h2.61v2.44h-2.61zM55.61 452.42h2.61v2.44h-2.61zM60.23 450.28h2.61v2.44h-2.61zM60.23 469.56h2.61v2.44h-2.61zM46.38 458.85h2.61v2.44h-2.61zM57.92 450.28h2.61v2.44h-2.61zM67.16 448.13h2.61v2.44h-2.61zM51.00 454.56h2.61v2.44h-2.61zM76.39 443.85h2.61v2.44h-2.61zM60.23 467.42h2.61v2.44h-2.61zM83.32 463.13h2.61v2.44h-2.61zM92.56 458.85h2.61v2.44h-2.61zM51.00 469.56h2.61v2.44h-2.61zM90.25 443.85h2.61v2.44h-2.61zM44.07 458.85h2.61v2.44h-2.61zM87.94 443.85h2.61v2.44h-2.61zM78.70 465.28h2.61v2.44h-2.61zM69.47 467.42h2.61v2.44h-2.61zM62.54 467.42h2.61v2.44h-2.61zM51.00 452.42h2.61v2.44h-2.61zM67.16 452.42h2.61v2.44h-2.61zM57.92 452.42h2.61v2.44h-2.61zM74.09 445.99h2.61v2.44h-2.61zM83.32 445.99h2.61v2.44h-2.61zM76.39 463.13h2.61v2.44h-2.61zM48.69 469.56h2.61v2.44h-2.61zM97.17 450.28h2.61v2.44h-2.61zM55.61 454.56h2.61v2.44h-2.61zM64.85 465.28h2.61v2.44h-2.61zM69.47 452.42h2.61v2.44h-2.61zM62.54 450.28h2.61v2.44h-2.61zM90.25 448.13h2.61v2.44h-2.61zM78.70 463.13h2.61v2.44h-2.61zM92.56 463.13h2.61v2.44h-2.61zM78.70 448.13h2.61v2.44h-2.61zM69.47 460.99h2.61v2.44h-2.61zM83.32 460.99h2.61v2.44h-2.61zM94.87 450.28h2.61v2.44h-2.61zM69.47 445.99h2.61v2.44h-2.61zM57.92 467.42h2.61v2.44h-2.61zM53.30 469.56h2.61v2.44h-2.61zM76.39 465.28h2.61v2.44h-2.61zM53.30 456.71h2.61v2.44h-2.61zM74.09 465.28h2.61v2.44h-2.61zM44.07 469.56h2.61v2.44h-2.61zM90.25 460.99h2.61v2.44h-2.61zM92.56 450.28h2.61v2.44h-2.61zM64.85 448.13h2.61v2.44h-2.61z"/><path fill="#c2e6a0" d="M87.94 454.56h2.61v2.44h-2.61zM81.01 450.28h2.61v2.44h-2.61zM81.01 460.99h2.61v2.44h-2.61zM57.92 454.56h2.61v2.44h-2.61zM46.38 467.42h2.61v2.44h-2.61zM46.38 469.56h2.61v2.44h-2.61zM87.94 456.71h2.61v2.44h-2.61zM69.47 450.28h2.61v2.44h-2.61zM64.85 454.56h2.61v2.44h-2.61zM90.25 458.85h2.61v2.44h-2.61zM55.61 467.42h2.61v2.44h-2.61zM51.00 463.13h2.61v2.44h-2.61zM48.69 460.99h2.61v2.44h-2.61zM48.69 456.71h2.61v2.44h-2.61zM67.16 450.28h2.61v2.44h-2.61zM60.23 465.28h2.61v2.44h-2.61zM62.54 465.28h2.61v2.44h-2.61zM85.63 448.13h2.61v2.44h-2.61zM64.85 458.85h2.61v2.44h-2.61zM92.56 456.71h2.61v2.44h-2.61zM87.94 450.28h2.61v2.44h-2.61zM74.09 450.28h2.61v2.44h-2.61zM85.63 452.42h2.61v2.44h-2.61zM71.78 465.28h2.61v2.44h-2.61zM78.70 454.56h2.61v2.44h-2.61zM92.56 452.42h2.61v2.44h-2.61zM71.78 452.42h2.61v2.44h-2.61zM76.39 448.13h2.61v2.44h-2.61zM87.94 452.42h2.61v2.44h-2.61zM60.23 454.56h2.61v2.44h-2.61zM76.39 460.99h2.61v2.44h-2.61zM60.23 452.42h2.61v2.44h-2.61zM57.92 456.71h2.61v2.44h-2.61zM85.63 445.99h2.61v2.44h-2.61zM53.30 454.56h2.61v2.44h-2.61zM69.47 458.85h2.61v2.44h-2.61zM44.07 460.99h2.61v2.44h-2.61zM92.56 454.56h2.61v2.44h-2.61zM94.87 454.56h2.61v2.44h-2.61zM62.54 458.85h2.61v2.44h-2.61zM69.47 454.56h2.61v2.44h-2.61zM87.94 458.85h2.61v2.44h-2.61zM76.39 450.28h2.61v2.44h-2.61zM78.70 450.28h2.61v2.44h-2.61zM85.63 458.85h2.61v2.44h-2.61zM85.63 450.28h2.61v2.44h-2.61zM67.16 465.28h2.61v2.44h-2.61zM64.85 452.42h2.61v2.44h-2.61zM64.85 460.99h2.61v2.44h-2.61zM57.92 465.28h2.61v2.44h-2.61zM46.38 463.13h2.61v2.44h-2.61zM62.54 452.42h2.61v2.44h-2.61zM87.94 448.13h2.61v2.44h-2.61zM90.25 445.99h2.61v2.44h-2.61zM69.47 448.13h2.61v2.44h-2.61zM94.87 452.42h2.61v2.44h-2.61zM83.32 458.85h2.61v2.44h-2.61zM48.69 467.42h2.61v2.44h-2.61zM51.00 467.42h2.61v2.44h-2.61zM67.16 460.99h2.61v2.44h-2.61zM78.70 460.99h2.61v2.44h-2.61zM48.69 458.85h2.61v2.44h-2.61z"/><path fill="#e6f4a2" d="M71.78 458.85h2.61v2.44h-2.61zM81.01 452.42h2.61v2.44h-2.61zM76.39 454.56h2.61v2.44h-2.61zM53.30 463.13h2.61v2.44h-2.61zM51.00 458.85h2.61v2.44h-2.61zM62.54 463.13h2.61v2.44h-2.61zM62.54 456.71h2.61v2.44h-2.61zM64.85 456.71h2.61v2.44h-2.61zM51.00 465.28h2.61v2.44h-2.61zM83.32 450.28h2.61v2.44h-2.61zM44.07 467.42h2.61v2.44h-2.61zM83.32 454.56h2.61v2.44h-2.61zM60.23 463.13h2.61v2.44h-2.61zM78.70 456.71h2.61v2.44h-2.61zM83.32 452.42h2.61v2.44h-2.61zM53.30 458.85h2.61v2.44h-2.61zM90.25 454.56h2.61v2.44h-2.61zM69.47 463.13h2.61v2.44h-2.61zM55.61 458.85h2.61v2.44h-2.61zM60.23 460.99h2.61v2.44h-2.61zM69.47 456.71h2.61v2.44h-2.61zM67.16 463.13h2.61v2.44h-2.61zM74.09 452.42h2.61v2.44h-2.61zM90.25 456.71h2.61v2.44h-2.61zM60.23 456.71h2.61v2.44h-2.61zM48.69 465.28h2.61v2.44h-2.61zM67.16 456.71h2.61v2.44h-2.61zM85.63 454.56h2.61v2.44h-2.61zM55.61 456.71h2.61v2.44h-2.61zM90.25 452.42h2.61v2.44h-2.61zM74.09 463.13h2.61v2.44h-2.61zM81.01 458.85h2.61v2.44h-2.61zM53.30 467.42h2.61v2.44h-2.61zM85.63 456.71h2.61v2.44h-2.61zM53.30 465.28h2.61v2.44h-2.61zM55.61 465.28h2.61v2.44h-2.61zM51.00 456.71h2.61v2.44h-2.61zM53.30 460.99h2.61v2.44h-2.61z"/><path fill="#f8f6b0" d="M57.92 460.99h2.61v2.44h-2.61zM64.85 463.13h2.61v2.44h-2.61zM62.54 460.99h2.61v2.44h-2.61zM67.16 458.85h2.61v2.44h-2.61zM74.09 456.71h2.61v2.44h-2.61zM71.78 454.56h2.61v2.44h-2.61zM48.69 463.13h2.61v2.44h-2.61zM44.07 463.13h2.61v2.44h-2.61zM74.09 458.85h2.61v2.44h-2.61zM67.16 454.56h2.61v2.44h-2.61zM71.78 456.71h2.61v2.44h-2.61zM81.01 456.71h2.61v2.44h-2.61zM74.09 460.99h2.61v2.44h-2.61zM57.92 458.85h2.61v2.44h-2.61zM76.39 452.42h2.61v2.44h-2.61zM60.23 458.85h2.61v2.44h-2.61zM78.70 452.42h2.61v2.44h-2.61zM71.78 460.99h2.61v2.44h-2.61zM81.01 454.56h2.61v2.44h-2.61zM76.39 456.71h2.61v2.44h-2.61zM57.92 463.13h2.61v2.44h-2.61zM76.39 458.85h2.61v2.44h-2.61zM62.54 454.56h2.61v2.44h-2.61zM74.09 454.56h2.61v2.44h-2.61zM55.61 460.99h2.61v2.44h-2.61zM55.61 463.13h2.61v2.44h-2.61zM78.70 458.85h2.61v2.44h-2.61zM83.32 456.71h2.61v2.44h-2.61zM90.25 450.28h2.61v2.44h-2.61z"/><path fill="#fed98a" d="M46.38 460.99h2.61v2.44h-2.61z"/><path fill="#f5855a" d="M44.07 465.28h2.61v2.44h-2.61zM46.38 465.28h2.61v2.44h-2.61z"/><path fill="#4d4296" d="M45.5 393.7h2v2h-2zM65.2 342.3h2v2h-2zM70.9 406.6h2v2h-2zM66.3 417.3h2v2h-2zM50.1 413.0h2v2h-2zM77.9 417.3h2v2h-2zM94.0 410.9h2v2h-2zM107.9 408.7h2v2h-2zM114.8 415.1h2v2h-2zM126.3 423.7h2v2h-2zM135.6 419.4h2v2h-2zM142.5 425.9h2v2h-2zM149.4 430.1h2v2h-2zM154.1 438.7h2v2h-2zM158.7 436.6h2v2h-2zM163.3 440.9h2v2h-2zM167.9 445.1h2v2h-2zM174.8 449.4h2v2h-2zM177.1 445.1h2v2h-2zM184.1 436.6h2v2h-2zM181.8 453.7h2v2h-2zM191.0 455.9h2v2h-2zM204.8 447.3h2v2h-2zM209.5 445.1h2v2h-2zM214.1 451.6h2v2h-2zM223.3 451.6h2v2h-2zM225.6 458.0h2v2h-2zM232.6 438.7h2v2h-2zM237.2 432.3h2v2h-2zM241.8 451.6h2v2h-2zM234.9 445.1h2v2h-2zM151.7 460.1h2v2h-2zM133.3 470.9h2v2h-2zM119.4 475.1h2v2h-2zM165.6 458.0h2v2h-2zM100.9 417.3h2v2h-2z"/></g>
<rect x="36.10" y="273.95" width="234.40" height="1.5" fill="#ababab"/>
<rect x="269.75" y="273.95" width="1.5" height="218.30" fill="#ababab"/>
<rect x="36.10" y="488.10" width="234.40" height="1.8" fill="#a6a6a6"/>
<rect x="38.80" y="273.95" width="1.6" height="218.30" fill="#8c8c8c"/>
<rect x="36.10" y="445.54" width="3.5" height="1.2" fill="#a0a0a0"/>
<text x="32.40" y="449.64" text-anchor="end" class="tk">20</text>
<rect x="85.18" y="489.00" width="1.2" height="3.5" fill="#a0a0a0"/>
<text x="84.98" y="506.00" text-anchor="middle" class="tk">20</text>
<rect x="36.10" y="402.68" width="3.5" height="1.2" fill="#a0a0a0"/>
<text x="32.40" y="406.78" text-anchor="end" class="tk">40</text>
<rect x="131.36" y="489.00" width="1.2" height="3.5" fill="#a0a0a0"/>
<text x="131.16" y="506.00" text-anchor="middle" class="tk">40</text>
<rect x="36.10" y="359.82" width="3.5" height="1.2" fill="#a0a0a0"/>
<text x="32.40" y="363.92" text-anchor="end" class="tk">60</text>
<rect x="177.54" y="489.00" width="1.2" height="3.5" fill="#a0a0a0"/>
<text x="177.34" y="506.00" text-anchor="middle" class="tk">60</text>
<rect x="36.10" y="316.96" width="3.5" height="1.2" fill="#a0a0a0"/>
<text x="32.40" y="321.06" text-anchor="end" class="tk">80</text>
<rect x="223.72" y="489.00" width="1.2" height="3.5" fill="#a0a0a0"/>
<text x="223.52" y="506.00" text-anchor="middle" class="tk">80</text>
<text x="157.10" y="519.30" text-anchor="middle" class="lb" textLength="80.4" lengthAdjust="spacingAndGlyphs">GEDI RH98 (m)</text>
<text transform="translate(15.10,380.30) rotate(-90)" x="0" y="0" text-anchor="middle" class="lb" textLength="155" lengthAdjust="spacingAndGlyphs">Landsat RH98 Prediction (m)</text>
<text x="65.6" y="309.3" class="tt" textLength="88.4" lengthAdjust="spacingAndGlyphs">(c) Continental</text>
<line x1="39.60" y1="489.00" x2="268.00" y2="278.20" stroke="#111" stroke-width="1.8" stroke-dasharray="5.5 4"/>
<text x="284.2" y="291.6" class="sf" textLength="228.6" lengthAdjust="spacingAndGlyphs">Very local calibration of Landsat</text>
<text x="284.2" y="311.5" class="sf" textLength="239.9" lengthAdjust="spacingAndGlyphs">height models (within 3 km of the</text>
<text x="284.2" y="330.8" class="sf" textLength="249.4" lengthAdjust="spacingAndGlyphs">target pixel) with NASA GEDI data</text>
<text x="284.2" y="349.8" class="sf" textLength="254.0" lengthAdjust="spacingAndGlyphs">greatly improved prediction of high</text>
<text x="284.2" y="369.0" class="sf" textLength="249.0" lengthAdjust="spacingAndGlyphs">and low values in this global study.</text>
<clipPath id="mc"><rect x="277.5" y="395.5" width="266" height="94"/></clipPath><g clip-path="url(#mc)"><path fill="#e0261f" d="M277.5 395.5h5.0v5.0h-5.0zM287.5 395.5h5.0v5.0h-5.0zM292.5 395.5h5.0v5.0h-5.0zM297.5 395.5h5.0v5.0h-5.0zM302.5 395.5h5.0v5.0h-5.0zM307.5 395.5h5.0v5.0h-5.0zM312.5 395.5h5.0v5.0h-5.0zM282.5 400.5h5.0v5.0h-5.0zM382.5 395.5h5.0v5.0h-5.0zM387.5 395.5h5.0v5.0h-5.0zM392.5 395.5h5.0v5.0h-5.0zM397.5 395.5h5.0v5.0h-5.0zM402.5 395.5h5.0v5.0h-5.0zM407.5 395.5h5.0v5.0h-5.0zM412.5 395.5h5.0v5.0h-5.0zM417.5 395.5h5.0v5.0h-5.0zM422.5 395.5h5.0v5.0h-5.0zM382.5 400.5h5.0v5.0h-5.0zM387.5 400.5h5.0v5.0h-5.0zM392.5 400.5h5.0v5.0h-5.0zM397.5 400.5h5.0v5.0h-5.0zM402.5 400.5h5.0v5.0h-5.0zM407.5 400.5h5.0v5.0h-5.0zM412.5 400.5h5.0v5.0h-5.0zM417.5 400.5h5.0v5.0h-5.0zM422.5 400.5h5.0v5.0h-5.0zM382.5 405.5h5.0v5.0h-5.0zM387.5 405.5h5.0v5.0h-5.0zM392.5 405.5h5.0v5.0h-5.0zM397.5 405.5h5.0v5.0h-5.0zM402.5 405.5h5.0v5.0h-5.0zM407.5 405.5h5.0v5.0h-5.0zM412.5 405.5h5.0v5.0h-5.0zM417.5 405.5h5.0v5.0h-5.0zM422.5 405.5h5.0v5.0h-5.0zM397.5 410.5h5.0v5.0h-5.0zM402.5 410.5h5.0v5.0h-5.0zM407.5 410.5h5.0v5.0h-5.0zM412.5 410.5h5.0v5.0h-5.0zM417.5 410.5h5.0v5.0h-5.0zM412.5 415.5h5.0v5.0h-5.0zM427.5 395.5h5.0v5.0h-5.0zM432.5 395.5h5.0v5.0h-5.0zM437.5 395.5h5.0v5.0h-5.0zM442.5 395.5h5.0v5.0h-5.0zM447.5 395.5h5.0v5.0h-5.0zM452.5 395.5h5.0v5.0h-5.0zM457.5 395.5h5.0v5.0h-5.0zM462.5 395.5h5.0v5.0h-5.0zM467.5 395.5h5.0v5.0h-5.0zM472.5 395.5h5.0v5.0h-5.0zM427.5 400.5h5.0v5.0h-5.0zM432.5 400.5h5.0v5.0h-5.0zM437.5 400.5h5.0v5.0h-5.0zM442.5 400.5h5.0v5.0h-5.0zM447.5 400.5h5.0v5.0h-5.0zM452.5 400.5h5.0v5.0h-5.0zM427.5 405.5h5.0v5.0h-5.0zM432.5 405.5h5.0v5.0h-5.0zM437.5 405.5h5.0v5.0h-5.0zM442.5 405.5h5.0v5.0h-5.0zM477.5 395.5h5.0v5.0h-5.0zM482.5 395.5h5.0v5.0h-5.0zM487.5 395.5h5.0v5.0h-5.0zM492.5 395.5h5.0v5.0h-5.0zM497.5 395.5h5.0v5.0h-5.0zM477.5 400.5h5.0v5.0h-5.0zM482.5 400.5h5.0v5.0h-5.0zM487.5 400.5h5.0v5.0h-5.0zM492.5 400.5h5.0v5.0h-5.0z"/><path fill="#f2812f" d="M282.5 395.5h5.0v5.0h-5.0zM317.5 395.5h5.0v5.0h-5.0zM322.5 395.5h5.0v5.0h-5.0zM287.5 400.5h5.0v5.0h-5.0zM292.5 400.5h5.0v5.0h-5.0zM297.5 400.5h5.0v5.0h-5.0zM302.5 400.5h5.0v5.0h-5.0zM307.5 400.5h5.0v5.0h-5.0zM312.5 400.5h5.0v5.0h-5.0zM317.5 400.5h5.0v5.0h-5.0zM322.5 400.5h5.0v5.0h-5.0zM282.5 405.5h5.0v5.0h-5.0zM287.5 405.5h5.0v5.0h-5.0zM292.5 405.5h5.0v5.0h-5.0zM297.5 405.5h5.0v5.0h-5.0zM302.5 405.5h5.0v5.0h-5.0zM307.5 405.5h5.0v5.0h-5.0zM312.5 405.5h5.0v5.0h-5.0zM317.5 405.5h5.0v5.0h-5.0zM322.5 405.5h5.0v5.0h-5.0zM287.5 410.5h5.0v5.0h-5.0zM292.5 410.5h5.0v5.0h-5.0zM297.5 410.5h5.0v5.0h-5.0zM302.5 410.5h5.0v5.0h-5.0zM307.5 410.5h5.0v5.0h-5.0zM312.5 410.5h5.0v5.0h-5.0zM317.5 410.5h5.0v5.0h-5.0zM312.5 415.5h5.0v5.0h-5.0zM312.5 420.5h5.0v5.0h-5.0zM327.5 395.5h5.0v5.0h-5.0zM332.5 395.5h5.0v5.0h-5.0zM337.5 395.5h5.0v5.0h-5.0zM327.5 400.5h5.0v5.0h-5.0zM327.5 405.5h5.0v5.0h-5.0zM377.5 395.5h5.0v5.0h-5.0zM377.5 400.5h5.0v5.0h-5.0zM377.5 405.5h5.0v5.0h-5.0zM377.5 410.5h5.0v5.0h-5.0zM382.5 410.5h5.0v5.0h-5.0zM387.5 410.5h5.0v5.0h-5.0zM392.5 410.5h5.0v5.0h-5.0zM422.5 410.5h5.0v5.0h-5.0zM382.5 415.5h5.0v5.0h-5.0zM387.5 415.5h5.0v5.0h-5.0zM392.5 415.5h5.0v5.0h-5.0zM397.5 415.5h5.0v5.0h-5.0zM402.5 415.5h5.0v5.0h-5.0zM407.5 415.5h5.0v5.0h-5.0zM417.5 415.5h5.0v5.0h-5.0zM422.5 415.5h5.0v5.0h-5.0zM382.5 420.5h5.0v5.0h-5.0zM387.5 420.5h5.0v5.0h-5.0zM392.5 420.5h5.0v5.0h-5.0zM397.5 420.5h5.0v5.0h-5.0zM402.5 420.5h5.0v5.0h-5.0zM407.5 420.5h5.0v5.0h-5.0zM412.5 420.5h5.0v5.0h-5.0zM417.5 420.5h5.0v5.0h-5.0zM422.5 420.5h5.0v5.0h-5.0zM457.5 400.5h5.0v5.0h-5.0zM462.5 400.5h5.0v5.0h-5.0zM467.5 400.5h5.0v5.0h-5.0zM472.5 400.5h5.0v5.0h-5.0zM447.5 405.5h5.0v5.0h-5.0zM452.5 405.5h5.0v5.0h-5.0zM427.5 410.5h5.0v5.0h-5.0zM432.5 410.5h5.0v5.0h-5.0zM437.5 410.5h5.0v5.0h-5.0zM442.5 410.5h5.0v5.0h-5.0zM427.5 415.5h5.0v5.0h-5.0zM432.5 415.5h5.0v5.0h-5.0zM502.5 395.5h5.0v5.0h-5.0zM507.5 395.5h5.0v5.0h-5.0zM497.5 400.5h5.0v5.0h-5.0zM502.5 400.5h5.0v5.0h-5.0zM477.5 405.5h5.0v5.0h-5.0zM482.5 405.5h5.0v5.0h-5.0zM487.5 405.5h5.0v5.0h-5.0zM492.5 405.5h5.0v5.0h-5.0zM497.5 405.5h5.0v5.0h-5.0zM327.5 485.5h5.0v5.0h-5.0zM397.5 455.5h5.0v5.0h-5.0zM402.5 455.5h5.0v5.0h-5.0zM407.5 455.5h5.0v5.0h-5.0zM397.5 460.5h5.0v5.0h-5.0zM402.5 460.5h5.0v5.0h-5.0zM407.5 460.5h5.0v5.0h-5.0zM412.5 460.5h5.0v5.0h-5.0zM402.5 465.5h5.0v5.0h-5.0zM407.5 465.5h5.0v5.0h-5.0zM412.5 465.5h5.0v5.0h-5.0zM487.5 455.5h5.0v5.0h-5.0zM492.5 455.5h5.0v5.0h-5.0zM497.5 455.5h5.0v5.0h-5.0zM502.5 455.5h5.0v5.0h-5.0zM507.5 455.5h5.0v5.0h-5.0zM487.5 460.5h5.0v5.0h-5.0zM492.5 460.5h5.0v5.0h-5.0zM497.5 460.5h5.0v5.0h-5.0zM502.5 460.5h5.0v5.0h-5.0zM507.5 460.5h5.0v5.0h-5.0zM512.5 460.5h5.0v5.0h-5.0zM487.5 465.5h5.0v5.0h-5.0zM492.5 465.5h5.0v5.0h-5.0zM497.5 465.5h5.0v5.0h-5.0zM502.5 465.5h5.0v5.0h-5.0zM507.5 465.5h5.0v5.0h-5.0zM512.5 465.5h5.0v5.0h-5.0z"/><path fill="#fbcf57" d="M282.5 410.5h5.0v5.0h-5.0zM322.5 410.5h5.0v5.0h-5.0zM292.5 415.5h5.0v5.0h-5.0zM297.5 415.5h5.0v5.0h-5.0zM302.5 415.5h5.0v5.0h-5.0zM307.5 415.5h5.0v5.0h-5.0zM317.5 415.5h5.0v5.0h-5.0zM297.5 420.5h5.0v5.0h-5.0zM302.5 420.5h5.0v5.0h-5.0zM307.5 420.5h5.0v5.0h-5.0zM302.5 425.5h5.0v5.0h-5.0zM307.5 425.5h5.0v5.0h-5.0zM312.5 425.5h5.0v5.0h-5.0zM317.5 425.5h5.0v5.0h-5.0zM332.5 400.5h5.0v5.0h-5.0zM372.5 415.5h5.0v5.0h-5.0zM372.5 420.5h5.0v5.0h-5.0zM327.5 425.5h5.0v5.0h-5.0zM337.5 440.5h5.0v5.0h-5.0zM342.5 440.5h5.0v5.0h-5.0zM347.5 440.5h5.0v5.0h-5.0zM352.5 440.5h5.0v5.0h-5.0zM377.5 415.5h5.0v5.0h-5.0zM377.5 420.5h5.0v5.0h-5.0zM377.5 425.5h5.0v5.0h-5.0zM382.5 425.5h5.0v5.0h-5.0zM387.5 425.5h5.0v5.0h-5.0zM392.5 425.5h5.0v5.0h-5.0zM397.5 425.5h5.0v5.0h-5.0zM402.5 425.5h5.0v5.0h-5.0zM407.5 425.5h5.0v5.0h-5.0zM412.5 425.5h5.0v5.0h-5.0zM417.5 425.5h5.0v5.0h-5.0zM422.5 425.5h5.0v5.0h-5.0zM457.5 405.5h5.0v5.0h-5.0zM462.5 405.5h5.0v5.0h-5.0zM467.5 405.5h5.0v5.0h-5.0zM472.5 405.5h5.0v5.0h-5.0zM447.5 410.5h5.0v5.0h-5.0zM452.5 410.5h5.0v5.0h-5.0zM457.5 410.5h5.0v5.0h-5.0zM437.5 415.5h5.0v5.0h-5.0zM442.5 415.5h5.0v5.0h-5.0zM427.5 420.5h5.0v5.0h-5.0zM432.5 420.5h5.0v5.0h-5.0zM427.5 425.5h5.0v5.0h-5.0zM512.5 395.5h5.0v5.0h-5.0zM517.5 395.5h5.0v5.0h-5.0zM507.5 400.5h5.0v5.0h-5.0zM502.5 405.5h5.0v5.0h-5.0zM482.5 410.5h5.0v5.0h-5.0zM487.5 410.5h5.0v5.0h-5.0zM492.5 410.5h5.0v5.0h-5.0zM497.5 410.5h5.0v5.0h-5.0zM492.5 430.5h5.0v5.0h-5.0zM492.5 435.5h5.0v5.0h-5.0zM492.5 440.5h5.0v5.0h-5.0zM337.5 445.5h5.0v5.0h-5.0zM342.5 445.5h5.0v5.0h-5.0zM347.5 445.5h5.0v5.0h-5.0zM352.5 445.5h5.0v5.0h-5.0zM332.5 450.5h5.0v5.0h-5.0zM337.5 450.5h5.0v5.0h-5.0zM342.5 450.5h5.0v5.0h-5.0zM347.5 450.5h5.0v5.0h-5.0zM352.5 450.5h5.0v5.0h-5.0zM332.5 455.5h5.0v5.0h-5.0zM337.5 455.5h5.0v5.0h-5.0zM342.5 455.5h5.0v5.0h-5.0zM347.5 455.5h5.0v5.0h-5.0zM332.5 460.5h5.0v5.0h-5.0zM337.5 460.5h5.0v5.0h-5.0zM342.5 460.5h5.0v5.0h-5.0zM327.5 465.5h5.0v5.0h-5.0zM332.5 465.5h5.0v5.0h-5.0zM327.5 470.5h5.0v5.0h-5.0zM332.5 470.5h5.0v5.0h-5.0zM327.5 475.5h5.0v5.0h-5.0zM327.5 480.5h5.0v5.0h-5.0zM397.5 450.5h5.0v5.0h-5.0zM402.5 450.5h5.0v5.0h-5.0zM407.5 450.5h5.0v5.0h-5.0zM412.5 450.5h5.0v5.0h-5.0zM412.5 455.5h5.0v5.0h-5.0zM397.5 465.5h5.0v5.0h-5.0zM427.5 450.5h5.0v5.0h-5.0zM427.5 455.5h5.0v5.0h-5.0zM482.5 450.5h5.0v5.0h-5.0zM487.5 450.5h5.0v5.0h-5.0zM492.5 450.5h5.0v5.0h-5.0zM497.5 450.5h5.0v5.0h-5.0zM502.5 450.5h5.0v5.0h-5.0zM482.5 455.5h5.0v5.0h-5.0zM512.5 455.5h5.0v5.0h-5.0zM482.5 460.5h5.0v5.0h-5.0zM517.5 460.5h5.0v5.0h-5.0zM482.5 465.5h5.0v5.0h-5.0zM517.5 465.5h5.0v5.0h-5.0zM507.5 470.5h5.0v5.0h-5.0zM512.5 470.5h5.0v5.0h-5.0zM517.5 470.5h5.0v5.0h-5.0z"/><path fill="#90b9a6" d="M287.5 415.5h5.0v5.0h-5.0zM302.5 430.5h5.0v5.0h-5.0zM322.5 440.5h5.0v5.0h-5.0zM337.5 400.5h5.0v5.0h-5.0zM337.5 425.5h5.0v5.0h-5.0zM362.5 425.5h5.0v5.0h-5.0zM367.5 425.5h5.0v5.0h-5.0zM337.5 430.5h5.0v5.0h-5.0zM342.5 430.5h5.0v5.0h-5.0zM362.5 430.5h5.0v5.0h-5.0zM367.5 430.5h5.0v5.0h-5.0zM327.5 435.5h5.0v5.0h-5.0zM332.5 435.5h5.0v5.0h-5.0zM367.5 435.5h5.0v5.0h-5.0zM372.5 435.5h5.0v5.0h-5.0zM327.5 440.5h5.0v5.0h-5.0zM357.5 440.5h5.0v5.0h-5.0zM372.5 440.5h5.0v5.0h-5.0zM377.5 430.5h5.0v5.0h-5.0zM382.5 430.5h5.0v5.0h-5.0zM387.5 430.5h5.0v5.0h-5.0zM417.5 430.5h5.0v5.0h-5.0zM382.5 435.5h5.0v5.0h-5.0zM387.5 435.5h5.0v5.0h-5.0zM397.5 435.5h5.0v5.0h-5.0zM402.5 435.5h5.0v5.0h-5.0zM412.5 435.5h5.0v5.0h-5.0zM417.5 435.5h5.0v5.0h-5.0zM422.5 435.5h5.0v5.0h-5.0zM382.5 440.5h5.0v5.0h-5.0zM387.5 440.5h5.0v5.0h-5.0zM392.5 440.5h5.0v5.0h-5.0zM397.5 440.5h5.0v5.0h-5.0zM412.5 440.5h5.0v5.0h-5.0zM417.5 440.5h5.0v5.0h-5.0zM472.5 415.5h5.0v5.0h-5.0zM452.5 420.5h5.0v5.0h-5.0zM457.5 420.5h5.0v5.0h-5.0zM467.5 420.5h5.0v5.0h-5.0zM472.5 420.5h5.0v5.0h-5.0zM432.5 425.5h5.0v5.0h-5.0zM447.5 425.5h5.0v5.0h-5.0zM452.5 425.5h5.0v5.0h-5.0zM457.5 425.5h5.0v5.0h-5.0zM467.5 425.5h5.0v5.0h-5.0zM472.5 425.5h5.0v5.0h-5.0zM432.5 430.5h5.0v5.0h-5.0zM447.5 430.5h5.0v5.0h-5.0zM452.5 430.5h5.0v5.0h-5.0zM472.5 430.5h5.0v5.0h-5.0zM427.5 435.5h5.0v5.0h-5.0zM452.5 435.5h5.0v5.0h-5.0zM457.5 435.5h5.0v5.0h-5.0zM472.5 435.5h5.0v5.0h-5.0zM457.5 440.5h5.0v5.0h-5.0zM472.5 440.5h5.0v5.0h-5.0zM507.5 410.5h5.0v5.0h-5.0zM477.5 415.5h5.0v5.0h-5.0zM482.5 415.5h5.0v5.0h-5.0zM497.5 415.5h5.0v5.0h-5.0zM492.5 420.5h5.0v5.0h-5.0zM497.5 425.5h5.0v5.0h-5.0zM497.5 430.5h5.0v5.0h-5.0zM482.5 435.5h5.0v5.0h-5.0zM497.5 435.5h5.0v5.0h-5.0zM487.5 440.5h5.0v5.0h-5.0zM352.5 455.5h5.0v5.0h-5.0zM352.5 460.5h5.0v5.0h-5.0zM332.5 475.5h5.0v5.0h-5.0zM332.5 480.5h5.0v5.0h-5.0zM332.5 485.5h5.0v5.0h-5.0zM392.5 445.5h5.0v5.0h-5.0zM397.5 445.5h5.0v5.0h-5.0zM402.5 445.5h5.0v5.0h-5.0zM407.5 445.5h5.0v5.0h-5.0zM392.5 450.5h5.0v5.0h-5.0zM392.5 455.5h5.0v5.0h-5.0zM422.5 460.5h5.0v5.0h-5.0zM397.5 470.5h5.0v5.0h-5.0zM472.5 445.5h5.0v5.0h-5.0zM427.5 460.5h5.0v5.0h-5.0zM427.5 465.5h5.0v5.0h-5.0zM497.5 445.5h5.0v5.0h-5.0zM507.5 445.5h5.0v5.0h-5.0zM517.5 445.5h5.0v5.0h-5.0zM512.5 450.5h5.0v5.0h-5.0zM517.5 450.5h5.0v5.0h-5.0zM517.5 455.5h5.0v5.0h-5.0zM522.5 455.5h5.0v5.0h-5.0zM497.5 470.5h5.0v5.0h-5.0zM512.5 475.5h5.0v5.0h-5.0zM532.5 455.5h5.0v5.0h-5.0zM537.5 465.5h5.0v5.0h-5.0z"/><path fill="#cde48c" d="M322.5 415.5h5.0v5.0h-5.0zM292.5 420.5h5.0v5.0h-5.0zM317.5 420.5h5.0v5.0h-5.0zM322.5 420.5h5.0v5.0h-5.0zM292.5 425.5h5.0v5.0h-5.0zM297.5 425.5h5.0v5.0h-5.0zM322.5 425.5h5.0v5.0h-5.0zM307.5 430.5h5.0v5.0h-5.0zM312.5 430.5h5.0v5.0h-5.0zM317.5 430.5h5.0v5.0h-5.0zM322.5 430.5h5.0v5.0h-5.0zM342.5 395.5h5.0v5.0h-5.0zM327.5 420.5h5.0v5.0h-5.0zM367.5 420.5h5.0v5.0h-5.0zM332.5 425.5h5.0v5.0h-5.0zM372.5 425.5h5.0v5.0h-5.0zM327.5 430.5h5.0v5.0h-5.0zM332.5 430.5h5.0v5.0h-5.0zM372.5 430.5h5.0v5.0h-5.0zM337.5 435.5h5.0v5.0h-5.0zM342.5 435.5h5.0v5.0h-5.0zM332.5 440.5h5.0v5.0h-5.0zM392.5 430.5h5.0v5.0h-5.0zM397.5 430.5h5.0v5.0h-5.0zM402.5 430.5h5.0v5.0h-5.0zM407.5 430.5h5.0v5.0h-5.0zM412.5 430.5h5.0v5.0h-5.0zM422.5 430.5h5.0v5.0h-5.0zM407.5 435.5h5.0v5.0h-5.0zM402.5 440.5h5.0v5.0h-5.0zM407.5 440.5h5.0v5.0h-5.0zM422.5 440.5h5.0v5.0h-5.0zM462.5 410.5h5.0v5.0h-5.0zM467.5 410.5h5.0v5.0h-5.0zM472.5 410.5h5.0v5.0h-5.0zM447.5 415.5h5.0v5.0h-5.0zM452.5 415.5h5.0v5.0h-5.0zM457.5 415.5h5.0v5.0h-5.0zM462.5 415.5h5.0v5.0h-5.0zM467.5 415.5h5.0v5.0h-5.0zM447.5 420.5h5.0v5.0h-5.0zM462.5 420.5h5.0v5.0h-5.0zM457.5 430.5h5.0v5.0h-5.0zM522.5 395.5h5.0v5.0h-5.0zM512.5 400.5h5.0v5.0h-5.0zM507.5 405.5h5.0v5.0h-5.0zM477.5 410.5h5.0v5.0h-5.0zM502.5 410.5h5.0v5.0h-5.0zM487.5 415.5h5.0v5.0h-5.0zM492.5 415.5h5.0v5.0h-5.0zM477.5 420.5h5.0v5.0h-5.0zM482.5 420.5h5.0v5.0h-5.0zM487.5 420.5h5.0v5.0h-5.0zM477.5 425.5h5.0v5.0h-5.0zM482.5 425.5h5.0v5.0h-5.0zM487.5 425.5h5.0v5.0h-5.0zM492.5 425.5h5.0v5.0h-5.0zM477.5 430.5h5.0v5.0h-5.0zM482.5 430.5h5.0v5.0h-5.0zM487.5 430.5h5.0v5.0h-5.0zM477.5 435.5h5.0v5.0h-5.0zM487.5 435.5h5.0v5.0h-5.0zM477.5 440.5h5.0v5.0h-5.0zM482.5 440.5h5.0v5.0h-5.0zM322.5 460.5h5.0v5.0h-5.0zM322.5 465.5h5.0v5.0h-5.0zM322.5 470.5h5.0v5.0h-5.0zM322.5 475.5h5.0v5.0h-5.0zM322.5 480.5h5.0v5.0h-5.0zM322.5 485.5h5.0v5.0h-5.0zM327.5 445.5h5.0v5.0h-5.0zM332.5 445.5h5.0v5.0h-5.0zM327.5 450.5h5.0v5.0h-5.0zM327.5 455.5h5.0v5.0h-5.0zM357.5 455.5h5.0v5.0h-5.0zM327.5 460.5h5.0v5.0h-5.0zM347.5 460.5h5.0v5.0h-5.0zM337.5 465.5h5.0v5.0h-5.0zM342.5 465.5h5.0v5.0h-5.0zM337.5 470.5h5.0v5.0h-5.0zM412.5 445.5h5.0v5.0h-5.0zM417.5 445.5h5.0v5.0h-5.0zM422.5 445.5h5.0v5.0h-5.0zM417.5 450.5h5.0v5.0h-5.0zM422.5 450.5h5.0v5.0h-5.0zM417.5 455.5h5.0v5.0h-5.0zM422.5 455.5h5.0v5.0h-5.0zM417.5 460.5h5.0v5.0h-5.0zM417.5 465.5h5.0v5.0h-5.0zM402.5 470.5h5.0v5.0h-5.0zM477.5 445.5h5.0v5.0h-5.0zM482.5 445.5h5.0v5.0h-5.0zM487.5 445.5h5.0v5.0h-5.0zM492.5 445.5h5.0v5.0h-5.0zM507.5 450.5h5.0v5.0h-5.0zM487.5 470.5h5.0v5.0h-5.0zM492.5 470.5h5.0v5.0h-5.0zM502.5 470.5h5.0v5.0h-5.0zM532.5 465.5h5.0v5.0h-5.0zM527.5 470.5h5.0v5.0h-5.0zM532.5 470.5h5.0v5.0h-5.0zM527.5 475.5h5.0v5.0h-5.0zM532.5 475.5h5.0v5.0h-5.0z"/><path fill="#2a88c2" d="M307.5 435.5h5.0v5.0h-5.0zM312.5 435.5h5.0v5.0h-5.0zM317.5 435.5h5.0v5.0h-5.0zM322.5 435.5h5.0v5.0h-5.0zM307.5 440.5h5.0v5.0h-5.0zM312.5 440.5h5.0v5.0h-5.0zM317.5 440.5h5.0v5.0h-5.0zM342.5 400.5h5.0v5.0h-5.0zM332.5 420.5h5.0v5.0h-5.0zM362.5 420.5h5.0v5.0h-5.0zM377.5 435.5h5.0v5.0h-5.0zM392.5 435.5h5.0v5.0h-5.0zM427.5 430.5h5.0v5.0h-5.0zM467.5 435.5h5.0v5.0h-5.0zM427.5 440.5h5.0v5.0h-5.0zM467.5 440.5h5.0v5.0h-5.0zM517.5 400.5h5.0v5.0h-5.0zM497.5 420.5h5.0v5.0h-5.0zM307.5 445.5h5.0v5.0h-5.0zM312.5 445.5h5.0v5.0h-5.0zM317.5 445.5h5.0v5.0h-5.0zM322.5 445.5h5.0v5.0h-5.0zM317.5 450.5h5.0v5.0h-5.0zM322.5 450.5h5.0v5.0h-5.0zM322.5 455.5h5.0v5.0h-5.0zM357.5 445.5h5.0v5.0h-5.0zM357.5 450.5h5.0v5.0h-5.0zM347.5 465.5h5.0v5.0h-5.0zM342.5 470.5h5.0v5.0h-5.0zM337.5 475.5h5.0v5.0h-5.0zM337.5 480.5h5.0v5.0h-5.0zM337.5 485.5h5.0v5.0h-5.0zM407.5 470.5h5.0v5.0h-5.0zM427.5 445.5h5.0v5.0h-5.0zM432.5 445.5h5.0v5.0h-5.0zM432.5 450.5h5.0v5.0h-5.0zM432.5 455.5h5.0v5.0h-5.0zM437.5 455.5h5.0v5.0h-5.0zM432.5 460.5h5.0v5.0h-5.0zM502.5 445.5h5.0v5.0h-5.0zM512.5 445.5h5.0v5.0h-5.0zM522.5 445.5h5.0v5.0h-5.0zM522.5 450.5h5.0v5.0h-5.0zM507.5 475.5h5.0v5.0h-5.0zM527.5 445.5h5.0v5.0h-5.0zM527.5 450.5h5.0v5.0h-5.0zM532.5 450.5h5.0v5.0h-5.0zM527.5 455.5h5.0v5.0h-5.0zM537.5 455.5h5.0v5.0h-5.0zM537.5 470.5h5.0v5.0h-5.0zM537.5 475.5h5.0v5.0h-5.0z"/><path d="M277.5 398.9L282.5 398.9M284.1 400.5L284.1 405.5M284.1 405.5L284.1 410.5M282.5 413.9L287.5 413.9M284.1 410.5L284.1 415.5M325.9 410.5L325.9 415.5M287.5 418.9L292.5 418.9M289.1 415.5L289.1 420.5M325.9 415.5L325.9 420.5M294.1 420.5L294.1 425.5M292.5 428.9L297.5 428.9M294.1 425.5L294.1 430.5M297.5 428.9L302.5 428.9M302.5 433.9L307.5 433.9M304.1 430.5L304.1 435.5M309.1 435.5L309.1 440.5M309.1 440.5L309.1 445.5M345.9 395.5L345.9 400.5M332.5 403.9L337.5 403.9M337.5 403.9L342.5 403.9M342.5 403.9L347.5 403.9M345.9 400.5L345.9 405.5M327.5 408.9L332.5 408.9M330.9 405.5L330.9 410.5M372.5 417.1L377.5 417.1M374.1 415.5L374.1 420.5M327.5 422.1L332.5 422.1M332.5 422.1L337.5 422.1M335.9 420.5L335.9 425.5M362.5 422.1L367.5 422.1M364.1 420.5L364.1 425.5M367.5 422.1L372.5 422.1M337.5 427.1L342.5 427.1M340.9 425.5L340.9 430.5M364.1 425.5L364.1 430.5M342.5 432.1L347.5 432.1M345.9 430.5L345.9 435.5M362.5 433.9L367.5 433.9M364.1 430.5L364.1 435.5M345.9 435.5L345.9 440.5M367.5 438.9L372.5 438.9M369.1 435.5L369.1 440.5M347.5 442.1L352.5 442.1M352.5 442.1L357.5 442.1M357.5 442.1L362.5 442.1M360.9 440.5L360.9 445.5M372.5 443.9L377.5 443.9M374.1 440.5L374.1 445.5M375.9 440.5L375.9 445.5M379.1 395.5L379.1 400.5M379.1 400.5L379.1 405.5M379.1 405.5L379.1 410.5M379.1 410.5L379.1 415.5M377.5 438.9L382.5 438.9M382.5 443.9L387.5 443.9M384.1 440.5L384.1 445.5M387.5 443.9L392.5 443.9M437.5 418.9L442.5 418.9M442.5 418.9L447.5 418.9M435.9 420.5L435.9 425.5M449.1 420.5L449.1 425.5M462.5 423.9L467.5 423.9M435.9 425.5L435.9 430.5M449.1 425.5L449.1 430.5M460.9 425.5L460.9 430.5M467.5 428.9L472.5 428.9M469.1 425.5L469.1 430.5M432.5 433.9L437.5 433.9M435.9 430.5L435.9 435.5M447.5 433.9L452.5 433.9M449.1 430.5L449.1 435.5M460.9 430.5L460.9 435.5M474.1 430.5L474.1 435.5M430.9 435.5L430.9 440.5M452.5 438.9L457.5 438.9M454.1 435.5L454.1 440.5M460.9 435.5L460.9 440.5M467.5 437.1L472.5 437.1M469.1 435.5L469.1 440.5M430.9 440.5L430.9 445.5M457.5 443.9L462.5 443.9M459.1 440.5L459.1 445.5M460.9 440.5L460.9 445.5M467.5 443.9L472.5 443.9M469.1 440.5L469.1 445.5M522.5 398.9L527.5 398.9M525.9 395.5L525.9 400.5M512.5 403.9L517.5 403.9M517.5 403.9L522.5 403.9M520.9 400.5L520.9 405.5M510.9 405.5L510.9 410.5M502.5 413.9L507.5 413.9M507.5 413.9L512.5 413.9M510.9 410.5L510.9 415.5M500.9 415.5L500.9 420.5M500.9 420.5L500.9 425.5M500.9 425.5L500.9 430.5M500.9 430.5L500.9 435.5M497.5 438.9L502.5 438.9M500.9 435.5L500.9 440.5M495.9 440.5L495.9 445.5M307.5 448.9L312.5 448.9M309.1 445.5L309.1 450.5M312.5 448.9L317.5 448.9M317.5 453.9L322.5 453.9M319.1 450.5L319.1 455.5M324.1 455.5L324.1 460.5M324.1 460.5L324.1 465.5M324.1 465.5L324.1 470.5M324.1 470.5L324.1 475.5M324.1 475.5L324.1 480.5M324.1 480.5L324.1 485.5M324.1 485.5L324.1 490.5M360.9 445.5L360.9 450.5M360.9 450.5L360.9 455.5M357.5 458.9L362.5 458.9M360.9 455.5L360.9 460.5M352.5 463.9L357.5 463.9M355.9 460.5L355.9 465.5M347.5 468.9L352.5 468.9M350.9 465.5L350.9 470.5M342.5 473.9L347.5 473.9M345.9 470.5L345.9 475.5M340.9 475.5L340.9 480.5M340.9 480.5L340.9 485.5M340.9 485.5L340.9 490.5M394.1 445.5L394.1 450.5M394.1 450.5L394.1 455.5M392.5 458.9L397.5 458.9M394.1 455.5L394.1 460.5M399.1 460.5L399.1 465.5M422.5 463.9L427.5 463.9M399.1 465.5L399.1 470.5M412.5 468.9L417.5 468.9M417.5 468.9L422.5 468.9M420.9 465.5L420.9 470.5M397.5 473.9L402.5 473.9M399.1 470.5L399.1 475.5M402.5 473.9L407.5 473.9M407.5 473.9L412.5 473.9M410.9 470.5L410.9 475.5M432.5 447.1L437.5 447.1M435.9 445.5L435.9 450.5M472.5 448.9L477.5 448.9M474.1 445.5L474.1 450.5M435.9 450.5L435.9 455.5M437.5 457.1L442.5 457.1M437.5 458.9L442.5 458.9M440.9 455.5L440.9 460.5M432.5 463.9L437.5 463.9M435.9 460.5L435.9 465.5M427.5 468.9L432.5 468.9M429.1 465.5L429.1 470.5M430.9 465.5L430.9 470.5M477.5 448.9L482.5 448.9M497.5 447.1L502.5 447.1M502.5 447.1L507.5 447.1M507.5 447.1L512.5 447.1M512.5 447.1L517.5 447.1M517.5 447.1L522.5 447.1M522.5 447.1L527.5 447.1M484.1 450.5L484.1 455.5M484.1 455.5L484.1 460.5M522.5 458.9L527.5 458.9M484.1 460.5L484.1 465.5M520.9 460.5L520.9 465.5M482.5 468.9L487.5 468.9M484.1 465.5L484.1 470.5M520.9 465.5L520.9 470.5M487.5 473.9L492.5 473.9M489.1 470.5L489.1 475.5M492.5 473.9L497.5 473.9M497.5 473.9L502.5 473.9M502.5 473.9L507.5 473.9M517.5 473.9L522.5 473.9M520.9 470.5L520.9 475.5M507.5 478.9L512.5 478.9M509.1 475.5L509.1 480.5M512.5 478.9L517.5 478.9M515.9 475.5L515.9 480.5M527.5 447.1L532.5 447.1M530.9 445.5L530.9 450.5M532.5 452.1L537.5 452.1M535.9 450.5L535.9 455.5M527.5 458.9L532.5 458.9M532.5 458.9L537.5 458.9M537.5 457.1L542.5 457.1M537.5 458.9L542.5 458.9M540.9 455.5L540.9 460.5M532.5 467.1L537.5 467.1M534.1 465.5L534.1 470.5M537.5 467.1L542.5 467.1M540.9 465.5L540.9 470.5M527.5 472.1L532.5 472.1M529.1 470.5L529.1 475.5M540.9 470.5L540.9 475.5M527.5 478.9L532.5 478.9M529.1 475.5L529.1 480.5M532.5 478.9L537.5 478.9M537.5 478.9L542.5 478.9M540.9 475.5L540.9 480.5" stroke="#fff" stroke-width="0.9" stroke-opacity="0.55" fill="none"/><path d="M377.7 408.6L386.0 408.6M377.7 408.6L374.3 420.9M375.7 425.5L379.8 434.8M379.8 434.8L387.0 434.8M385.8 397.1L392.4 396.7M385.8 397.1L385.1 404.4M385.1 404.4L392.7 405.4M385.1 404.4L386.0 408.6M386.0 408.6L395.1 408.7M386.0 408.6L386.4 419.5M386.4 419.5L391.0 417.4M386.4 419.5L383.9 424.4M383.9 424.4L395.6 426.6M387.0 434.8L386.2 445.1M386.2 445.1L393.0 442.4M392.4 396.7L401.5 397.3M392.4 396.7L392.7 405.4M392.7 405.4L402.0 405.4M392.7 405.4L395.1 408.7M395.1 408.7L403.0 413.7M395.1 408.7L391.0 417.4M391.0 417.4L402.0 417.1M391.0 417.4L395.6 426.6M395.6 426.6L403.0 429.6M395.6 426.6L393.7 433.9M393.7 433.9L403.3 435.4M393.7 433.9L393.0 442.4M393.0 442.4L402.2 441.4M402.0 405.4L411.0 405.7M402.0 405.4L403.0 413.7M403.0 413.7L406.7 412.7M403.0 413.7L402.0 417.1M402.0 417.1L408.5 417.0M402.0 417.1L403.0 429.6M403.0 429.6L407.8 428.5M403.0 429.6L403.3 435.4M403.3 435.4L411.1 432.4M403.3 435.4L402.2 441.4M402.2 441.4L409.6 440.5M402.2 441.4L402.9 451.4M402.9 451.4L410.2 450.1M411.0 405.7L406.7 412.7M406.7 412.7L408.5 417.0M408.5 417.0L417.6 416.4M408.5 417.0L407.8 428.5M407.8 428.5L415.3 426.5M411.1 432.4L417.6 433.1M409.6 440.5L414.4 445.1M409.6 440.5L410.2 450.1M410.2 450.1L416.0 453.6M419.1 397.7L417.0 405.8M417.0 405.8L424.8 403.1M417.0 405.8L415.9 408.6M415.9 408.6L425.8 411.5M415.9 408.6L417.6 416.4M417.6 416.4L425.3 419.7M417.6 416.4L415.3 426.5M415.3 426.5L427.5 427.0M417.6 433.1L424.6 436.2M417.6 433.1L414.4 445.1M414.4 445.1L416.0 453.6M424.8 403.1L425.8 411.5M425.8 411.5L430.3 411.6M425.8 411.5L425.3 419.7M425.3 419.7L433.7 416.5M425.3 419.7L427.5 427.0M427.5 427.0L433.7 426.8M427.5 427.0L424.6 436.2M424.6 436.2L434.0 434.2M423.5 441.9L427.7 451.1M427.7 451.1L430.3 448.5M432.5 403.4L439.6 402.8M432.5 403.4L430.3 411.6M430.3 411.6L441.5 410.0M430.3 411.6L433.7 416.5M433.7 416.5L440.2 418.0M433.7 416.5L433.7 426.8M433.7 426.8L434.0 434.2M442.0 397.6L439.6 402.8M439.6 402.8L450.7 401.5M439.6 402.8L441.5 410.0M441.5 410.0L447.2 410.6M441.5 410.0L440.2 418.0M440.2 418.0L450.1 416.8M450.7 401.5L455.5 400.9M450.7 401.5L447.2 410.6M447.2 410.6L457.2 409.3M447.2 410.6L450.1 416.8M450.1 416.8L458.7 420.9M450.1 416.8L448.0 426.1M448.0 426.1L450.9 434.7M450.9 434.7L458.7 435.8M455.5 400.9L464.1 402.5M455.5 400.9L457.2 409.3M457.2 409.3L464.6 410.5M457.2 409.3L458.7 420.9M458.7 420.9L467.4 417.1M458.7 420.9L455.2 425.8M455.2 425.8L462.2 429.5M458.7 435.8L458.7 442.1M464.1 402.5L473.9 403.1M464.6 410.5L471.8 410.1M464.6 410.5L467.4 417.1M467.4 417.1L462.2 429.5M462.2 429.5L473.5 425.8M474.4 396.9L473.9 403.1M473.9 403.1L478.3 404.4M473.9 403.1L471.8 410.1M471.5 416.6L481.9 419.1M473.5 425.8L480.5 429.5M473.5 425.8L474.7 432.5M474.7 432.5L481.6 434.1M474.7 432.5L475.3 444.1M475.3 444.1L479.6 445.0M478.3 404.4L479.2 409.9M479.2 409.9L481.9 419.1M481.9 419.1L480.5 429.5M480.5 429.5L481.6 434.1M481.6 434.1L479.6 445.0M298.6 415.4L309.0 413.0M298.6 415.4L302.2 421.5M302.2 421.5L309.2 421.4M302.2 421.5L300.2 427.1M300.2 427.1L308.3 430.3M309.0 413.0L312.9 416.2M308.3 430.3L314.2 427.1M312.9 416.2L321.3 413.4M312.9 416.2L316.3 422.8M316.3 422.8L314.2 427.1M314.2 427.1L319.4 430.9M314.2 427.1L314.0 435.3M314.0 435.3L321.8 434.2M314.0 435.3L315.1 443.9M315.1 443.9L323.1 441.2M321.3 413.4L327.2 416.1M321.3 413.4L321.7 422.6M321.7 422.6L328.5 422.3M321.7 422.6L319.4 430.9M319.4 430.9L328.7 428.8M319.4 430.9L321.8 434.2M321.8 434.2L327.1 434.4M321.8 434.2L323.1 441.2M323.1 441.2L325.9 444.1M328.5 422.3L328.7 428.8M328.7 428.8L333.9 428.4M328.7 428.8L327.1 434.4M327.1 434.4L336.8 433.8M327.1 434.4L325.9 444.1M325.9 444.1L335.0 441.8M336.2 421.3L333.9 428.4M333.9 428.4L336.8 433.8M336.8 433.8L341.3 437.7M335.0 441.8L340.1 441.9M341.3 437.7L340.1 441.9M340.1 441.9L350.5 444.2M316.1 437.9L326.2 439.2M316.1 437.9L318.0 450.3M326.2 439.2L327.2 449.6M327.2 449.6L333.5 446.9M327.2 449.6L325.3 454.9M325.3 454.9L335.9 455.2M325.3 454.9L325.2 468.8M325.2 468.8L333.0 466.7M325.2 468.8L324.8 475.7M324.8 475.7L335.4 477.3M324.8 475.7L325.1 483.2M325.1 483.2L333.2 484.4M333.9 437.0L333.5 446.9M333.5 446.9L342.4 448.8M333.5 446.9L335.9 455.2M335.9 455.2L342.9 458.8M335.9 455.2L333.0 466.7M333.0 466.7L344.0 464.6M333.0 466.7L335.4 477.3M335.4 477.3L333.2 484.4M342.4 448.8L352.5 451.0M342.4 448.8L342.9 458.8M342.9 458.8L354.8 457.0M342.9 458.8L344.0 464.6M344.0 464.6L342.2 477.4M352.5 451.0L354.8 457.0M354.8 457.0L351.4 468.1M395.1 439.9L403.6 437.7M395.1 439.9L393.6 448.3M393.6 448.3L402.4 446.1M397.3 455.6L406.4 457.3M403.6 437.7L414.5 442.3M403.6 437.7L402.4 446.1M406.4 457.3L413.5 455.5M406.4 457.3L406.1 466.7M406.1 466.7L414.8 466.4M406.1 466.7L404.6 474.4M404.6 474.4L410.8 474.4M414.5 442.3L421.2 438.8M414.5 442.3L414.5 447.9M414.5 447.9L420.1 448.8M414.5 447.9L413.5 455.5M413.5 455.5L414.8 466.4M414.8 466.4L410.8 474.4M420.1 448.8L417.4 457.4M417.4 457.4L426.1 457.5M417.4 457.4L418.7 463.6M418.7 463.6L429.1 466.7M425.8 438.9L427.5 445.6M427.5 445.6L436.1 448.2M427.5 445.6L426.1 457.5M429.1 466.7L434.8 463.8M435.2 458.0L434.8 463.8M475.7 424.8L472.2 429.8M472.2 429.8L477.6 436.6M477.6 436.6L485.8 440.0M477.6 436.6L473.7 446.9M473.7 446.9L483.8 445.0M480.5 413.5L489.2 413.3M485.6 421.0L492.8 425.1M485.6 421.0L485.3 429.2M485.3 429.2L488.5 433.6M485.8 440.0L483.8 445.0M483.8 445.0L488.8 446.4M489.2 413.3L496.9 413.0M492.8 425.1L496.9 422.2M492.8 425.1L488.5 433.6M488.5 433.6L491.2 438.3M491.2 438.3L488.8 446.4M488.8 446.4L501.8 449.7M488.8 446.4L493.7 453.8M496.9 413.0L509.5 414.9M496.9 422.2L501.3 428.6M501.3 428.6L497.3 441.5M497.3 441.5L501.8 449.7M501.8 449.7L507.4 446.8M497.6 454.2L507.2 454.7M507.4 446.8L507.2 454.7M513.7 453.3L523.1 456.5M525.8 448.0L530.0 446.2M523.1 456.5L531.6 457.7M530.0 446.2L531.6 457.7M305.8 431.3L326.7 425.6" stroke="#fff" stroke-width="0.7" stroke-opacity="0.6" fill="none"/></g><rect x="278.2" y="447" width="34" height="42" fill="#fff"/><rect x="281.2" y="450.20" width="9.5" height="4.6" fill="#2a88c2"/><text x="292.8" y="454.30" font-family="Liberation Sans" font-weight="bold" font-size="4.8" fill="#222" textLength="17" lengthAdjust="spacingAndGlyphs">0-3 million</text><rect x="281.2" y="456.70" width="9.5" height="4.6" fill="#90b9a6"/><text x="292.8" y="460.80" font-family="Liberation Sans" font-weight="bold" font-size="4.8" fill="#222" textLength="17" lengthAdjust="spacingAndGlyphs">3-5 million</text><rect x="281.2" y="463.20" width="9.5" height="4.6" fill="#cde48c"/><text x="292.8" y="467.30" font-family="Liberation Sans" font-weight="bold" font-size="4.8" fill="#222" textLength="17" lengthAdjust="spacingAndGlyphs">5-7 million</text><rect x="281.2" y="469.70" width="9.5" height="4.6" fill="#fbcf57"/><text x="292.8" y="473.80" font-family="Liberation Sans" font-weight="bold" font-size="4.8" fill="#222" textLength="19" lengthAdjust="spacingAndGlyphs">7-10 million</text><rect x="281.2" y="476.20" width="9.5" height="4.6" fill="#f2812f"/><text x="292.8" y="480.30" font-family="Liberation Sans" font-weight="bold" font-size="4.8" fill="#222" textLength="21" lengthAdjust="spacingAndGlyphs">10-14 million</text><rect x="281.2" y="482.70" width="9.5" height="4.6" fill="#e0261f"/><text x="292.8" y="486.80" font-family="Liberation Sans" font-weight="bold" font-size="4.8" fill="#222" textLength="21" lengthAdjust="spacingAndGlyphs">14-20 million</text>
<rect x="277.5" y="395.5" width="266" height="94" fill="none" stroke="#8a8a8a" stroke-width="1.3"/>
<text x="292.3" y="504.7" class="cp" textLength="235.3" lengthAdjust="spacingAndGlyphs">Number of high-quality GEDI footprints in a new</text>
<text x="286.5" y="516.2" class="cp" textLength="247.5" lengthAdjust="spacingAndGlyphs">Google Earth Engine asset – first six mission months</text>
</svg></body></html>
